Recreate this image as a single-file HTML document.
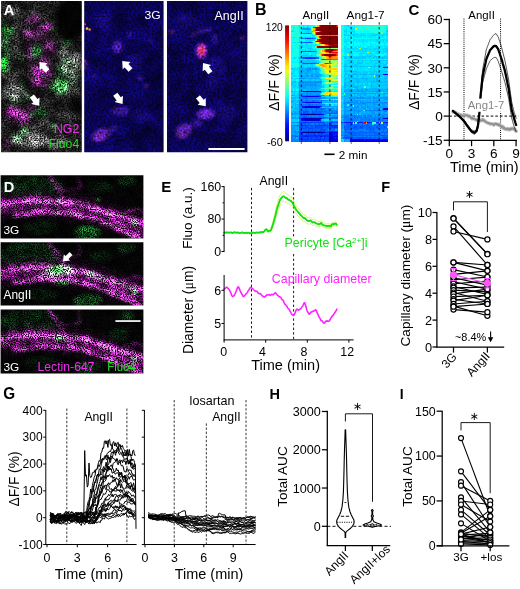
<!DOCTYPE html>
<html><head><meta charset="utf-8"><title>Figure</title>
<style>
html,body{margin:0;padding:0;background:#fff;}
svg{display:block;font-family:'Liberation Sans',Arial,sans-serif;}
svg text{font-family:'Liberation Sans',Arial,sans-serif;}
</style></head><body>
<svg width="520" height="589" viewBox="0 0 520 589">
<rect x="0" y="0" width="520" height="589" fill="#fff"/>
<defs><clipPath id="mc1"><rect x="1.1" y="1.0" width="80.7" height="151.2"/></clipPath>
<filter id="mf1" filterUnits="userSpaceOnUse" x="-4.9" y="-5.0" width="92.7" height="163.2" color-interpolation-filters="sRGB"><feGaussianBlur in="SourceGraphic" stdDeviation="2.0" result="b"/><feTurbulence type="fractalNoise" baseFrequency="0.1" numOctaves="2" seed="11" result="m"/><feColorMatrix in="m" type="matrix" values="2.2 0 0 0 -0.6000000000000001 2.2 0 0 0 -0.6000000000000001 2.2 0 0 0 -0.6000000000000001 0 0 0 0 1" result="m2"/><feComposite in="b" in2="m2" operator="arithmetic" k1="1.0" k2="0.5" k3="0" k4="0" result="c1"/><feTurbulence type="fractalNoise" baseFrequency="0.65" numOctaves="2" seed="4" result="n"/><feColorMatrix in="n" type="matrix" values="2.1 0 0 0 -0.630 2.1 0 0 0 -0.630 2.1 0 0 0 -0.630 0 0 0 0 1" result="n2"/><feComposite in="c1" in2="n2" operator="arithmetic" k1="1.8" k2="0.15" k3="0" k4="0"/></filter></defs>
<g clip-path="url(#mc1)"><g filter="url(#mf1)">
<rect x="-6.9" y="-7.0" width="96.7" height="167.2" fill="#1c1c1c"/>
<ellipse cx="13.1" cy="9.0" rx="8" ry="6" fill="#999" opacity="0.3"/>
<ellipse cx="11.1" cy="41.0" rx="10" ry="16" fill="#777" opacity="0.22"/>
<ellipse cx="15.1" cy="93.0" rx="11" ry="7" fill="#d8d8d8" opacity="0.48"/>
<ellipse cx="9.1" cy="76.0" rx="7" ry="9" fill="#888" opacity="0.3"/>
<ellipse cx="71.1" cy="65.0" rx="10" ry="14" fill="#d8d8d8" opacity="0.42"/>
<ellipse cx="63.1" cy="53.0" rx="6" ry="6" fill="#aaa" opacity="0.3"/>
<ellipse cx="73.1" cy="89.0" rx="7" ry="7" fill="#999" opacity="0.3"/>
<ellipse cx="29.1" cy="139.0" rx="19" ry="8" fill="#d8d8d8" opacity="0.5"/>
<ellipse cx="56.1" cy="141.0" rx="13" ry="7" fill="#999" opacity="0.42"/>
<ellipse cx="41.1" cy="126.0" rx="14" ry="6" fill="#888" opacity="0.22"/>
<ellipse cx="67.1" cy="121.0" rx="10" ry="10" fill="#777" opacity="0.22"/>
<ellipse cx="31.1" cy="21.0" rx="18" ry="12" fill="#555" opacity="0.2"/>
<ellipse cx="26.1" cy="61.0" rx="10" ry="10" fill="#555" opacity="0.15"/>
<ellipse cx="51.1" cy="101.0" rx="10" ry="8" fill="#555" opacity="0.15"/>
<ellipse cx="5.1" cy="46.0" rx="5" ry="22" fill="#208a30" opacity="0.35"/>
<ellipse cx="67.1" cy="73.0" rx="12" ry="16" fill="#50a060" opacity="0.25"/>
<ellipse cx="17.1" cy="101.0" rx="14" ry="10" fill="#50a060" opacity="0.15"/>
<ellipse cx="71.1" cy="19.0" rx="16" ry="22" fill="#000" opacity="0.85"/>
<ellipse cx="77.1" cy="107.0" rx="7" ry="8" fill="#000" opacity="0.8"/>
<ellipse cx="37.1" cy="93.0" rx="8" ry="5" fill="#000" opacity="0.5"/>
<ellipse cx="33.1" cy="20.0" rx="7" ry="3.5" fill="#d030d0" opacity="0.55" transform="rotate(-20 33.1 20.0)"/>
<ellipse cx="47.1" cy="27.0" rx="4.5" ry="3.5" fill="#d030d0" opacity="0.7"/>
<ellipse cx="49.1" cy="26.0" rx="2" ry="1.6" fill="#f060f0" opacity="0.8"/>
<ellipse cx="28.1" cy="34.0" rx="6" ry="3" fill="#d030d0" opacity="0.6" transform="rotate(20 28.1 34.0)"/>
<ellipse cx="27.1" cy="33.0" rx="2.5" ry="1.5" fill="#f060f0" opacity="0.7"/>
<ellipse cx="39.1" cy="31.0" rx="6" ry="4" fill="#d030d0" opacity="0.35"/>
<ellipse cx="30.1" cy="51.0" rx="2.5" ry="9" fill="#d030d0" opacity="0.45"/>
<ellipse cx="51.1" cy="47.0" rx="6" ry="3.5" fill="#d030d0" opacity="0.5" transform="rotate(25 51.1 47.0)"/>
<ellipse cx="45.1" cy="61.0" rx="5" ry="5" fill="#d030d0" opacity="0.4"/>
<ellipse cx="43.1" cy="73.0" rx="10" ry="5.5" fill="#d030d0" opacity="0.55"/>
<ellipse cx="41.1" cy="71.0" rx="4" ry="2.5" fill="#f060f0" opacity="0.5"/>
<ellipse cx="35.1" cy="69.0" rx="5" ry="4" fill="#d030d0" opacity="0.4"/>
<ellipse cx="39.1" cy="82.0" rx="9" ry="3.5" fill="#d030d0" opacity="0.65"/>
<ellipse cx="37.1" cy="81.0" rx="4" ry="2" fill="#f060f0" opacity="0.6"/>
<ellipse cx="15.1" cy="114.0" rx="10" ry="5" fill="#d030d0" opacity="0.65"/>
<ellipse cx="15.6" cy="114.0" rx="4.5" ry="2.5" fill="#f868f8" opacity="0.8"/>
<ellipse cx="23.1" cy="119.0" rx="8" ry="4" fill="#d030d0" opacity="0.5"/>
<ellipse cx="9.1" cy="109.0" rx="5" ry="4" fill="#d030d0" opacity="0.4"/>
<ellipse cx="31.1" cy="107.0" rx="6" ry="4" fill="#d030d0" opacity="0.3"/>
<ellipse cx="7.1" cy="144.0" rx="2.5" ry="2.5" fill="#d030d0" opacity="0.5"/>
<ellipse cx="39.1" cy="46.0" rx="16" ry="20" fill="#802080" opacity="0.18"/>
<ellipse cx="19.1" cy="115.0" rx="16" ry="9" fill="#802080" opacity="0.2"/>
<ellipse cx="7.6" cy="31.0" rx="4" ry="3" fill="#30e040" opacity="1"/>
<ellipse cx="3.1" cy="27.0" rx="2" ry="3" fill="#30e040" opacity="0.9"/>
<ellipse cx="4.1" cy="65.0" rx="3.5" ry="8" fill="#30e040" opacity="0.95"/>
<ellipse cx="36.6" cy="51.0" rx="4.2" ry="6.5" fill="#2cb844" opacity="0.8"/>
<ellipse cx="52.8" cy="31.0" rx="1.8" ry="1.8" fill="#30e040" opacity="0.9"/>
<ellipse cx="65.7" cy="42.0" rx="2.2" ry="2" fill="#30e040" opacity="0.9"/>
<ellipse cx="67.1" cy="60.0" rx="1.5" ry="1.5" fill="#30e040" opacity="0.8"/>
<ellipse cx="59.1" cy="87.0" rx="8" ry="5.5" fill="#70f080" opacity="0.95"/>
<ellipse cx="63.1" cy="81.0" rx="4" ry="3" fill="#30e040" opacity="0.8"/>
<ellipse cx="39.9" cy="113.0" rx="6" ry="3.5" fill="#28a038" opacity="0.8"/>
<ellipse cx="25.1" cy="130.0" rx="2.2" ry="2.2" fill="#30e040" opacity="0.9"/>
<ellipse cx="31.8" cy="115.6" rx="1.5" ry="1.5" fill="#30e040" opacity="0.9"/>
<ellipse cx="18.9" cy="137.0" rx="5" ry="3.5" fill="#80f090" opacity="0.8"/>
<ellipse cx="23.1" cy="86.0" rx="2" ry="2" fill="#30e040" opacity="0.7"/>
<ellipse cx="26.1" cy="98.0" rx="1.8" ry="1.8" fill="#30e040" opacity="0.8"/>
<ellipse cx="21.1" cy="57.0" rx="1.5" ry="1.5" fill="#30e040" opacity="0.7"/>
<ellipse cx="55.1" cy="126.0" rx="2" ry="2" fill="#30e040" opacity="0.7"/>
<ellipse cx="61.1" cy="71.0" rx="2" ry="2" fill="#30e040" opacity="0.6"/>
</g>
</g>
<polygon points="0.0,0.0 -6.4,-5.3 -6.4,-2.6 -12.2,-2.6 -12.2,2.6 -6.4,2.6 -6.4,5.3" fill="#fff" transform="translate(39.4 62.0) rotate(-132)"/>
<polygon points="0.0,0.0 -6.4,-5.3 -6.4,-2.6 -12.2,-2.6 -12.2,2.6 -6.4,2.6 -6.4,5.3" fill="#fff" transform="translate(39.2 105.8) rotate(53)"/>
<text x="3.70" y="15.00" font-size="14.6" text-anchor="start" fill="#fff" font-weight="bold" >A</text>
<text x="54.00" y="133.30" font-size="12.2" text-anchor="start" fill="#f030f0" font-weight="normal" textLength="25.2" lengthAdjust="spacingAndGlyphs" >NG2</text>
<text x="48.60" y="147.50" font-size="12.2" text-anchor="start" fill="#20e020" font-weight="normal" textLength="30.6" lengthAdjust="spacingAndGlyphs" >Fluo4</text>
<defs><clipPath id="mc2"><rect x="84.2" y="1.0" width="79.4" height="151.2"/></clipPath>
<filter id="mf2" filterUnits="userSpaceOnUse" x="78.2" y="-5.0" width="91.4" height="163.2" color-interpolation-filters="sRGB"><feGaussianBlur in="SourceGraphic" stdDeviation="1.6" result="b"/><feTurbulence type="fractalNoise" baseFrequency="0.07" numOctaves="2" seed="16" result="m"/><feColorMatrix in="m" type="matrix" values="1.3 0 0 0 -0.15000000000000002 1.3 0 0 0 -0.15000000000000002 1.3 0 0 0 -0.15000000000000002 0 0 0 0 1" result="m2"/><feComposite in="b" in2="m2" operator="arithmetic" k1="0.8" k2="0.6" k3="0" k4="0" result="c1"/><feTurbulence type="fractalNoise" baseFrequency="0.5" numOctaves="2" seed="9" result="n"/><feColorMatrix in="n" type="matrix" values="1.9 0 0 0 -0.450 1.9 0 0 0 -0.450 1.9 0 0 0 -0.450 0 0 0 0 1" result="n2"/><feComposite in="c1" in2="n2" operator="arithmetic" k1="1.0" k2="0.4" k3="0" k4="0"/></filter></defs>
<g clip-path="url(#mc2)"><g filter="url(#mf2)">
<rect x="76.2" y="-7.0" width="95.4" height="167.2" fill="#0b055e"/>
<ellipse cx="154.2" cy="81.0" rx="10" ry="32" fill="#07033e" opacity="0.75"/>
<ellipse cx="144.2" cy="136.0" rx="18" ry="14" fill="#07033e" opacity="0.6"/>
<ellipse cx="104.2" cy="101.0" rx="14" ry="10" fill="#07033e" opacity="0.5"/>
<ellipse cx="124.2" cy="21.0" rx="20" ry="10" fill="#07033e" opacity="0.35"/>
<ellipse cx="114.2" cy="61.0" rx="10" ry="14" fill="#07033e" opacity="0.4"/>
<ellipse cx="117.5" cy="47.0" rx="5" ry="6.5" fill="#5622c8" opacity="0.85"/>
<ellipse cx="120.2" cy="111.0" rx="9" ry="4.5" fill="#5622c8" opacity="0.6"/>
<ellipse cx="101.2" cy="135.0" rx="10" ry="6" fill="#7228d4" opacity="0.9" transform="rotate(-25 101.2 135.0)"/>
<ellipse cx="99.2" cy="137.0" rx="4" ry="3" fill="#a838e0" opacity="0.7"/>
<ellipse cx="112.2" cy="129.0" rx="6" ry="3" fill="#5622c8" opacity="0.5" transform="rotate(-30 112.2 129.0)"/>
<ellipse cx="85.2" cy="65.0" rx="2" ry="5" fill="#7228d4" opacity="0.8"/>
<ellipse cx="140.2" cy="78.0" rx="2" ry="2" fill="#7228d4" opacity="0.8"/>
<ellipse cx="146.2" cy="86.0" rx="2.5" ry="2" fill="#7228d4" opacity="0.7"/>
<ellipse cx="129.2" cy="34.0" rx="2" ry="2" fill="#5622c8" opacity="0.6"/>
<ellipse cx="150.2" cy="41.0" rx="1.5" ry="1.5" fill="#5622c8" opacity="0.6"/>
<ellipse cx="94.2" cy="76.0" rx="1.5" ry="1.5" fill="#5622c8" opacity="0.7"/>
<ellipse cx="134.2" cy="61.0" rx="8" ry="8" fill="#2a14a8" opacity="0.3"/>
<ellipse cx="104.2" cy="21.0" rx="10" ry="8" fill="#2a14a8" opacity="0.3"/>
<ellipse cx="139.2" cy="116.0" rx="10" ry="6" fill="#2a14a8" opacity="0.3"/>
</g>
<circle cx="87.0" cy="28.6" r="1.3" fill="#ffc020" opacity="1"/>
<circle cx="89.6" cy="29.6" r="1.3" fill="#ff7020" opacity="1"/>
<circle cx="85.1" cy="24.2" r="1.0" fill="#ff40a0" opacity="0.9"/>
<circle cx="84.8" cy="61.0" r="1.0" fill="#c030c0" opacity="0.8"/>
</g>
<polygon points="0.0,0.0 -6.4,-5.3 -6.4,-2.6 -12.2,-2.6 -12.2,2.6 -6.4,2.6 -6.4,5.3" fill="#fff" transform="translate(122.2 61.0) rotate(-133)"/>
<polygon points="0.0,0.0 -6.4,-5.3 -6.4,-2.6 -12.2,-2.6 -12.2,2.6 -6.4,2.6 -6.4,5.3" fill="#fff" transform="translate(122.6 104.0) rotate(53)"/>
<text x="144.40" y="18.70" font-size="11.8" text-anchor="start" fill="#fff" font-weight="normal" textLength="16.2" lengthAdjust="spacingAndGlyphs" >3G</text>
<defs><clipPath id="mc3"><rect x="167.0" y="1.0" width="80.4" height="151.2"/></clipPath>
<filter id="mf3" filterUnits="userSpaceOnUse" x="161.0" y="-5.0" width="92.4" height="163.2" color-interpolation-filters="sRGB"><feGaussianBlur in="SourceGraphic" stdDeviation="1.6" result="b"/><feTurbulence type="fractalNoise" baseFrequency="0.07" numOctaves="2" seed="20" result="m"/><feColorMatrix in="m" type="matrix" values="1.3 0 0 0 -0.15000000000000002 1.3 0 0 0 -0.15000000000000002 1.3 0 0 0 -0.15000000000000002 0 0 0 0 1" result="m2"/><feComposite in="b" in2="m2" operator="arithmetic" k1="0.8" k2="0.6" k3="0" k4="0" result="c1"/><feTurbulence type="fractalNoise" baseFrequency="0.5" numOctaves="2" seed="13" result="n"/><feColorMatrix in="n" type="matrix" values="1.9 0 0 0 -0.450 1.9 0 0 0 -0.450 1.9 0 0 0 -0.450 0 0 0 0 1" result="n2"/><feComposite in="c1" in2="n2" operator="arithmetic" k1="1.0" k2="0.4" k3="0" k4="0"/></filter></defs>
<g clip-path="url(#mc3)"><g filter="url(#mf3)">
<rect x="159.0" y="-7.0" width="96.4" height="167.2" fill="#0b055e"/>
<ellipse cx="192.0" cy="101.0" rx="12" ry="10" fill="#07033e" opacity="0.75"/>
<ellipse cx="175.0" cy="71.0" rx="8" ry="20" fill="#07033e" opacity="0.55"/>
<ellipse cx="235.0" cy="91.0" rx="10" ry="30" fill="#07033e" opacity="0.5"/>
<ellipse cx="229.0" cy="141.0" rx="16" ry="10" fill="#07033e" opacity="0.6"/>
<ellipse cx="217.0" cy="16.0" rx="20" ry="8" fill="#07033e" opacity="0.3"/>
<ellipse cx="201.6" cy="51.0" rx="5.5" ry="8" fill="#9030e0" opacity="0.95"/>
<ellipse cx="201.6" cy="50.5" rx="3.2" ry="5.2" fill="#f02860" opacity="1"/>
<ellipse cx="201.6" cy="50.0" rx="1.6" ry="3" fill="#ff4030" opacity="1"/>
<ellipse cx="205.7" cy="114.0" rx="9.5" ry="5" fill="#7228d4" opacity="0.9"/>
<ellipse cx="184.0" cy="131.0" rx="9" ry="7" fill="#7228d4" opacity="0.85" transform="rotate(-30 184.0 131.0)"/>
<ellipse cx="181.0" cy="135.0" rx="4" ry="3" fill="#a038e0" opacity="0.6"/>
<ellipse cx="197.0" cy="123.0" rx="6" ry="4" fill="#5622c8" opacity="0.5"/>
<ellipse cx="203.0" cy="31.0" rx="10" ry="2.5" fill="#5622c8" opacity="0.55" transform="rotate(-10 203.0 31.0)"/>
<ellipse cx="193.0" cy="35.0" rx="3" ry="2" fill="#7228d4" opacity="0.6"/>
<ellipse cx="215.0" cy="39.0" rx="3" ry="5" fill="#5622c8" opacity="0.5"/>
<ellipse cx="170.4" cy="32.0" rx="1.3" ry="1.3" fill="#f040c0" opacity="1"/>
<ellipse cx="173.0" cy="31.5" rx="1" ry="1" fill="#f040c0" opacity="0.9"/>
<ellipse cx="242.4" cy="37.7" rx="1.3" ry="1.3" fill="#e040e0" opacity="1"/>
<ellipse cx="217.0" cy="66.0" rx="10" ry="10" fill="#2a14a8" opacity="0.3"/>
<ellipse cx="187.0" cy="21.0" rx="10" ry="8" fill="#2a14a8" opacity="0.28"/>
<ellipse cx="227.0" cy="113.0" rx="10" ry="8" fill="#2a14a8" opacity="0.32"/>
<ellipse cx="212.0" cy="81.0" rx="6" ry="10" fill="#2a14a8" opacity="0.28"/>
</g>
</g>
<polygon points="0.0,0.0 -6.4,-5.3 -6.4,-2.6 -12.2,-2.6 -12.2,2.6 -6.4,2.6 -6.4,5.3" fill="#fff" transform="translate(203.0 63.0) rotate(-127)"/>
<polygon points="0.0,0.0 -6.4,-5.3 -6.4,-2.6 -12.2,-2.6 -12.2,2.6 -6.4,2.6 -6.4,5.3" fill="#fff" transform="translate(205.8 106.2) rotate(50)"/>
<text x="214.60" y="19.60" font-size="12.2" text-anchor="start" fill="#fff" font-weight="normal" textLength="29.0" lengthAdjust="spacingAndGlyphs" >AngII</text>
<rect x="208.4" y="148.0" width="36.2" height="2.0" fill="#fff"/>
<defs><clipPath id="mc4"><rect x="0.6" y="175.2" width="142.8" height="63.2"/></clipPath>
<filter id="mf4" filterUnits="userSpaceOnUse" x="-5.4" y="169.2" width="154.8" height="75.2" color-interpolation-filters="sRGB"><feGaussianBlur in="SourceGraphic" stdDeviation="1.5" result="b"/><feTurbulence type="fractalNoise" baseFrequency="0.12" numOctaves="2" seed="28" result="m"/><feColorMatrix in="m" type="matrix" values="1.8 0 0 0 -0.4 1.8 0 0 0 -0.4 1.8 0 0 0 -0.4 0 0 0 0 1" result="m2"/><feComposite in="b" in2="m2" operator="arithmetic" k1="1.0" k2="0.5" k3="0" k4="0" result="c1"/><feTurbulence type="fractalNoise" baseFrequency="0.85" numOctaves="2" seed="21" result="n"/><feColorMatrix in="n" type="matrix" values="2.6 0 0 0 -0.920 2.6 0 0 0 -0.920 2.6 0 0 0 -0.920 0 0 0 0 1" result="n2"/><feComposite in="c1" in2="n2" operator="arithmetic" k1="2.0" k2="0.12" k3="0" k4="0"/></filter></defs>
<g clip-path="url(#mc4)"><g filter="url(#mf4)">
<rect x="-7.4" y="167.2" width="158.8" height="79.2" fill="#050505"/>
<ellipse cx="30.6" cy="187.2" rx="32" ry="12" fill="#1c7a2c" opacity="0.24"/>
<ellipse cx="87.6" cy="232.2" rx="13" ry="7" fill="#229033" opacity="0.5"/>
<ellipse cx="126.6" cy="181.2" rx="9" ry="5" fill="#1c7a2c" opacity="0.25"/>
<ellipse cx="40.6" cy="227.2" rx="18" ry="7" fill="#1c7a2c" opacity="0.14"/>
<ellipse cx="100.6" cy="187.2" rx="14" ry="6" fill="#1c7a2c" opacity="0.12"/>
<polyline points="0.6,207.2 28.6,203.2 56.6,204.7 84.6,209.2 112.6,218.2 143.6,228.2" fill="none" stroke="#a020a0" stroke-width="30" opacity="0.08" stroke-linecap="round" stroke-linejoin="round"/>
<polyline points="0.6,206.2 28.6,202.2 56.6,203.7 84.6,208.2 112.6,217.2 143.6,227.2" fill="none" stroke="#a020a0" stroke-width="15" opacity="0.5" stroke-linecap="round" stroke-linejoin="round"/>
<polyline points="0.6,205.2 28.6,200.2 56.6,201.8 84.6,204.7 112.6,214.2 143.6,223.2" fill="none" stroke="#f048f0" stroke-width="4.2" opacity="0.95" stroke-linecap="round" stroke-linejoin="round"/>
<polyline points="14.6,215.2 42.6,211.7 70.6,213.2 98.6,220.2 126.6,232.8 140.6,239.2" fill="none" stroke="#f048f0" stroke-width="4.0" opacity="0.9" stroke-linecap="round" stroke-linejoin="round"/>
<polyline points="20.6,201.7 56.6,201.8 84.6,204.7 112.6,214.2 135.6,221.2" fill="none" stroke="#ffb0ff" stroke-width="1.4" opacity="0.55" stroke-linecap="round" stroke-linejoin="round"/>
<polyline points="42.6,211.7 70.6,213.2 98.6,220.2 126.6,232.8" fill="none" stroke="#ffb0ff" stroke-width="1.2" opacity="0.45" stroke-linecap="round" stroke-linejoin="round"/>
<polyline points="65.2,200.2 56.6,187.2 48.3,175.2" fill="none" stroke="#c030c0" stroke-width="1.6" opacity="0.8" stroke-linecap="round" stroke-linejoin="round"/>
<polyline points="50.6,178.2 64.6,191.2 80.6,188.2 78.6,177.2" fill="none" stroke="#a028a0" stroke-width="1.3" opacity="0.6" stroke-linecap="round" stroke-linejoin="round"/>
<polyline points="120.6,215.2 132.6,209.2 143.6,211.2" fill="none" stroke="#c030c0" stroke-width="2.0" opacity="0.6" stroke-linecap="round" stroke-linejoin="round"/>
<polyline points="100.6,211.2 120.6,223.2 138.6,235.2" fill="none" stroke="#f048f0" stroke-width="3.0" opacity="0.6" stroke-linecap="round" stroke-linejoin="round"/>
<ellipse cx="98.6" cy="199.2" rx="1.5" ry="1.5" fill="#30e040" opacity="0.9"/>
<ellipse cx="134.6" cy="222.9" rx="2.2" ry="3" fill="#60f070" opacity="0.95"/>
<ellipse cx="59.6" cy="200.2" rx="3" ry="2" fill="#90f0a0" opacity="0.5"/>
</g>
</g>
<text x="3.80" y="192.30" font-size="14.6" text-anchor="start" fill="#fff" font-weight="bold" >D</text>
<text x="3.40" y="234.40" font-size="11.8" text-anchor="start" fill="#fff" font-weight="normal" textLength="15.8" lengthAdjust="spacingAndGlyphs" >3G</text>
<defs><clipPath id="mc5"><rect x="0.6" y="242.2" width="142.8" height="63.4"/></clipPath>
<filter id="mf5" filterUnits="userSpaceOnUse" x="-5.4" y="236.2" width="154.8" height="75.4" color-interpolation-filters="sRGB"><feGaussianBlur in="SourceGraphic" stdDeviation="1.5" result="b"/><feTurbulence type="fractalNoise" baseFrequency="0.12" numOctaves="2" seed="29" result="m"/><feColorMatrix in="m" type="matrix" values="1.8 0 0 0 -0.4 1.8 0 0 0 -0.4 1.8 0 0 0 -0.4 0 0 0 0 1" result="m2"/><feComposite in="b" in2="m2" operator="arithmetic" k1="1.0" k2="0.5" k3="0" k4="0" result="c1"/><feTurbulence type="fractalNoise" baseFrequency="0.85" numOctaves="2" seed="22" result="n"/><feColorMatrix in="n" type="matrix" values="2.6 0 0 0 -0.920 2.6 0 0 0 -0.920 2.6 0 0 0 -0.920 0 0 0 0 1" result="n2"/><feComposite in="c1" in2="n2" operator="arithmetic" k1="2.0" k2="0.12" k3="0" k4="0"/></filter></defs>
<g clip-path="url(#mc5)"><g filter="url(#mf5)">
<rect x="-7.4" y="234.2" width="158.8" height="79.4" fill="#050505"/>
<ellipse cx="30.6" cy="254.2" rx="32" ry="12" fill="#1c7a2c" opacity="0.22"/>
<ellipse cx="87.6" cy="300.2" rx="15" ry="6" fill="#229033" opacity="0.4"/>
<ellipse cx="126.6" cy="248.2" rx="9" ry="5" fill="#1c7a2c" opacity="0.25"/>
<ellipse cx="40.6" cy="294.2" rx="18" ry="6" fill="#1c7a2c" opacity="0.14"/>
<ellipse cx="100.6" cy="256.2" rx="12" ry="5" fill="#1c7a2c" opacity="0.14"/>
<polyline points="0.6,274.2 28.6,270.2 56.6,271.7 84.6,276.2 112.6,285.2 143.6,295.2" fill="none" stroke="#a020a0" stroke-width="30" opacity="0.08" stroke-linecap="round" stroke-linejoin="round"/>
<polyline points="0.6,273.2 28.6,269.2 56.6,270.7 84.6,275.2 112.6,284.2 143.6,294.2" fill="none" stroke="#a020a0" stroke-width="15" opacity="0.5" stroke-linecap="round" stroke-linejoin="round"/>
<polyline points="0.6,272.2 28.6,267.2 56.6,268.8 84.6,271.7 112.6,281.2 143.6,290.2" fill="none" stroke="#f048f0" stroke-width="4.2" opacity="0.95" stroke-linecap="round" stroke-linejoin="round"/>
<polyline points="14.6,282.2 42.6,278.7 70.6,280.2 98.6,287.2 126.6,299.8 140.6,306.2" fill="none" stroke="#f048f0" stroke-width="4.0" opacity="0.9" stroke-linecap="round" stroke-linejoin="round"/>
<polyline points="20.6,268.7 56.6,268.8 84.6,271.7 112.6,281.2 135.6,288.2" fill="none" stroke="#ffb0ff" stroke-width="1.4" opacity="0.55" stroke-linecap="round" stroke-linejoin="round"/>
<polyline points="42.6,278.7 70.6,280.2 98.6,287.2 126.6,299.8" fill="none" stroke="#ffb0ff" stroke-width="1.2" opacity="0.45" stroke-linecap="round" stroke-linejoin="round"/>
<polyline points="65.2,267.2 56.6,254.2 48.3,242.2" fill="none" stroke="#c030c0" stroke-width="1.6" opacity="0.8" stroke-linecap="round" stroke-linejoin="round"/>
<polyline points="50.6,245.2 64.6,258.2 80.6,255.2 78.6,244.2" fill="none" stroke="#a028a0" stroke-width="1.3" opacity="0.6" stroke-linecap="round" stroke-linejoin="round"/>
<polyline points="120.6,282.2 132.6,276.2 143.6,278.2" fill="none" stroke="#c030c0" stroke-width="2.0" opacity="0.6" stroke-linecap="round" stroke-linejoin="round"/>
<polyline points="100.6,278.2 120.6,290.2 138.6,302.2" fill="none" stroke="#f048f0" stroke-width="3.0" opacity="0.6" stroke-linecap="round" stroke-linejoin="round"/>
<ellipse cx="134.6" cy="291.2" rx="2.2" ry="3" fill="#60f070" opacity="0.9"/>
<ellipse cx="58.6" cy="270.2" rx="14" ry="5" fill="#e0ffe6" opacity="0.95"/>
<ellipse cx="56.6" cy="269.7" rx="6" ry="3.5" fill="#40ff50" opacity="0.95"/>
<ellipse cx="47.6" cy="274.2" rx="8" ry="3" fill="#f0d0f8" opacity="0.55"/>
<ellipse cx="70.6" cy="273.2" rx="6" ry="3" fill="#f0d8f8" opacity="0.5"/>
<ellipse cx="90.6" cy="273.7" rx="6" ry="2.2" fill="#a0f0b0" opacity="0.8"/>
<ellipse cx="100.6" cy="278.2" rx="4" ry="2" fill="#80e890" opacity="0.55"/>
<ellipse cx="128.6" cy="288.2" rx="3" ry="2.5" fill="#d0f0d8" opacity="0.6"/>
<ellipse cx="62.6" cy="282.2" rx="8" ry="3" fill="#40d050" opacity="0.5"/>
</g>
</g>
<polygon points="0.0,0.0 -5.8,-4.4 -5.8,-2.0 -11.5,-2.0 -11.5,2.0 -5.8,2.0 -5.8,4.4" fill="#fff" transform="translate(62.9 261.6) rotate(135)"/>
<text x="3.50" y="299.00" font-size="12.0" text-anchor="start" fill="#fff" font-weight="normal" textLength="27.8" lengthAdjust="spacingAndGlyphs" >AngII</text>
<defs><clipPath id="mc6"><rect x="0.6" y="309.5" width="142.8" height="64.0"/></clipPath>
<filter id="mf6" filterUnits="userSpaceOnUse" x="-5.4" y="303.5" width="154.8" height="76.0" color-interpolation-filters="sRGB"><feGaussianBlur in="SourceGraphic" stdDeviation="1.5" result="b"/><feTurbulence type="fractalNoise" baseFrequency="0.12" numOctaves="2" seed="30" result="m"/><feColorMatrix in="m" type="matrix" values="1.8 0 0 0 -0.4 1.8 0 0 0 -0.4 1.8 0 0 0 -0.4 0 0 0 0 1" result="m2"/><feComposite in="b" in2="m2" operator="arithmetic" k1="1.0" k2="0.5" k3="0" k4="0" result="c1"/><feTurbulence type="fractalNoise" baseFrequency="0.85" numOctaves="2" seed="23" result="n"/><feColorMatrix in="n" type="matrix" values="2.6 0 0 0 -0.920 2.6 0 0 0 -0.920 2.6 0 0 0 -0.920 0 0 0 0 1" result="n2"/><feComposite in="c1" in2="n2" operator="arithmetic" k1="2.0" k2="0.12" k3="0" k4="0"/></filter></defs>
<g clip-path="url(#mc6)"><g filter="url(#mf6)">
<rect x="-7.4" y="301.5" width="158.8" height="80.0" fill="#050505"/>
<ellipse cx="30.6" cy="321.5" rx="32" ry="12" fill="#1c7a2c" opacity="0.2"/>
<ellipse cx="87.6" cy="367.5" rx="13" ry="6" fill="#229033" opacity="0.32"/>
<ellipse cx="126.6" cy="315.5" rx="9" ry="5" fill="#1c7a2c" opacity="0.3"/>
<ellipse cx="118.6" cy="334.5" rx="9" ry="7" fill="#1c7a2c" opacity="0.25"/>
<ellipse cx="40.6" cy="361.5" rx="16" ry="6" fill="#1c7a2c" opacity="0.12"/>
<polyline points="0.6,341.5 28.6,337.5 56.6,339.0 84.6,343.5 112.6,352.5 143.6,362.5" fill="none" stroke="#a020a0" stroke-width="30" opacity="0.08" stroke-linecap="round" stroke-linejoin="round"/>
<polyline points="0.6,340.5 28.6,336.5 56.6,338.0 84.6,342.5 112.6,351.5 143.6,361.5" fill="none" stroke="#a020a0" stroke-width="15" opacity="0.5" stroke-linecap="round" stroke-linejoin="round"/>
<polyline points="0.6,339.5 28.6,334.5 56.6,336.1 84.6,339.0 112.6,348.5 143.6,357.5" fill="none" stroke="#f048f0" stroke-width="4.2" opacity="0.95" stroke-linecap="round" stroke-linejoin="round"/>
<polyline points="14.6,349.5 42.6,346.0 70.6,347.5 98.6,354.5 126.6,367.1 140.6,373.5" fill="none" stroke="#f048f0" stroke-width="4.0" opacity="0.9" stroke-linecap="round" stroke-linejoin="round"/>
<polyline points="20.6,336.0 56.6,336.1 84.6,339.0 112.6,348.5 135.6,355.5" fill="none" stroke="#ffb0ff" stroke-width="1.4" opacity="0.55" stroke-linecap="round" stroke-linejoin="round"/>
<polyline points="42.6,346.0 70.6,347.5 98.6,354.5 126.6,367.1" fill="none" stroke="#ffb0ff" stroke-width="1.2" opacity="0.45" stroke-linecap="round" stroke-linejoin="round"/>
<polyline points="65.2,334.5 56.6,321.5 48.3,309.5" fill="none" stroke="#c030c0" stroke-width="1.6" opacity="0.8" stroke-linecap="round" stroke-linejoin="round"/>
<polyline points="50.6,312.5 64.6,325.5 80.6,322.5 78.6,311.5" fill="none" stroke="#a028a0" stroke-width="1.3" opacity="0.6" stroke-linecap="round" stroke-linejoin="round"/>
<polyline points="120.6,349.5 132.6,343.5 143.6,345.5" fill="none" stroke="#c030c0" stroke-width="2.0" opacity="0.6" stroke-linecap="round" stroke-linejoin="round"/>
<polyline points="100.6,345.5 120.6,357.5 138.6,369.5" fill="none" stroke="#f048f0" stroke-width="3.0" opacity="0.6" stroke-linecap="round" stroke-linejoin="round"/>
<ellipse cx="134.6" cy="358.5" rx="2.2" ry="3" fill="#60f070" opacity="0.8"/>
<ellipse cx="58.3" cy="337.5" rx="3.5" ry="2.5" fill="#50f060" opacity="0.9"/>
<ellipse cx="62.6" cy="339.5" rx="6" ry="3" fill="#60c070" opacity="0.45"/>
</g>
</g>
<rect x="115.4" y="320.2" width="25.2" height="1.7" fill="#fff"/>
<text x="3.40" y="370.70" font-size="11.8" text-anchor="start" fill="#fff" font-weight="normal" textLength="15.8" lengthAdjust="spacingAndGlyphs" >3G</text>
<text x="37.50" y="370.70" font-size="12.2" text-anchor="start" fill="#f030f0" font-weight="normal" textLength="57.0" lengthAdjust="spacingAndGlyphs" >Lectin-647</text>
<text x="107.30" y="370.70" font-size="12.2" text-anchor="start" fill="#20e020" font-weight="normal" textLength="28.4" lengthAdjust="spacingAndGlyphs" >Fluo4</text>
<g shape-rendering="crispEdges">
<path fill="#00007f" d="M309.4 113.7h1.6v1.6h-1.6zM312.0 113.7h1.6v1.6h-1.6zM314.6 113.7h1.6v1.6h-1.6zM305.5 131.6h14.6v1.6h-14.6z"/>
<path fill="#000099" d="M305.5 113.7h4.2v1.6h-4.2zM310.7 113.7h1.6v1.6h-1.6zM313.3 113.7h1.6v1.6h-1.6zM310.7 117.8h1.6v1.6h-1.6zM313.3 117.8h2.9v1.6h-2.9zM301.6 131.6h1.6v1.6h-1.6zM304.2 131.6h1.6v1.6h-1.6zM319.8 131.6h1.6v1.6h-1.6z"/>
<path fill="#0000b2" d="M306.8 90.2h1.6v1.6h-1.6zM314.6 90.2h1.6v1.6h-1.6zM306.8 106.8h5.5v1.6h-5.5zM315.9 113.7h1.6v1.6h-1.6zM304.2 117.8h6.8v1.6h-6.8zM312.0 117.8h1.6v1.6h-1.6zM315.9 117.8h2.9v1.6h-2.9zM308.1 119.2h2.9v1.6h-2.9zM302.9 131.6h1.6v1.6h-1.6zM321.1 131.6h4.2v1.6h-4.2zM330.2 135.8h1.6v1.6h-1.6zM328.9 138.5h1.6v1.6h-1.6zM328.9 139.9h1.6v1.6h-1.6z"/>
<path fill="#0000cc" d="M308.1 90.2h6.8v1.6h-6.8zM315.9 90.2h1.6v1.6h-1.6zM306.8 105.4h1.6v1.6h-1.6zM309.4 105.4h2.9v1.6h-2.9zM313.3 105.4h1.6v1.6h-1.6zM312.0 106.8h2.9v1.6h-2.9zM315.9 106.8h1.6v1.6h-1.6zM302.9 113.7h2.9v1.6h-2.9zM317.2 113.7h4.2v1.6h-4.2zM302.9 117.8h1.6v1.6h-1.6zM318.5 117.8h2.9v1.6h-2.9zM304.2 119.2h1.6v1.6h-1.6zM306.8 119.2h1.6v1.6h-1.6zM310.7 119.2h2.9v1.6h-2.9zM314.6 119.2h1.6v1.6h-1.6zM336.7 131.6h1.6v1.6h-1.6zM328.9 135.8h1.6v1.6h-1.6zM331.5 135.8h1.6v1.6h-1.6zM335.4 135.8h2.9v1.6h-2.9zM330.2 138.5h1.6v1.6h-1.6zM330.2 139.9h1.6v1.6h-1.6zM335.4 139.9h1.6v1.6h-1.6z"/>
<path fill="#0000e5" d="M304.2 90.2h2.9v1.6h-2.9zM317.2 90.2h2.9v1.6h-2.9zM308.1 95.8h5.5v1.6h-5.5zM305.5 101.3h1.6v1.6h-1.6zM308.1 101.3h1.6v1.6h-1.6zM310.7 101.3h1.6v1.6h-1.6zM313.3 101.3h1.6v1.6h-1.6zM304.2 105.4h2.9v1.6h-2.9zM308.1 105.4h1.6v1.6h-1.6zM312.0 105.4h1.6v1.6h-1.6zM314.6 105.4h5.5v1.6h-5.5zM302.9 106.8h4.2v1.6h-4.2zM314.6 106.8h1.6v1.6h-1.6zM301.6 113.7h1.6v1.6h-1.6zM321.1 113.7h1.6v1.6h-1.6zM301.6 117.8h1.6v1.6h-1.6zM305.5 119.2h1.6v1.6h-1.6zM313.3 119.2h1.6v1.6h-1.6zM315.9 119.2h2.9v1.6h-2.9zM334.1 131.6h1.6v1.6h-1.6zM328.9 133.0h2.9v1.6h-2.9zM328.9 134.4h2.9v1.6h-2.9zM332.8 135.8h2.9v1.6h-2.9zM328.9 137.2h4.2v1.6h-4.2zM331.5 138.5h1.6v1.6h-1.6zM335.4 138.5h2.9v1.6h-2.9zM331.5 139.9h4.2v1.6h-4.2zM336.7 139.9h1.6v1.6h-1.6z"/>
<path fill="#0000ff" d="M302.9 90.2h1.6v1.6h-1.6zM319.8 90.2h1.6v1.6h-1.6zM305.5 95.8h2.9v1.6h-2.9zM313.3 95.8h5.5v1.6h-5.5zM304.2 101.3h1.6v1.6h-1.6zM306.8 101.3h1.6v1.6h-1.6zM309.4 101.3h1.6v1.6h-1.6zM312.0 101.3h1.6v1.6h-1.6zM314.6 101.3h5.5v1.6h-5.5zM301.6 105.4h1.6v1.6h-1.6zM319.8 105.4h1.6v1.6h-1.6zM301.6 106.8h1.6v1.6h-1.6zM317.2 106.8h1.6v1.6h-1.6zM321.1 117.8h1.6v1.6h-1.6zM301.6 119.2h2.9v1.6h-2.9zM318.5 119.2h1.6v1.6h-1.6zM331.5 124.7h1.6v1.6h-1.6zM328.9 131.6h5.5v1.6h-5.5zM335.4 131.6h1.6v1.6h-1.6zM331.5 133.0h1.6v1.6h-1.6zM334.1 133.0h1.6v1.6h-1.6zM331.5 134.4h1.6v1.6h-1.6zM335.4 134.4h1.6v1.6h-1.6zM321.1 135.8h1.6v1.6h-1.6zM332.8 137.2h1.6v1.6h-1.6zM335.4 137.2h1.6v1.6h-1.6zM332.8 138.5h2.9v1.6h-2.9z"/>
<path fill="#0019ff" d="M309.4 57.1h1.6v1.6h-1.6zM301.6 90.2h1.6v1.6h-1.6zM301.6 95.8h4.2v1.6h-4.2zM302.9 101.3h1.6v1.6h-1.6zM319.8 101.3h2.9v1.6h-2.9zM302.9 105.4h1.6v1.6h-1.6zM318.5 106.8h1.6v1.6h-1.6zM322.4 113.7h1.6v1.6h-1.6zM319.8 119.2h1.6v1.6h-1.6zM300.3 124.7h1.6v1.6h-1.6zM318.5 124.7h1.6v1.6h-1.6zM328.9 124.7h2.9v1.6h-2.9zM334.1 124.7h4.2v1.6h-4.2zM328.9 126.1h1.6v1.6h-1.6zM334.1 126.1h1.6v1.6h-1.6zM328.9 130.3h1.6v1.6h-1.6zM332.8 130.3h2.9v1.6h-2.9zM332.8 133.0h1.6v1.6h-1.6zM335.4 133.0h2.9v1.6h-2.9zM304.2 134.4h2.9v1.6h-2.9zM309.4 134.4h1.6v1.6h-1.6zM313.3 134.4h4.2v1.6h-4.2zM318.5 134.4h1.6v1.6h-1.6zM323.7 134.4h1.6v1.6h-1.6zM326.3 134.4h1.6v1.6h-1.6zM332.8 134.4h2.9v1.6h-2.9zM336.7 134.4h1.6v1.6h-1.6zM300.3 135.8h1.6v1.6h-1.6zM302.9 135.8h6.8v1.6h-6.8zM315.9 135.8h1.6v1.6h-1.6zM319.8 135.8h1.6v1.6h-1.6zM323.7 135.8h1.6v1.6h-1.6zM334.1 137.2h1.6v1.6h-1.6zM336.7 137.2h1.6v1.6h-1.6zM300.3 138.5h1.6v1.6h-1.6zM306.8 138.5h2.9v1.6h-2.9zM310.7 138.5h1.6v1.6h-1.6zM315.9 138.5h2.9v1.6h-2.9zM319.8 138.5h1.6v1.6h-1.6zM322.4 138.5h2.9v1.6h-2.9z"/>
<path fill="#0032ff" d="M306.8 37.8h1.6v1.6h-1.6zM304.2 57.1h5.5v1.6h-5.5zM310.7 57.1h5.5v1.6h-5.5zM310.7 62.7h1.6v1.6h-1.6zM318.5 95.8h2.9v1.6h-2.9zM301.6 101.3h1.6v1.6h-1.6zM306.8 112.3h1.6v1.6h-1.6zM313.3 112.3h1.6v1.6h-1.6zM299.0 117.8h1.6v1.6h-1.6zM302.9 122.0h4.2v1.6h-4.2zM308.1 122.0h1.6v1.6h-1.6zM310.7 122.0h1.6v1.6h-1.6zM314.6 122.0h1.6v1.6h-1.6zM317.2 122.0h1.6v1.6h-1.6zM319.8 122.0h1.6v1.6h-1.6zM328.9 122.0h2.9v1.6h-2.9zM301.6 124.7h5.5v1.6h-5.5zM310.7 124.7h1.6v1.6h-1.6zM314.6 124.7h4.2v1.6h-4.2zM319.8 124.7h6.8v1.6h-6.8zM332.8 124.7h1.6v1.6h-1.6zM300.3 126.1h1.6v1.6h-1.6zM314.6 126.1h1.6v1.6h-1.6zM330.2 126.1h4.2v1.6h-4.2zM335.4 126.1h2.9v1.6h-2.9zM300.3 127.5h1.6v1.6h-1.6zM309.4 127.5h1.6v1.6h-1.6zM321.1 127.5h1.6v1.6h-1.6zM328.9 127.5h1.6v1.6h-1.6zM304.2 130.3h1.6v1.6h-1.6zM308.1 130.3h1.6v1.6h-1.6zM310.7 130.3h2.9v1.6h-2.9zM314.6 130.3h1.6v1.6h-1.6zM317.2 130.3h4.2v1.6h-4.2zM330.2 130.3h2.9v1.6h-2.9zM335.4 130.3h2.9v1.6h-2.9zM299.0 131.6h2.9v1.6h-2.9zM325.0 131.6h2.9v1.6h-2.9zM301.6 133.0h1.6v1.6h-1.6zM308.1 133.0h1.6v1.6h-1.6zM313.3 133.0h1.6v1.6h-1.6zM317.2 133.0h1.6v1.6h-1.6zM321.1 133.0h1.6v1.6h-1.6zM299.0 134.4h5.5v1.6h-5.5zM306.8 134.4h2.9v1.6h-2.9zM310.7 134.4h2.9v1.6h-2.9zM317.2 134.4h1.6v1.6h-1.6zM319.8 134.4h4.2v1.6h-4.2zM325.0 134.4h1.6v1.6h-1.6zM327.6 134.4h1.6v1.6h-1.6zM299.0 135.8h1.6v1.6h-1.6zM301.6 135.8h1.6v1.6h-1.6zM309.4 135.8h6.8v1.6h-6.8zM317.2 135.8h2.9v1.6h-2.9zM322.4 135.8h1.6v1.6h-1.6zM325.0 135.8h4.2v1.6h-4.2zM299.0 137.2h1.6v1.6h-1.6zM301.6 137.2h1.6v1.6h-1.6zM306.8 137.2h1.6v1.6h-1.6zM310.7 137.2h1.6v1.6h-1.6zM315.9 137.2h1.6v1.6h-1.6zM319.8 137.2h1.6v1.6h-1.6zM323.7 137.2h1.6v1.6h-1.6zM299.0 138.5h1.6v1.6h-1.6zM301.6 138.5h5.5v1.6h-5.5zM312.0 138.5h4.2v1.6h-4.2zM318.5 138.5h1.6v1.6h-1.6zM321.1 138.5h1.6v1.6h-1.6zM326.3 138.5h2.9v1.6h-2.9zM300.3 139.9h2.9v1.6h-2.9zM304.2 139.9h1.6v1.6h-1.6zM306.8 139.9h1.6v1.6h-1.6zM309.4 139.9h1.6v1.6h-1.6zM313.3 139.9h2.9v1.6h-2.9zM317.2 139.9h4.2v1.6h-4.2zM322.4 139.9h1.6v1.6h-1.6zM325.0 139.9h1.6v1.6h-1.6z"/>
<path fill="#004cff" d="M305.5 37.8h1.6v1.6h-1.6zM308.1 37.8h2.9v1.6h-2.9zM312.0 37.8h1.6v1.6h-1.6zM304.2 42.0h1.6v1.6h-1.6zM308.1 42.0h2.9v1.6h-2.9zM304.2 50.2h1.6v1.6h-1.6zM306.8 50.2h4.2v1.6h-4.2zM302.9 57.1h1.6v1.6h-1.6zM302.9 62.7h2.9v1.6h-2.9zM306.8 62.7h4.2v1.6h-4.2zM312.0 62.7h2.9v1.6h-2.9zM321.1 105.4h1.6v1.6h-1.6zM315.9 108.2h1.6v1.6h-1.6zM299.0 110.9h1.6v1.6h-1.6zM302.9 110.9h6.8v1.6h-6.8zM312.0 110.9h1.6v1.6h-1.6zM315.9 110.9h1.6v1.6h-1.6zM318.5 110.9h1.6v1.6h-1.6zM299.0 112.3h2.9v1.6h-2.9zM302.9 112.3h2.9v1.6h-2.9zM310.7 112.3h2.9v1.6h-2.9zM317.2 112.3h1.6v1.6h-1.6zM319.8 112.3h1.6v1.6h-1.6zM330.2 112.3h1.6v1.6h-1.6zM300.3 113.7h1.6v1.6h-1.6zM299.0 116.5h1.6v1.6h-1.6zM301.6 116.5h5.5v1.6h-5.5zM309.4 116.5h2.9v1.6h-2.9zM313.3 116.5h1.6v1.6h-1.6zM319.8 116.5h1.6v1.6h-1.6zM322.4 116.5h2.9v1.6h-2.9zM331.5 116.5h1.6v1.6h-1.6zM335.4 117.8h1.6v1.6h-1.6zM331.5 120.6h1.6v1.6h-1.6zM299.0 122.0h4.2v1.6h-4.2zM306.8 122.0h1.6v1.6h-1.6zM309.4 122.0h1.6v1.6h-1.6zM312.0 122.0h2.9v1.6h-2.9zM315.9 122.0h1.6v1.6h-1.6zM318.5 122.0h1.6v1.6h-1.6zM322.4 122.0h2.9v1.6h-2.9zM335.4 122.0h2.9v1.6h-2.9zM304.2 123.4h1.6v1.6h-1.6zM323.7 123.4h1.6v1.6h-1.6zM328.9 123.4h2.9v1.6h-2.9zM299.0 124.7h1.6v1.6h-1.6zM306.8 124.7h4.2v1.6h-4.2zM312.0 124.7h2.9v1.6h-2.9zM326.3 124.7h1.6v1.6h-1.6zM299.0 126.1h1.6v1.6h-1.6zM301.6 126.1h1.6v1.6h-1.6zM304.2 126.1h5.5v1.6h-5.5zM310.7 126.1h2.9v1.6h-2.9zM315.9 126.1h8.1v1.6h-8.1zM326.3 126.1h1.6v1.6h-1.6zM301.6 127.5h4.2v1.6h-4.2zM308.1 127.5h1.6v1.6h-1.6zM310.7 127.5h4.2v1.6h-4.2zM315.9 127.5h2.9v1.6h-2.9zM330.2 127.5h1.6v1.6h-1.6zM332.8 127.5h2.9v1.6h-2.9zM299.0 128.9h2.9v1.6h-2.9zM308.1 128.9h1.6v1.6h-1.6zM312.0 128.9h1.6v1.6h-1.6zM314.6 128.9h1.6v1.6h-1.6zM319.8 128.9h5.5v1.6h-5.5zM328.9 128.9h1.6v1.6h-1.6zM299.0 130.3h5.5v1.6h-5.5zM305.5 130.3h2.9v1.6h-2.9zM309.4 130.3h1.6v1.6h-1.6zM313.3 130.3h1.6v1.6h-1.6zM315.9 130.3h1.6v1.6h-1.6zM321.1 130.3h5.5v1.6h-5.5zM327.6 130.3h1.6v1.6h-1.6zM327.6 131.6h1.6v1.6h-1.6zM299.0 133.0h2.9v1.6h-2.9zM305.5 133.0h2.9v1.6h-2.9zM309.4 133.0h4.2v1.6h-4.2zM314.6 133.0h1.6v1.6h-1.6zM318.5 133.0h2.9v1.6h-2.9zM322.4 133.0h1.6v1.6h-1.6zM325.0 133.0h2.9v1.6h-2.9zM300.3 137.2h1.6v1.6h-1.6zM302.9 137.2h4.2v1.6h-4.2zM308.1 137.2h2.9v1.6h-2.9zM312.0 137.2h4.2v1.6h-4.2zM317.2 137.2h2.9v1.6h-2.9zM321.1 137.2h1.6v1.6h-1.6zM325.0 137.2h4.2v1.6h-4.2zM309.4 138.5h1.6v1.6h-1.6zM325.0 138.5h1.6v1.6h-1.6zM299.0 139.9h1.6v1.6h-1.6zM302.9 139.9h1.6v1.6h-1.6zM305.5 139.9h1.6v1.6h-1.6zM308.1 139.9h1.6v1.6h-1.6zM310.7 139.9h2.9v1.6h-2.9zM315.9 139.9h1.6v1.6h-1.6zM321.1 139.9h1.6v1.6h-1.6zM323.7 139.9h1.6v1.6h-1.6zM326.3 139.9h2.9v1.6h-2.9z"/>
<path fill="#0065ff" d="M308.1 32.3h1.6v1.6h-1.6zM304.2 37.8h1.6v1.6h-1.6zM310.7 37.8h1.6v1.6h-1.6zM302.9 42.0h1.6v1.6h-1.6zM305.5 42.0h2.9v1.6h-2.9zM301.6 50.2h2.9v1.6h-2.9zM305.5 50.2h1.6v1.6h-1.6zM310.7 50.2h4.2v1.6h-4.2zM301.6 57.1h1.6v1.6h-1.6zM315.9 57.1h2.9v1.6h-2.9zM305.5 62.7h1.6v1.6h-1.6zM299.0 90.2h1.6v1.6h-1.6zM299.0 94.4h1.6v1.6h-1.6zM301.6 94.4h1.6v1.6h-1.6zM305.5 94.4h2.9v1.6h-2.9zM315.9 94.4h4.2v1.6h-4.2zM299.0 97.1h1.6v1.6h-1.6zM304.2 97.1h2.9v1.6h-2.9zM300.3 99.9h2.9v1.6h-2.9zM305.5 99.9h2.9v1.6h-2.9zM312.0 99.9h2.9v1.6h-2.9zM321.1 99.9h1.6v1.6h-1.6zM299.0 101.3h1.6v1.6h-1.6zM299.0 104.0h1.6v1.6h-1.6zM308.1 104.0h2.9v1.6h-2.9zM312.0 104.0h1.6v1.6h-1.6zM315.9 104.0h1.6v1.6h-1.6zM299.0 108.2h1.6v1.6h-1.6zM304.2 108.2h2.9v1.6h-2.9zM310.7 108.2h1.6v1.6h-1.6zM314.6 108.2h1.6v1.6h-1.6zM317.2 108.2h6.8v1.6h-6.8zM301.6 109.6h1.6v1.6h-1.6zM304.2 109.6h4.2v1.6h-4.2zM312.0 109.6h1.6v1.6h-1.6zM314.6 109.6h2.9v1.6h-2.9zM321.1 109.6h1.6v1.6h-1.6zM300.3 110.9h1.6v1.6h-1.6zM313.3 110.9h2.9v1.6h-2.9zM317.2 110.9h1.6v1.6h-1.6zM319.8 110.9h6.8v1.6h-6.8zM331.5 110.9h1.6v1.6h-1.6zM335.4 110.9h1.6v1.6h-1.6zM301.6 112.3h1.6v1.6h-1.6zM305.5 112.3h1.6v1.6h-1.6zM308.1 112.3h2.9v1.6h-2.9zM314.6 112.3h2.9v1.6h-2.9zM318.5 112.3h1.6v1.6h-1.6zM321.1 112.3h1.6v1.6h-1.6zM327.6 112.3h1.6v1.6h-1.6zM331.5 112.3h6.8v1.6h-6.8zM299.0 113.7h1.6v1.6h-1.6zM323.7 113.7h1.6v1.6h-1.6zM302.9 115.1h4.2v1.6h-4.2zM308.1 115.1h1.6v1.6h-1.6zM318.5 115.1h1.6v1.6h-1.6zM300.3 116.5h1.6v1.6h-1.6zM306.8 116.5h2.9v1.6h-2.9zM312.0 116.5h1.6v1.6h-1.6zM314.6 116.5h5.5v1.6h-5.5zM321.1 116.5h1.6v1.6h-1.6zM325.0 116.5h2.9v1.6h-2.9zM328.9 116.5h1.6v1.6h-1.6zM332.8 116.5h5.5v1.6h-5.5zM300.3 117.8h1.6v1.6h-1.6zM322.4 117.8h1.6v1.6h-1.6zM330.2 117.8h1.6v1.6h-1.6zM332.8 117.8h2.9v1.6h-2.9zM336.7 117.8h1.6v1.6h-1.6zM300.3 119.2h1.6v1.6h-1.6zM299.0 120.6h4.2v1.6h-4.2zM304.2 120.6h1.6v1.6h-1.6zM306.8 120.6h2.9v1.6h-2.9zM310.7 120.6h4.2v1.6h-4.2zM315.9 120.6h2.9v1.6h-2.9zM319.8 120.6h1.6v1.6h-1.6zM328.9 120.6h2.9v1.6h-2.9zM332.8 120.6h2.9v1.6h-2.9zM336.7 120.6h1.6v1.6h-1.6zM321.1 122.0h1.6v1.6h-1.6zM326.3 122.0h1.6v1.6h-1.6zM331.5 122.0h4.2v1.6h-4.2zM299.0 123.4h5.5v1.6h-5.5zM306.8 123.4h4.2v1.6h-4.2zM313.3 123.4h2.9v1.6h-2.9zM317.2 123.4h2.9v1.6h-2.9zM321.1 123.4h2.9v1.6h-2.9zM325.0 123.4h2.9v1.6h-2.9zM295.1 124.7h4.2v1.6h-4.2zM327.6 124.7h1.6v1.6h-1.6zM302.9 126.1h1.6v1.6h-1.6zM309.4 126.1h1.6v1.6h-1.6zM313.3 126.1h1.6v1.6h-1.6zM323.7 126.1h2.9v1.6h-2.9zM327.6 126.1h1.6v1.6h-1.6zM299.0 127.5h1.6v1.6h-1.6zM305.5 127.5h2.9v1.6h-2.9zM314.6 127.5h1.6v1.6h-1.6zM318.5 127.5h2.9v1.6h-2.9zM322.4 127.5h5.5v1.6h-5.5zM331.5 127.5h1.6v1.6h-1.6zM335.4 127.5h2.9v1.6h-2.9zM301.6 128.9h6.8v1.6h-6.8zM309.4 128.9h2.9v1.6h-2.9zM313.3 128.9h1.6v1.6h-1.6zM315.9 128.9h4.2v1.6h-4.2zM325.0 128.9h2.9v1.6h-2.9zM330.2 128.9h5.5v1.6h-5.5zM336.7 128.9h1.6v1.6h-1.6zM326.3 130.3h1.6v1.6h-1.6zM302.9 133.0h2.9v1.6h-2.9zM315.9 133.0h1.6v1.6h-1.6zM323.7 133.0h1.6v1.6h-1.6zM327.6 133.0h1.6v1.6h-1.6zM292.5 134.4h1.6v1.6h-1.6zM295.1 134.4h1.6v1.6h-1.6zM295.1 135.8h2.9v1.6h-2.9zM322.4 137.2h1.6v1.6h-1.6z"/>
<path fill="#007fff" d="M306.8 28.2h1.6v1.6h-1.6zM302.9 32.3h5.5v1.6h-5.5zM309.4 32.3h1.6v1.6h-1.6zM301.6 37.8h2.9v1.6h-2.9zM313.3 37.8h2.9v1.6h-2.9zM301.6 42.0h1.6v1.6h-1.6zM310.7 42.0h1.6v1.6h-1.6zM314.6 50.2h1.6v1.6h-1.6zM301.6 62.7h1.6v1.6h-1.6zM314.6 62.7h2.9v1.6h-2.9zM309.4 68.2h1.6v1.6h-1.6zM314.6 68.2h2.9v1.6h-2.9zM302.9 77.8h1.6v1.6h-1.6zM304.2 80.6h1.6v1.6h-1.6zM308.1 80.6h1.6v1.6h-1.6zM313.3 80.6h2.9v1.6h-2.9zM318.5 80.6h1.6v1.6h-1.6zM299.0 82.0h1.6v1.6h-1.6zM301.6 82.0h2.9v1.6h-2.9zM306.8 82.0h1.6v1.6h-1.6zM309.4 82.0h1.6v1.6h-1.6zM315.9 82.0h2.9v1.6h-2.9zM319.8 82.0h1.6v1.6h-1.6zM299.0 83.3h1.6v1.6h-1.6zM299.0 84.7h1.6v1.6h-1.6zM305.5 84.7h1.6v1.6h-1.6zM309.4 84.7h1.6v1.6h-1.6zM314.6 84.7h1.6v1.6h-1.6zM300.3 90.2h1.6v1.6h-1.6zM299.0 91.6h1.6v1.6h-1.6zM306.8 91.6h1.6v1.6h-1.6zM313.3 91.6h1.6v1.6h-1.6zM317.2 91.6h1.6v1.6h-1.6zM319.8 91.6h1.6v1.6h-1.6zM299.0 93.0h1.6v1.6h-1.6zM301.6 93.0h1.6v1.6h-1.6zM306.8 93.0h1.6v1.6h-1.6zM309.4 93.0h1.6v1.6h-1.6zM300.3 94.4h1.6v1.6h-1.6zM302.9 94.4h2.9v1.6h-2.9zM308.1 94.4h8.1v1.6h-8.1zM319.8 94.4h2.9v1.6h-2.9zM299.0 95.8h1.6v1.6h-1.6zM300.3 97.1h4.2v1.6h-4.2zM306.8 97.1h14.6v1.6h-14.6zM301.6 98.5h1.6v1.6h-1.6zM306.8 98.5h1.6v1.6h-1.6zM299.0 99.9h1.6v1.6h-1.6zM302.9 99.9h2.9v1.6h-2.9zM308.1 99.9h4.2v1.6h-4.2zM314.6 99.9h4.2v1.6h-4.2zM319.8 99.9h1.6v1.6h-1.6zM322.4 99.9h1.6v1.6h-1.6zM300.3 101.3h1.6v1.6h-1.6zM299.0 102.7h2.9v1.6h-2.9zM305.5 102.7h5.5v1.6h-5.5zM318.5 102.7h1.6v1.6h-1.6zM300.3 104.0h8.1v1.6h-8.1zM310.7 104.0h1.6v1.6h-1.6zM313.3 104.0h2.9v1.6h-2.9zM317.2 104.0h5.5v1.6h-5.5zM323.7 104.0h1.6v1.6h-1.6zM299.0 105.4h2.9v1.6h-2.9zM325.0 105.4h1.6v1.6h-1.6zM299.0 106.8h2.9v1.6h-2.9zM300.3 108.2h4.2v1.6h-4.2zM306.8 108.2h4.2v1.6h-4.2zM312.0 108.2h2.9v1.6h-2.9zM323.7 108.2h2.9v1.6h-2.9zM327.6 108.2h1.6v1.6h-1.6zM330.2 108.2h1.6v1.6h-1.6zM299.0 109.6h2.9v1.6h-2.9zM302.9 109.6h1.6v1.6h-1.6zM308.1 109.6h4.2v1.6h-4.2zM313.3 109.6h1.6v1.6h-1.6zM317.2 109.6h4.2v1.6h-4.2zM322.4 109.6h4.2v1.6h-4.2zM327.6 109.6h4.2v1.6h-4.2zM332.8 109.6h2.9v1.6h-2.9zM336.7 109.6h1.6v1.6h-1.6zM301.6 110.9h1.6v1.6h-1.6zM309.4 110.9h2.9v1.6h-2.9zM326.3 110.9h5.5v1.6h-5.5zM332.8 110.9h2.9v1.6h-2.9zM336.7 110.9h1.6v1.6h-1.6zM322.4 112.3h5.5v1.6h-5.5zM328.9 112.3h1.6v1.6h-1.6zM325.0 113.7h1.6v1.6h-1.6zM299.0 115.1h4.2v1.6h-4.2zM306.8 115.1h1.6v1.6h-1.6zM309.4 115.1h9.4v1.6h-9.4zM319.8 115.1h4.2v1.6h-4.2zM328.9 115.1h1.6v1.6h-1.6zM334.1 115.1h1.6v1.6h-1.6zM336.7 115.1h1.6v1.6h-1.6zM327.6 116.5h1.6v1.6h-1.6zM330.2 116.5h1.6v1.6h-1.6zM323.7 117.8h2.9v1.6h-2.9zM328.9 117.8h1.6v1.6h-1.6zM331.5 117.8h1.6v1.6h-1.6zM299.0 119.2h1.6v1.6h-1.6zM302.9 120.6h1.6v1.6h-1.6zM305.5 120.6h1.6v1.6h-1.6zM309.4 120.6h1.6v1.6h-1.6zM314.6 120.6h1.6v1.6h-1.6zM318.5 120.6h1.6v1.6h-1.6zM321.1 120.6h2.9v1.6h-2.9zM335.4 120.6h1.6v1.6h-1.6zM296.4 122.0h1.6v1.6h-1.6zM325.0 122.0h1.6v1.6h-1.6zM327.6 122.0h1.6v1.6h-1.6zM305.5 123.4h1.6v1.6h-1.6zM310.7 123.4h2.9v1.6h-2.9zM315.9 123.4h1.6v1.6h-1.6zM319.8 123.4h1.6v1.6h-1.6zM327.6 123.4h1.6v1.6h-1.6zM331.5 123.4h6.8v1.6h-6.8zM293.8 124.7h1.6v1.6h-1.6zM327.6 127.5h1.6v1.6h-1.6zM293.8 130.3h2.9v1.6h-2.9zM297.7 130.3h1.6v1.6h-1.6zM295.1 131.6h1.6v1.6h-1.6zM297.7 131.6h1.6v1.6h-1.6zM296.4 133.0h1.6v1.6h-1.6zM291.2 134.4h1.6v1.6h-1.6zM293.8 134.4h1.6v1.6h-1.6zM297.7 134.4h1.6v1.6h-1.6zM291.2 135.8h4.2v1.6h-4.2zM297.7 135.8h1.6v1.6h-1.6zM291.2 137.2h1.6v1.6h-1.6zM295.1 137.2h1.6v1.6h-1.6zM291.2 138.5h4.2v1.6h-4.2zM296.4 138.5h2.9v1.6h-2.9zM291.2 139.9h1.6v1.6h-1.6zM293.8 139.9h4.2v1.6h-4.2z"/>
<path fill="#0099ff" d="M302.9 28.2h4.2v1.6h-4.2zM308.1 28.2h1.6v1.6h-1.6zM312.0 42.0h1.6v1.6h-1.6zM315.9 50.2h1.6v1.6h-1.6zM317.2 62.7h1.6v1.6h-1.6zM301.6 68.2h1.6v1.6h-1.6zM305.5 68.2h4.2v1.6h-4.2zM312.0 68.2h2.9v1.6h-2.9zM306.8 69.6h4.2v1.6h-4.2zM300.3 70.9h1.6v1.6h-1.6zM302.9 70.9h1.6v1.6h-1.6zM306.8 70.9h2.9v1.6h-2.9zM314.6 70.9h1.6v1.6h-1.6zM299.0 72.3h2.9v1.6h-2.9zM304.2 72.3h1.6v1.6h-1.6zM306.8 72.3h1.6v1.6h-1.6zM312.0 72.3h1.6v1.6h-1.6zM300.3 73.7h1.6v1.6h-1.6zM305.5 73.7h1.6v1.6h-1.6zM310.7 73.7h2.9v1.6h-2.9zM314.6 73.7h2.9v1.6h-2.9zM318.5 73.7h1.6v1.6h-1.6zM300.3 75.1h2.9v1.6h-2.9zM305.5 75.1h4.2v1.6h-4.2zM310.7 75.1h2.9v1.6h-2.9zM315.9 75.1h2.9v1.6h-2.9zM299.0 77.8h4.2v1.6h-4.2zM304.2 77.8h1.6v1.6h-1.6zM308.1 77.8h4.2v1.6h-4.2zM313.3 77.8h4.2v1.6h-4.2zM299.0 80.6h5.5v1.6h-5.5zM305.5 80.6h2.9v1.6h-2.9zM309.4 80.6h4.2v1.6h-4.2zM315.9 80.6h2.9v1.6h-2.9zM319.8 80.6h1.6v1.6h-1.6zM300.3 82.0h1.6v1.6h-1.6zM304.2 82.0h2.9v1.6h-2.9zM308.1 82.0h1.6v1.6h-1.6zM310.7 82.0h5.5v1.6h-5.5zM318.5 82.0h1.6v1.6h-1.6zM321.1 82.0h1.6v1.6h-1.6zM300.3 83.3h17.2v1.6h-17.2zM300.3 84.7h5.5v1.6h-5.5zM306.8 84.7h2.9v1.6h-2.9zM310.7 84.7h4.2v1.6h-4.2zM315.9 84.7h4.2v1.6h-4.2zM299.0 86.1h6.8v1.6h-6.8zM309.4 86.1h1.6v1.6h-1.6zM312.0 86.1h1.6v1.6h-1.6zM314.6 86.1h1.6v1.6h-1.6zM299.0 87.5h1.6v1.6h-1.6zM302.9 87.5h2.9v1.6h-2.9zM306.8 87.5h1.6v1.6h-1.6zM310.7 87.5h1.6v1.6h-1.6zM313.3 87.5h2.9v1.6h-2.9zM299.0 88.9h1.6v1.6h-1.6zM310.7 88.9h2.9v1.6h-2.9zM315.9 88.9h1.6v1.6h-1.6zM304.2 91.6h2.9v1.6h-2.9zM308.1 91.6h5.5v1.6h-5.5zM314.6 91.6h2.9v1.6h-2.9zM318.5 91.6h1.6v1.6h-1.6zM300.3 93.0h1.6v1.6h-1.6zM302.9 93.0h4.2v1.6h-4.2zM308.1 93.0h1.6v1.6h-1.6zM310.7 93.0h9.4v1.6h-9.4zM322.4 94.4h1.6v1.6h-1.6zM300.3 95.8h1.6v1.6h-1.6zM321.1 97.1h5.5v1.6h-5.5zM331.5 97.1h1.6v1.6h-1.6zM334.1 97.1h1.6v1.6h-1.6zM302.9 98.5h4.2v1.6h-4.2zM308.1 98.5h5.5v1.6h-5.5zM314.6 98.5h2.9v1.6h-2.9zM318.5 98.5h1.6v1.6h-1.6zM318.5 99.9h1.6v1.6h-1.6zM323.7 99.9h4.2v1.6h-4.2zM330.2 99.9h2.9v1.6h-2.9zM334.1 99.9h1.6v1.6h-1.6zM336.7 99.9h1.6v1.6h-1.6zM328.9 101.3h1.6v1.6h-1.6zM331.5 101.3h1.6v1.6h-1.6zM334.1 101.3h1.6v1.6h-1.6zM336.7 101.3h1.6v1.6h-1.6zM301.6 102.7h4.2v1.6h-4.2zM310.7 102.7h8.1v1.6h-8.1zM319.8 102.7h2.9v1.6h-2.9zM322.4 104.0h1.6v1.6h-1.6zM322.4 105.4h2.9v1.6h-2.9zM326.3 105.4h5.5v1.6h-5.5zM332.8 105.4h5.5v1.6h-5.5zM291.2 106.8h1.6v1.6h-1.6zM319.8 106.8h2.9v1.6h-2.9zM326.3 108.2h1.6v1.6h-1.6zM328.9 108.2h1.6v1.6h-1.6zM331.5 108.2h2.9v1.6h-2.9zM335.4 108.2h2.9v1.6h-2.9zM326.3 109.6h1.6v1.6h-1.6zM331.5 109.6h1.6v1.6h-1.6zM335.4 109.6h1.6v1.6h-1.6zM292.5 110.9h1.6v1.6h-1.6zM295.1 110.9h1.6v1.6h-1.6zM291.2 112.3h1.6v1.6h-1.6zM293.8 112.3h5.5v1.6h-5.5zM291.2 113.7h4.2v1.6h-4.2zM330.2 115.1h4.2v1.6h-4.2zM335.4 115.1h1.6v1.6h-1.6zM292.5 116.5h4.2v1.6h-4.2zM291.2 117.8h2.9v1.6h-2.9zM296.4 117.8h1.6v1.6h-1.6zM326.3 117.8h2.9v1.6h-2.9zM325.0 120.6h4.2v1.6h-4.2zM291.2 122.0h5.5v1.6h-5.5zM297.7 122.0h1.6v1.6h-1.6zM291.2 124.7h2.9v1.6h-2.9zM291.2 126.1h4.2v1.6h-4.2zM296.4 126.1h1.6v1.6h-1.6zM291.2 127.5h4.2v1.6h-4.2zM296.4 127.5h1.6v1.6h-1.6zM291.2 128.9h2.9v1.6h-2.9zM295.1 128.9h1.6v1.6h-1.6zM327.6 128.9h1.6v1.6h-1.6zM335.4 128.9h1.6v1.6h-1.6zM291.2 130.3h2.9v1.6h-2.9zM296.4 130.3h1.6v1.6h-1.6zM291.2 131.6h4.2v1.6h-4.2zM296.4 131.6h1.6v1.6h-1.6zM291.2 133.0h1.6v1.6h-1.6zM293.8 133.0h2.9v1.6h-2.9zM296.4 134.4h1.6v1.6h-1.6zM292.5 137.2h2.9v1.6h-2.9zM297.7 137.2h1.6v1.6h-1.6zM295.1 138.5h1.6v1.6h-1.6zM292.5 139.9h1.6v1.6h-1.6zM297.7 139.9h1.6v1.6h-1.6z"/>
<path fill="#00b2ff" d="M301.6 28.2h1.6v1.6h-1.6zM309.4 28.2h1.6v1.6h-1.6zM301.6 32.3h1.6v1.6h-1.6zM310.7 32.3h1.6v1.6h-1.6zM300.3 36.4h1.6v1.6h-1.6zM304.2 36.4h1.6v1.6h-1.6zM309.4 36.4h1.6v1.6h-1.6zM300.3 50.2h1.6v1.6h-1.6zM310.7 54.4h1.6v1.6h-1.6zM299.0 57.1h2.9v1.6h-2.9zM300.3 59.9h1.6v1.6h-1.6zM308.1 59.9h1.6v1.6h-1.6zM299.0 61.3h1.6v1.6h-1.6zM301.6 61.3h2.9v1.6h-2.9zM305.5 61.3h1.6v1.6h-1.6zM312.0 61.3h5.5v1.6h-5.5zM299.0 66.8h1.6v1.6h-1.6zM304.2 66.8h1.6v1.6h-1.6zM306.8 66.8h6.8v1.6h-6.8zM315.9 66.8h1.6v1.6h-1.6zM299.0 68.2h2.9v1.6h-2.9zM302.9 68.2h2.9v1.6h-2.9zM310.7 68.2h1.6v1.6h-1.6zM317.2 68.2h1.6v1.6h-1.6zM299.0 69.6h1.6v1.6h-1.6zM301.6 69.6h5.5v1.6h-5.5zM310.7 69.6h2.9v1.6h-2.9zM314.6 69.6h2.9v1.6h-2.9zM299.0 70.9h1.6v1.6h-1.6zM301.6 70.9h1.6v1.6h-1.6zM304.2 70.9h2.9v1.6h-2.9zM309.4 70.9h4.2v1.6h-4.2zM315.9 70.9h2.9v1.6h-2.9zM301.6 72.3h2.9v1.6h-2.9zM305.5 72.3h1.6v1.6h-1.6zM308.1 72.3h4.2v1.6h-4.2zM313.3 72.3h5.5v1.6h-5.5zM299.0 73.7h1.6v1.6h-1.6zM301.6 73.7h1.6v1.6h-1.6zM304.2 73.7h1.6v1.6h-1.6zM306.8 73.7h1.6v1.6h-1.6zM309.4 73.7h1.6v1.6h-1.6zM313.3 73.7h1.6v1.6h-1.6zM317.2 73.7h1.6v1.6h-1.6zM319.8 73.7h2.9v1.6h-2.9zM299.0 75.1h1.6v1.6h-1.6zM302.9 75.1h2.9v1.6h-2.9zM309.4 75.1h1.6v1.6h-1.6zM313.3 75.1h2.9v1.6h-2.9zM318.5 75.1h2.9v1.6h-2.9zM300.3 76.5h8.1v1.6h-8.1zM310.7 76.5h8.1v1.6h-8.1zM296.4 77.8h1.6v1.6h-1.6zM305.5 77.8h2.9v1.6h-2.9zM312.0 77.8h1.6v1.6h-1.6zM317.2 77.8h2.9v1.6h-2.9zM299.0 79.2h1.6v1.6h-1.6zM301.6 79.2h1.6v1.6h-1.6zM309.4 79.2h1.6v1.6h-1.6zM319.8 79.2h1.6v1.6h-1.6zM293.8 80.6h1.6v1.6h-1.6zM321.1 80.6h1.6v1.6h-1.6zM293.8 82.0h2.9v1.6h-2.9zM297.7 82.0h1.6v1.6h-1.6zM317.2 83.3h4.2v1.6h-4.2zM295.1 84.7h1.6v1.6h-1.6zM319.8 84.7h2.9v1.6h-2.9zM305.5 86.1h4.2v1.6h-4.2zM310.7 86.1h1.6v1.6h-1.6zM313.3 86.1h1.6v1.6h-1.6zM315.9 86.1h6.8v1.6h-6.8zM300.3 87.5h2.9v1.6h-2.9zM305.5 87.5h1.6v1.6h-1.6zM308.1 87.5h2.9v1.6h-2.9zM312.0 87.5h1.6v1.6h-1.6zM315.9 87.5h4.2v1.6h-4.2zM300.3 88.9h4.2v1.6h-4.2zM305.5 88.9h5.5v1.6h-5.5zM313.3 88.9h2.9v1.6h-2.9zM317.2 88.9h1.6v1.6h-1.6zM291.2 90.2h1.6v1.6h-1.6zM293.8 90.2h1.6v1.6h-1.6zM321.1 90.2h2.9v1.6h-2.9zM300.3 91.6h4.2v1.6h-4.2zM321.1 91.6h1.6v1.6h-1.6zM297.7 93.0h1.6v1.6h-1.6zM291.2 94.4h4.2v1.6h-4.2zM296.4 94.4h1.6v1.6h-1.6zM323.7 94.4h1.6v1.6h-1.6zM321.1 95.8h1.6v1.6h-1.6zM291.2 97.1h2.9v1.6h-2.9zM295.1 97.1h1.6v1.6h-1.6zM297.7 97.1h1.6v1.6h-1.6zM326.3 97.1h5.5v1.6h-5.5zM332.8 97.1h1.6v1.6h-1.6zM335.4 97.1h2.9v1.6h-2.9zM299.0 98.5h2.9v1.6h-2.9zM313.3 98.5h1.6v1.6h-1.6zM317.2 98.5h1.6v1.6h-1.6zM291.2 99.9h4.2v1.6h-4.2zM296.4 99.9h2.9v1.6h-2.9zM335.4 99.9h1.6v1.6h-1.6zM291.2 101.3h2.9v1.6h-2.9zM296.4 101.3h1.6v1.6h-1.6zM322.4 101.3h6.8v1.6h-6.8zM330.2 101.3h1.6v1.6h-1.6zM332.8 101.3h1.6v1.6h-1.6zM335.4 101.3h1.6v1.6h-1.6zM295.1 102.7h1.6v1.6h-1.6zM292.5 104.0h1.6v1.6h-1.6zM295.1 104.0h4.2v1.6h-4.2zM291.2 105.4h1.6v1.6h-1.6zM295.1 105.4h1.6v1.6h-1.6zM297.7 105.4h1.6v1.6h-1.6zM331.5 105.4h1.6v1.6h-1.6zM295.1 106.8h4.2v1.6h-4.2zM325.0 106.8h4.2v1.6h-4.2zM331.5 106.8h2.9v1.6h-2.9zM335.4 106.8h2.9v1.6h-2.9zM293.8 108.2h4.2v1.6h-4.2zM334.1 108.2h1.6v1.6h-1.6zM292.5 109.6h1.6v1.6h-1.6zM296.4 109.6h2.9v1.6h-2.9zM291.2 110.9h1.6v1.6h-1.6zM293.8 110.9h1.6v1.6h-1.6zM296.4 110.9h2.9v1.6h-2.9zM292.5 112.3h1.6v1.6h-1.6zM295.1 113.7h4.2v1.6h-4.2zM326.3 113.7h1.6v1.6h-1.6zM328.9 113.7h1.6v1.6h-1.6zM332.8 113.7h5.5v1.6h-5.5zM291.2 115.1h1.6v1.6h-1.6zM295.1 115.1h1.6v1.6h-1.6zM297.7 115.1h1.6v1.6h-1.6zM323.7 115.1h5.5v1.6h-5.5zM291.2 116.5h1.6v1.6h-1.6zM296.4 116.5h2.9v1.6h-2.9zM293.8 117.8h2.9v1.6h-2.9zM297.7 117.8h1.6v1.6h-1.6zM321.1 119.2h1.6v1.6h-1.6zM328.9 119.2h4.2v1.6h-4.2zM323.7 120.6h1.6v1.6h-1.6zM291.2 123.4h1.6v1.6h-1.6zM293.8 123.4h1.6v1.6h-1.6zM296.4 123.4h2.9v1.6h-2.9zM295.1 126.1h1.6v1.6h-1.6zM297.7 126.1h1.6v1.6h-1.6zM295.1 127.5h1.6v1.6h-1.6zM297.7 127.5h1.6v1.6h-1.6zM293.8 128.9h1.6v1.6h-1.6zM296.4 128.9h2.9v1.6h-2.9zM292.5 133.0h1.6v1.6h-1.6zM297.7 133.0h1.6v1.6h-1.6zM296.4 137.2h1.6v1.6h-1.6z"/>
<path fill="#00ccff" d="M302.9 26.8h1.6v1.6h-1.6zM308.1 26.8h1.6v1.6h-1.6zM304.2 29.5h1.6v1.6h-1.6zM308.1 29.5h1.6v1.6h-1.6zM300.3 30.9h1.6v1.6h-1.6zM305.5 30.9h1.6v1.6h-1.6zM308.1 30.9h1.6v1.6h-1.6zM312.0 30.9h1.6v1.6h-1.6zM299.0 36.4h1.6v1.6h-1.6zM301.6 36.4h1.6v1.6h-1.6zM306.8 36.4h2.9v1.6h-2.9zM312.0 36.4h1.6v1.6h-1.6zM309.4 39.2h1.6v1.6h-1.6zM300.3 40.6h2.9v1.6h-2.9zM299.0 42.0h2.9v1.6h-2.9zM299.0 44.7h4.2v1.6h-4.2zM306.8 44.7h1.6v1.6h-1.6zM301.6 46.1h1.6v1.6h-1.6zM299.0 47.5h1.6v1.6h-1.6zM306.8 47.5h5.5v1.6h-5.5zM301.6 48.9h1.6v1.6h-1.6zM304.2 48.9h1.6v1.6h-1.6zM309.4 48.9h1.6v1.6h-1.6zM314.6 48.9h1.6v1.6h-1.6zM300.3 51.6h1.6v1.6h-1.6zM310.7 51.6h1.6v1.6h-1.6zM300.3 53.0h1.6v1.6h-1.6zM301.6 54.4h6.8v1.6h-6.8zM309.4 54.4h1.6v1.6h-1.6zM312.0 54.4h1.6v1.6h-1.6zM301.6 55.8h4.2v1.6h-4.2zM306.8 55.8h6.8v1.6h-6.8zM315.9 55.8h1.6v1.6h-1.6zM306.8 58.5h1.6v1.6h-1.6zM299.0 59.9h1.6v1.6h-1.6zM301.6 59.9h6.8v1.6h-6.8zM309.4 59.9h6.8v1.6h-6.8zM300.3 61.3h1.6v1.6h-1.6zM304.2 61.3h1.6v1.6h-1.6zM306.8 61.3h5.5v1.6h-5.5zM317.2 61.3h1.6v1.6h-1.6zM299.0 62.7h1.6v1.6h-1.6zM300.3 64.0h8.1v1.6h-8.1zM309.4 64.0h4.2v1.6h-4.2zM300.3 65.4h1.6v1.6h-1.6zM302.9 65.4h1.6v1.6h-1.6zM306.8 65.4h1.6v1.6h-1.6zM309.4 65.4h1.6v1.6h-1.6zM312.0 65.4h1.6v1.6h-1.6zM300.3 66.8h4.2v1.6h-4.2zM305.5 66.8h1.6v1.6h-1.6zM313.3 66.8h2.9v1.6h-2.9zM291.2 68.2h1.6v1.6h-1.6zM293.8 68.2h1.6v1.6h-1.6zM296.4 68.2h1.6v1.6h-1.6zM318.5 68.2h1.6v1.6h-1.6zM300.3 69.6h1.6v1.6h-1.6zM313.3 69.6h1.6v1.6h-1.6zM317.2 69.6h2.9v1.6h-2.9zM293.8 70.9h1.6v1.6h-1.6zM313.3 70.9h1.6v1.6h-1.6zM291.2 72.3h1.6v1.6h-1.6zM318.5 72.3h1.6v1.6h-1.6zM302.9 73.7h1.6v1.6h-1.6zM308.1 73.7h1.6v1.6h-1.6zM293.8 75.1h1.6v1.6h-1.6zM321.1 75.1h1.6v1.6h-1.6zM299.0 76.5h1.6v1.6h-1.6zM308.1 76.5h2.9v1.6h-2.9zM318.5 76.5h1.6v1.6h-1.6zM291.2 77.8h1.6v1.6h-1.6zM295.1 77.8h1.6v1.6h-1.6zM297.7 77.8h1.6v1.6h-1.6zM300.3 79.2h1.6v1.6h-1.6zM302.9 79.2h6.8v1.6h-6.8zM310.7 79.2h9.4v1.6h-9.4zM321.1 79.2h1.6v1.6h-1.6zM291.2 80.6h2.9v1.6h-2.9zM295.1 80.6h1.6v1.6h-1.6zM322.4 80.6h1.6v1.6h-1.6zM291.2 82.0h2.9v1.6h-2.9zM291.2 83.3h2.9v1.6h-2.9zM297.7 83.3h1.6v1.6h-1.6zM321.1 83.3h1.6v1.6h-1.6zM291.2 84.7h1.6v1.6h-1.6zM293.8 84.7h1.6v1.6h-1.6zM297.7 84.7h1.6v1.6h-1.6zM292.5 86.1h2.9v1.6h-2.9zM296.4 86.1h2.9v1.6h-2.9zM322.4 86.1h1.6v1.6h-1.6zM319.8 87.5h1.6v1.6h-1.6zM304.2 88.9h1.6v1.6h-1.6zM318.5 88.9h4.2v1.6h-4.2zM295.1 90.2h4.2v1.6h-4.2zM323.7 90.2h1.6v1.6h-1.6zM334.1 90.2h1.6v1.6h-1.6zM291.2 91.6h1.6v1.6h-1.6zM293.8 91.6h1.6v1.6h-1.6zM292.5 93.0h2.9v1.6h-2.9zM296.4 93.0h1.6v1.6h-1.6zM319.8 93.0h1.6v1.6h-1.6zM295.1 94.4h1.6v1.6h-1.6zM297.7 94.4h1.6v1.6h-1.6zM295.1 95.8h4.2v1.6h-4.2zM322.4 95.8h4.2v1.6h-4.2zM293.8 97.1h1.6v1.6h-1.6zM296.4 97.1h1.6v1.6h-1.6zM292.5 98.5h4.2v1.6h-4.2zM319.8 98.5h1.6v1.6h-1.6zM295.1 99.9h1.6v1.6h-1.6zM327.6 99.9h2.9v1.6h-2.9zM332.8 99.9h1.6v1.6h-1.6zM293.8 101.3h2.9v1.6h-2.9zM297.7 101.3h1.6v1.6h-1.6zM291.2 102.7h4.2v1.6h-4.2zM297.7 102.7h1.6v1.6h-1.6zM291.2 104.0h1.6v1.6h-1.6zM293.8 104.0h1.6v1.6h-1.6zM325.0 104.0h2.9v1.6h-2.9zM334.1 104.0h1.6v1.6h-1.6zM336.7 104.0h1.6v1.6h-1.6zM292.5 105.4h2.9v1.6h-2.9zM296.4 105.4h1.6v1.6h-1.6zM292.5 106.8h2.9v1.6h-2.9zM322.4 106.8h2.9v1.6h-2.9zM328.9 106.8h2.9v1.6h-2.9zM334.1 106.8h1.6v1.6h-1.6zM291.2 108.2h2.9v1.6h-2.9zM297.7 108.2h1.6v1.6h-1.6zM291.2 109.6h1.6v1.6h-1.6zM293.8 109.6h2.9v1.6h-2.9zM330.2 113.7h2.9v1.6h-2.9zM292.5 115.1h2.9v1.6h-2.9zM296.4 115.1h1.6v1.6h-1.6zM291.2 119.2h6.8v1.6h-6.8zM322.4 119.2h1.6v1.6h-1.6zM334.1 119.2h4.2v1.6h-4.2zM291.2 120.6h8.1v1.6h-8.1zM292.5 123.4h1.6v1.6h-1.6zM295.1 123.4h1.6v1.6h-1.6z"/>
<path fill="#00e5ff" d="M299.0 25.4h1.6v1.6h-1.6zM302.9 25.4h1.6v1.6h-1.6zM306.8 25.4h2.9v1.6h-2.9zM292.5 26.8h1.6v1.6h-1.6zM299.0 26.8h4.2v1.6h-4.2zM304.2 26.8h4.2v1.6h-4.2zM300.3 29.5h2.9v1.6h-2.9zM306.8 29.5h1.6v1.6h-1.6zM309.4 29.5h1.6v1.6h-1.6zM291.2 30.9h2.9v1.6h-2.9zM299.0 30.9h1.6v1.6h-1.6zM301.6 30.9h4.2v1.6h-4.2zM306.8 30.9h1.6v1.6h-1.6zM309.4 30.9h2.9v1.6h-2.9zM310.7 33.7h2.9v1.6h-2.9zM312.0 35.1h2.9v1.6h-2.9zM292.5 36.4h2.9v1.6h-2.9zM302.9 36.4h1.6v1.6h-1.6zM305.5 36.4h1.6v1.6h-1.6zM310.7 36.4h1.6v1.6h-1.6zM313.3 36.4h2.9v1.6h-2.9zM299.0 37.8h2.9v1.6h-2.9zM299.0 39.2h1.6v1.6h-1.6zM304.2 39.2h5.5v1.6h-5.5zM310.7 39.2h4.2v1.6h-4.2zM299.0 40.6h1.6v1.6h-1.6zM304.2 40.6h2.9v1.6h-2.9zM308.1 40.6h4.2v1.6h-4.2zM292.5 42.0h4.2v1.6h-4.2zM297.7 42.0h1.6v1.6h-1.6zM301.6 43.3h1.6v1.6h-1.6zM304.2 43.3h4.2v1.6h-4.2zM310.7 43.3h1.6v1.6h-1.6zM314.6 43.3h1.6v1.6h-1.6zM302.9 44.7h4.2v1.6h-4.2zM308.1 44.7h9.4v1.6h-9.4zM299.0 46.1h2.9v1.6h-2.9zM302.9 46.1h9.4v1.6h-9.4zM313.3 46.1h1.6v1.6h-1.6zM300.3 47.5h1.6v1.6h-1.6zM304.2 47.5h1.6v1.6h-1.6zM312.0 47.5h1.6v1.6h-1.6zM299.0 48.9h2.9v1.6h-2.9zM302.9 48.9h1.6v1.6h-1.6zM305.5 48.9h1.6v1.6h-1.6zM308.1 48.9h1.6v1.6h-1.6zM310.7 48.9h4.2v1.6h-4.2zM299.0 50.2h1.6v1.6h-1.6zM299.0 51.6h1.6v1.6h-1.6zM301.6 51.6h4.2v1.6h-4.2zM308.1 51.6h1.6v1.6h-1.6zM312.0 51.6h5.5v1.6h-5.5zM299.0 53.0h1.6v1.6h-1.6zM302.9 53.0h6.8v1.6h-6.8zM310.7 53.0h6.8v1.6h-6.8zM299.0 54.4h2.9v1.6h-2.9zM308.1 54.4h1.6v1.6h-1.6zM313.3 54.4h2.9v1.6h-2.9zM299.0 55.8h2.9v1.6h-2.9zM305.5 55.8h1.6v1.6h-1.6zM313.3 55.8h2.9v1.6h-2.9zM292.5 57.1h4.2v1.6h-4.2zM297.7 57.1h1.6v1.6h-1.6zM299.0 58.5h5.5v1.6h-5.5zM305.5 58.5h1.6v1.6h-1.6zM308.1 58.5h6.8v1.6h-6.8zM296.4 59.9h1.6v1.6h-1.6zM315.9 59.9h2.9v1.6h-2.9zM292.5 61.3h1.6v1.6h-1.6zM295.1 61.3h1.6v1.6h-1.6zM297.7 61.3h1.6v1.6h-1.6zM318.5 61.3h1.6v1.6h-1.6zM300.3 62.7h1.6v1.6h-1.6zM299.0 64.0h1.6v1.6h-1.6zM308.1 64.0h1.6v1.6h-1.6zM313.3 64.0h1.6v1.6h-1.6zM299.0 65.4h1.6v1.6h-1.6zM301.6 65.4h1.6v1.6h-1.6zM304.2 65.4h2.9v1.6h-2.9zM308.1 65.4h1.6v1.6h-1.6zM310.7 65.4h1.6v1.6h-1.6zM313.3 65.4h2.9v1.6h-2.9zM295.1 66.8h1.6v1.6h-1.6zM297.7 66.8h1.6v1.6h-1.6zM317.2 66.8h1.6v1.6h-1.6zM292.5 68.2h1.6v1.6h-1.6zM295.1 68.2h1.6v1.6h-1.6zM297.7 68.2h1.6v1.6h-1.6zM292.5 69.6h6.8v1.6h-6.8zM319.8 69.6h1.6v1.6h-1.6zM291.2 70.9h2.9v1.6h-2.9zM296.4 70.9h2.9v1.6h-2.9zM318.5 70.9h1.6v1.6h-1.6zM292.5 72.3h6.8v1.6h-6.8zM291.2 73.7h2.9v1.6h-2.9zM295.1 73.7h1.6v1.6h-1.6zM322.4 73.7h1.6v1.6h-1.6zM291.2 75.1h2.9v1.6h-2.9zM295.1 75.1h4.2v1.6h-4.2zM322.4 75.1h2.9v1.6h-2.9zM291.2 76.5h1.6v1.6h-1.6zM319.8 76.5h1.6v1.6h-1.6zM292.5 77.8h2.9v1.6h-2.9zM319.8 77.8h1.6v1.6h-1.6zM291.2 79.2h1.6v1.6h-1.6zM293.8 79.2h2.9v1.6h-2.9zM296.4 80.6h2.9v1.6h-2.9zM296.4 82.0h1.6v1.6h-1.6zM293.8 83.3h4.2v1.6h-4.2zM322.4 83.3h2.9v1.6h-2.9zM335.4 83.3h1.6v1.6h-1.6zM292.5 84.7h1.6v1.6h-1.6zM296.4 84.7h1.6v1.6h-1.6zM322.4 84.7h2.9v1.6h-2.9zM291.2 86.1h1.6v1.6h-1.6zM295.1 86.1h1.6v1.6h-1.6zM323.7 86.1h1.6v1.6h-1.6zM291.2 87.5h8.1v1.6h-8.1zM291.2 88.9h1.6v1.6h-1.6zM293.8 88.9h2.9v1.6h-2.9zM297.7 88.9h1.6v1.6h-1.6zM322.4 88.9h2.9v1.6h-2.9zM292.5 90.2h1.6v1.6h-1.6zM325.0 90.2h1.6v1.6h-1.6zM327.6 90.2h4.2v1.6h-4.2zM335.4 90.2h2.9v1.6h-2.9zM292.5 91.6h1.6v1.6h-1.6zM295.1 91.6h4.2v1.6h-4.2zM291.2 93.0h1.6v1.6h-1.6zM295.1 93.0h1.6v1.6h-1.6zM325.0 94.4h2.9v1.6h-2.9zM291.2 95.8h4.2v1.6h-4.2zM326.3 95.8h2.9v1.6h-2.9zM291.2 98.5h1.6v1.6h-1.6zM296.4 98.5h2.9v1.6h-2.9zM321.1 98.5h1.6v1.6h-1.6zM296.4 102.7h1.6v1.6h-1.6zM322.4 102.7h1.6v1.6h-1.6zM327.6 104.0h4.2v1.6h-4.2zM332.8 104.0h1.6v1.6h-1.6zM335.4 104.0h1.6v1.6h-1.6zM327.6 113.7h1.6v1.6h-1.6zM297.7 119.2h1.6v1.6h-1.6zM323.7 119.2h5.5v1.6h-5.5zM332.8 119.2h1.6v1.6h-1.6z"/>
<path fill="#00ffff" d="M300.3 25.4h2.9v1.6h-2.9zM304.2 25.4h2.9v1.6h-2.9zM309.4 25.4h5.5v1.6h-5.5zM293.8 26.8h1.6v1.6h-1.6zM297.7 26.8h1.6v1.6h-1.6zM309.4 26.8h1.6v1.6h-1.6zM299.0 28.2h2.9v1.6h-2.9zM291.2 29.5h2.9v1.6h-2.9zM299.0 29.5h1.6v1.6h-1.6zM302.9 29.5h1.6v1.6h-1.6zM305.5 29.5h1.6v1.6h-1.6zM293.8 30.9h2.9v1.6h-2.9zM313.3 30.9h1.6v1.6h-1.6zM299.0 32.3h2.9v1.6h-2.9zM299.0 33.7h2.9v1.6h-2.9zM302.9 33.7h4.2v1.6h-4.2zM299.0 35.1h1.6v1.6h-1.6zM301.6 35.1h6.8v1.6h-6.8zM309.4 35.1h1.6v1.6h-1.6zM291.2 36.4h1.6v1.6h-1.6zM295.1 36.4h4.2v1.6h-4.2zM292.5 37.8h2.9v1.6h-2.9zM315.9 37.8h1.6v1.6h-1.6zM291.2 39.2h1.6v1.6h-1.6zM296.4 39.2h1.6v1.6h-1.6zM300.3 39.2h4.2v1.6h-4.2zM296.4 40.6h1.6v1.6h-1.6zM302.9 40.6h1.6v1.6h-1.6zM306.8 40.6h1.6v1.6h-1.6zM291.2 42.0h1.6v1.6h-1.6zM296.4 42.0h1.6v1.6h-1.6zM296.4 43.3h1.6v1.6h-1.6zM299.0 43.3h2.9v1.6h-2.9zM302.9 43.3h1.6v1.6h-1.6zM308.1 43.3h2.9v1.6h-2.9zM312.0 43.3h2.9v1.6h-2.9zM315.9 43.3h1.6v1.6h-1.6zM291.2 44.7h1.6v1.6h-1.6zM293.8 44.7h4.2v1.6h-4.2zM291.2 46.1h1.6v1.6h-1.6zM296.4 46.1h1.6v1.6h-1.6zM312.0 46.1h1.6v1.6h-1.6zM291.2 47.5h1.6v1.6h-1.6zM293.8 47.5h2.9v1.6h-2.9zM297.7 47.5h1.6v1.6h-1.6zM301.6 47.5h2.9v1.6h-2.9zM305.5 47.5h1.6v1.6h-1.6zM313.3 47.5h2.9v1.6h-2.9zM291.2 48.9h1.6v1.6h-1.6zM306.8 48.9h1.6v1.6h-1.6zM315.9 48.9h1.6v1.6h-1.6zM291.2 50.2h2.9v1.6h-2.9zM295.1 50.2h1.6v1.6h-1.6zM297.7 50.2h1.6v1.6h-1.6zM291.2 51.6h2.9v1.6h-2.9zM297.7 51.6h1.6v1.6h-1.6zM305.5 51.6h2.9v1.6h-2.9zM309.4 51.6h1.6v1.6h-1.6zM301.6 53.0h1.6v1.6h-1.6zM309.4 53.0h1.6v1.6h-1.6zM318.5 53.0h1.6v1.6h-1.6zM291.2 54.4h4.2v1.6h-4.2zM293.8 55.8h4.2v1.6h-4.2zM317.2 55.8h2.9v1.6h-2.9zM291.2 57.1h1.6v1.6h-1.6zM296.4 57.1h1.6v1.6h-1.6zM318.5 57.1h1.6v1.6h-1.6zM292.5 58.5h1.6v1.6h-1.6zM296.4 58.5h1.6v1.6h-1.6zM304.2 58.5h1.6v1.6h-1.6zM291.2 59.9h4.2v1.6h-4.2zM297.7 59.9h1.6v1.6h-1.6zM291.2 61.3h1.6v1.6h-1.6zM296.4 61.3h1.6v1.6h-1.6zM291.2 64.0h1.6v1.6h-1.6zM291.2 65.4h2.9v1.6h-2.9zM295.1 65.4h1.6v1.6h-1.6zM315.9 65.4h1.6v1.6h-1.6zM291.2 66.8h4.2v1.6h-4.2zM296.4 66.8h1.6v1.6h-1.6zM318.5 66.8h1.6v1.6h-1.6zM319.8 68.2h1.6v1.6h-1.6zM291.2 69.6h1.6v1.6h-1.6zM295.1 70.9h1.6v1.6h-1.6zM319.8 70.9h1.6v1.6h-1.6zM319.8 72.3h1.6v1.6h-1.6zM293.8 73.7h1.6v1.6h-1.6zM296.4 73.7h2.9v1.6h-2.9zM292.5 76.5h1.6v1.6h-1.6zM295.1 76.5h2.9v1.6h-2.9zM321.1 77.8h1.6v1.6h-1.6zM292.5 79.2h1.6v1.6h-1.6zM297.7 79.2h1.6v1.6h-1.6zM322.4 79.2h1.6v1.6h-1.6zM323.7 80.6h2.9v1.6h-2.9zM322.4 82.0h1.6v1.6h-1.6zM325.0 83.3h1.6v1.6h-1.6zM327.6 83.3h8.1v1.6h-8.1zM336.7 83.3h1.6v1.6h-1.6zM326.3 86.1h1.6v1.6h-1.6zM335.4 86.1h2.9v1.6h-2.9zM321.1 87.5h1.6v1.6h-1.6zM292.5 88.9h1.6v1.6h-1.6zM296.4 88.9h1.6v1.6h-1.6zM325.0 88.9h2.9v1.6h-2.9zM334.1 88.9h4.2v1.6h-4.2zM326.3 90.2h1.6v1.6h-1.6zM331.5 90.2h2.9v1.6h-2.9zM327.6 94.4h1.6v1.6h-1.6zM328.9 95.8h1.6v1.6h-1.6zM331.5 95.8h1.6v1.6h-1.6zM323.7 102.7h2.9v1.6h-2.9zM328.9 102.7h1.6v1.6h-1.6zM335.4 102.7h2.9v1.6h-2.9zM331.5 104.0h1.6v1.6h-1.6z"/>
<path fill="#19ffe5" d="M291.2 25.4h4.2v1.6h-4.2zM296.4 25.4h2.9v1.6h-2.9zM291.2 26.8h1.6v1.6h-1.6zM295.1 26.8h2.9v1.6h-2.9zM292.5 28.2h2.9v1.6h-2.9zM296.4 28.2h2.9v1.6h-2.9zM293.8 29.5h1.6v1.6h-1.6zM296.4 29.5h2.9v1.6h-2.9zM296.4 30.9h2.9v1.6h-2.9zM293.8 32.3h5.5v1.6h-5.5zM291.2 33.7h8.1v1.6h-8.1zM301.6 33.7h1.6v1.6h-1.6zM306.8 33.7h4.2v1.6h-4.2zM291.2 35.1h1.6v1.6h-1.6zM293.8 35.1h2.9v1.6h-2.9zM300.3 35.1h1.6v1.6h-1.6zM308.1 35.1h1.6v1.6h-1.6zM310.7 35.1h1.6v1.6h-1.6zM314.6 35.1h1.6v1.6h-1.6zM295.1 37.8h2.9v1.6h-2.9zM292.5 39.2h2.9v1.6h-2.9zM297.7 39.2h1.6v1.6h-1.6zM292.5 40.6h2.9v1.6h-2.9zM297.7 40.6h1.6v1.6h-1.6zM291.2 43.3h1.6v1.6h-1.6zM293.8 43.3h2.9v1.6h-2.9zM317.2 43.3h1.6v1.6h-1.6zM292.5 44.7h1.6v1.6h-1.6zM297.7 44.7h1.6v1.6h-1.6zM317.2 44.7h2.9v1.6h-2.9zM293.8 46.1h2.9v1.6h-2.9zM297.7 46.1h1.6v1.6h-1.6zM292.5 47.5h1.6v1.6h-1.6zM296.4 47.5h1.6v1.6h-1.6zM315.9 47.5h2.9v1.6h-2.9zM292.5 48.9h4.2v1.6h-4.2zM297.7 48.9h1.6v1.6h-1.6zM293.8 50.2h1.6v1.6h-1.6zM296.4 50.2h1.6v1.6h-1.6zM317.2 50.2h1.6v1.6h-1.6zM293.8 51.6h4.2v1.6h-4.2zM291.2 53.0h8.1v1.6h-8.1zM317.2 53.0h1.6v1.6h-1.6zM295.1 54.4h4.2v1.6h-4.2zM315.9 54.4h1.6v1.6h-1.6zM291.2 55.8h2.9v1.6h-2.9zM297.7 55.8h1.6v1.6h-1.6zM319.8 57.1h1.6v1.6h-1.6zM291.2 58.5h1.6v1.6h-1.6zM293.8 58.5h2.9v1.6h-2.9zM297.7 58.5h1.6v1.6h-1.6zM295.1 59.9h1.6v1.6h-1.6zM318.5 59.9h1.6v1.6h-1.6zM293.8 61.3h1.6v1.6h-1.6zM319.8 61.3h1.6v1.6h-1.6zM291.2 62.7h4.2v1.6h-4.2zM296.4 62.7h1.6v1.6h-1.6zM293.8 64.0h5.5v1.6h-5.5zM314.6 64.0h1.6v1.6h-1.6zM293.8 65.4h1.6v1.6h-1.6zM296.4 65.4h2.9v1.6h-2.9zM321.1 70.9h1.6v1.6h-1.6zM323.7 73.7h2.9v1.6h-2.9zM325.0 75.1h2.9v1.6h-2.9zM293.8 76.5h1.6v1.6h-1.6zM297.7 76.5h1.6v1.6h-1.6zM336.7 77.8h1.6v1.6h-1.6zM296.4 79.2h1.6v1.6h-1.6zM323.7 79.2h2.9v1.6h-2.9zM330.2 80.6h2.9v1.6h-2.9zM334.1 80.6h1.6v1.6h-1.6zM336.7 80.6h1.6v1.6h-1.6zM326.3 83.3h1.6v1.6h-1.6zM325.0 84.7h2.9v1.6h-2.9zM325.0 86.1h1.6v1.6h-1.6zM334.1 86.1h1.6v1.6h-1.6zM322.4 87.5h1.6v1.6h-1.6zM327.6 88.9h1.6v1.6h-1.6zM330.2 88.9h4.2v1.6h-4.2zM322.4 91.6h1.6v1.6h-1.6zM330.2 95.8h1.6v1.6h-1.6zM332.8 95.8h1.6v1.6h-1.6zM335.4 95.8h1.6v1.6h-1.6zM326.3 98.5h2.9v1.6h-2.9zM331.5 98.5h1.6v1.6h-1.6zM334.1 98.5h1.6v1.6h-1.6zM327.6 102.7h1.6v1.6h-1.6zM330.2 102.7h5.5v1.6h-5.5z"/>
<path fill="#32ffcc" d="M295.1 25.4h1.6v1.6h-1.6zM291.2 28.2h1.6v1.6h-1.6zM295.1 28.2h1.6v1.6h-1.6zM295.1 29.5h1.6v1.6h-1.6zM291.2 32.3h2.9v1.6h-2.9zM296.4 35.1h2.9v1.6h-2.9zM291.2 37.8h1.6v1.6h-1.6zM297.7 37.8h1.6v1.6h-1.6zM295.1 39.2h1.6v1.6h-1.6zM291.2 40.6h1.6v1.6h-1.6zM295.1 40.6h1.6v1.6h-1.6zM312.0 40.6h1.6v1.6h-1.6zM313.3 42.0h1.6v1.6h-1.6zM292.5 43.3h1.6v1.6h-1.6zM297.7 43.3h1.6v1.6h-1.6zM292.5 46.1h1.6v1.6h-1.6zM318.5 47.5h2.9v1.6h-2.9zM296.4 48.9h1.6v1.6h-1.6zM317.2 48.9h1.6v1.6h-1.6zM317.2 51.6h2.9v1.6h-2.9zM321.1 57.1h1.6v1.6h-1.6zM314.6 58.5h1.6v1.6h-1.6zM295.1 62.7h1.6v1.6h-1.6zM297.7 62.7h1.6v1.6h-1.6zM292.5 64.0h1.6v1.6h-1.6zM317.2 65.4h1.6v1.6h-1.6zM321.1 68.2h1.6v1.6h-1.6zM321.1 69.6h1.6v1.6h-1.6zM321.1 72.3h2.9v1.6h-2.9zM327.6 75.1h1.6v1.6h-1.6zM321.1 76.5h1.6v1.6h-1.6zM322.4 77.8h1.6v1.6h-1.6zM326.3 79.2h1.6v1.6h-1.6zM326.3 80.6h4.2v1.6h-4.2zM332.8 80.6h1.6v1.6h-1.6zM335.4 80.6h1.6v1.6h-1.6zM336.7 82.0h1.6v1.6h-1.6zM327.6 84.7h1.6v1.6h-1.6zM327.6 86.1h1.6v1.6h-1.6zM332.8 86.1h1.6v1.6h-1.6zM323.7 87.5h1.6v1.6h-1.6zM328.9 88.9h1.6v1.6h-1.6zM321.1 93.0h1.6v1.6h-1.6zM328.9 94.4h1.6v1.6h-1.6zM334.1 95.8h1.6v1.6h-1.6zM336.7 95.8h1.6v1.6h-1.6zM322.4 98.5h4.2v1.6h-4.2zM328.9 98.5h2.9v1.6h-2.9zM332.8 98.5h1.6v1.6h-1.6zM335.4 98.5h2.9v1.6h-2.9zM326.3 102.7h1.6v1.6h-1.6z"/>
<path fill="#4cffb2" d="M314.6 25.4h1.6v1.6h-1.6zM310.7 28.2h1.6v1.6h-1.6zM310.7 29.5h1.6v1.6h-1.6zM314.6 30.9h1.6v1.6h-1.6zM292.5 35.1h1.6v1.6h-1.6zM318.5 43.3h1.6v1.6h-1.6zM321.1 47.5h2.9v1.6h-2.9zM319.8 53.0h2.9v1.6h-2.9zM319.8 59.9h1.6v1.6h-1.6zM321.1 61.3h1.6v1.6h-1.6zM318.5 65.4h1.6v1.6h-1.6zM319.8 66.8h1.6v1.6h-1.6zM322.4 70.9h1.6v1.6h-1.6zM336.7 70.9h1.6v1.6h-1.6zM326.3 73.7h1.6v1.6h-1.6zM328.9 75.1h1.6v1.6h-1.6zM335.4 77.8h1.6v1.6h-1.6zM323.7 82.0h1.6v1.6h-1.6zM334.1 82.0h2.9v1.6h-2.9zM328.9 86.1h1.6v1.6h-1.6zM323.7 91.6h1.6v1.6h-1.6zM330.2 94.4h2.9v1.6h-2.9z"/>
<path fill="#65ff99" d="M315.9 35.1h1.6v1.6h-1.6zM314.6 39.2h1.6v1.6h-1.6zM323.7 47.5h1.6v1.6h-1.6zM318.5 48.9h1.6v1.6h-1.6zM318.5 50.2h1.6v1.6h-1.6zM319.8 55.8h2.9v1.6h-2.9zM315.9 58.5h1.6v1.6h-1.6zM321.1 59.9h1.6v1.6h-1.6zM318.5 62.7h1.6v1.6h-1.6zM336.7 62.7h1.6v1.6h-1.6zM335.4 65.4h2.9v1.6h-2.9zM321.1 66.8h1.6v1.6h-1.6zM322.4 69.6h1.6v1.6h-1.6zM323.7 72.3h1.6v1.6h-1.6zM327.6 73.7h1.6v1.6h-1.6zM330.2 75.1h1.6v1.6h-1.6zM322.4 76.5h1.6v1.6h-1.6zM323.7 77.8h1.6v1.6h-1.6zM327.6 79.2h1.6v1.6h-1.6zM332.8 82.0h1.6v1.6h-1.6zM328.9 84.7h2.9v1.6h-2.9zM330.2 86.1h1.6v1.6h-1.6zM325.0 87.5h2.9v1.6h-2.9zM331.5 87.5h5.5v1.6h-5.5zM335.4 94.4h2.9v1.6h-2.9z"/>
<path fill="#7fff7f" d="M310.7 26.8h1.6v1.6h-1.6zM312.0 32.3h1.6v1.6h-1.6zM313.3 33.7h1.6v1.6h-1.6zM315.9 36.4h1.6v1.6h-1.6zM314.6 42.0h1.6v1.6h-1.6zM319.8 43.3h1.6v1.6h-1.6zM319.8 44.7h1.6v1.6h-1.6zM314.6 46.1h1.6v1.6h-1.6zM325.0 47.5h1.6v1.6h-1.6zM331.5 47.5h1.6v1.6h-1.6zM319.8 51.6h1.6v1.6h-1.6zM322.4 53.0h1.6v1.6h-1.6zM317.2 54.4h1.6v1.6h-1.6zM322.4 57.1h1.6v1.6h-1.6zM322.4 59.9h2.9v1.6h-2.9zM326.3 59.9h1.6v1.6h-1.6zM334.1 59.9h2.9v1.6h-2.9zM322.4 61.3h1.6v1.6h-1.6zM334.1 65.4h1.6v1.6h-1.6zM322.4 68.2h1.6v1.6h-1.6zM323.7 70.9h1.6v1.6h-1.6zM335.4 70.9h1.6v1.6h-1.6zM325.0 72.3h1.6v1.6h-1.6zM332.8 75.1h1.6v1.6h-1.6zM335.4 75.1h1.6v1.6h-1.6zM334.1 77.8h1.6v1.6h-1.6zM328.9 79.2h1.6v1.6h-1.6zM325.0 82.0h1.6v1.6h-1.6zM331.5 82.0h1.6v1.6h-1.6zM331.5 86.1h1.6v1.6h-1.6zM327.6 87.5h4.2v1.6h-4.2zM336.7 87.5h1.6v1.6h-1.6zM322.4 93.0h1.6v1.6h-1.6zM332.8 94.4h2.9v1.6h-2.9z"/>
<path fill="#99ff65" d="M317.2 35.1h1.6v1.6h-1.6zM317.2 37.8h1.6v1.6h-1.6zM326.3 47.5h4.2v1.6h-4.2zM332.8 47.5h5.5v1.6h-5.5zM319.8 50.2h1.6v1.6h-1.6zM323.7 53.0h1.6v1.6h-1.6zM325.0 59.9h1.6v1.6h-1.6zM327.6 59.9h6.8v1.6h-6.8zM336.7 59.9h1.6v1.6h-1.6zM323.7 61.3h1.6v1.6h-1.6zM330.2 61.3h1.6v1.6h-1.6zM334.1 61.3h1.6v1.6h-1.6zM336.7 61.3h1.6v1.6h-1.6zM319.8 62.7h1.6v1.6h-1.6zM315.9 64.0h1.6v1.6h-1.6zM336.7 64.0h1.6v1.6h-1.6zM319.8 65.4h1.6v1.6h-1.6zM332.8 65.4h1.6v1.6h-1.6zM322.4 66.8h1.6v1.6h-1.6zM323.7 68.2h1.6v1.6h-1.6zM328.9 73.7h2.9v1.6h-2.9zM331.5 75.1h1.6v1.6h-1.6zM336.7 75.1h1.6v1.6h-1.6zM335.4 76.5h1.6v1.6h-1.6zM332.8 77.8h1.6v1.6h-1.6zM330.2 79.2h1.6v1.6h-1.6zM330.2 82.0h1.6v1.6h-1.6z"/>
<path fill="#b2ff4c" d="M312.0 28.2h1.6v1.6h-1.6zM315.9 30.9h1.6v1.6h-1.6zM321.1 44.7h1.6v1.6h-1.6zM330.2 47.5h1.6v1.6h-1.6zM319.8 48.9h1.6v1.6h-1.6zM321.1 51.6h1.6v1.6h-1.6zM322.4 55.8h1.6v1.6h-1.6zM323.7 57.1h1.6v1.6h-1.6zM317.2 58.5h1.6v1.6h-1.6zM325.0 61.3h5.5v1.6h-5.5zM331.5 61.3h2.9v1.6h-2.9zM335.4 62.7h1.6v1.6h-1.6zM335.4 64.0h1.6v1.6h-1.6zM331.5 65.4h1.6v1.6h-1.6zM323.7 69.6h1.6v1.6h-1.6zM325.0 70.9h1.6v1.6h-1.6zM332.8 70.9h2.9v1.6h-2.9zM334.1 75.1h1.6v1.6h-1.6zM332.8 76.5h2.9v1.6h-2.9zM336.7 76.5h1.6v1.6h-1.6zM325.0 77.8h1.6v1.6h-1.6zM331.5 77.8h1.6v1.6h-1.6zM326.3 82.0h4.2v1.6h-4.2zM331.5 84.7h1.6v1.6h-1.6z"/>
<path fill="#cbff33" d="M315.9 25.4h1.6v1.6h-1.6zM312.0 29.5h1.6v1.6h-1.6zM318.5 35.1h1.6v1.6h-1.6zM313.3 40.6h1.6v1.6h-1.6zM321.1 43.3h1.6v1.6h-1.6zM322.4 44.7h1.6v1.6h-1.6zM325.0 53.0h1.6v1.6h-1.6zM318.5 54.4h1.6v1.6h-1.6zM335.4 61.3h1.6v1.6h-1.6zM334.1 62.7h1.6v1.6h-1.6zM331.5 64.0h4.2v1.6h-4.2zM330.2 65.4h1.6v1.6h-1.6zM325.0 68.2h1.6v1.6h-1.6zM326.3 72.3h2.9v1.6h-2.9zM330.2 72.3h2.9v1.6h-2.9zM334.1 72.3h1.6v1.6h-1.6zM336.7 72.3h1.6v1.6h-1.6zM331.5 73.7h1.6v1.6h-1.6zM323.7 76.5h1.6v1.6h-1.6zM327.6 76.5h1.6v1.6h-1.6zM330.2 76.5h2.9v1.6h-2.9zM330.2 77.8h1.6v1.6h-1.6zM331.5 79.2h1.6v1.6h-1.6zM332.8 84.7h1.6v1.6h-1.6zM335.4 84.7h1.6v1.6h-1.6zM323.7 93.0h1.6v1.6h-1.6z"/>
<path fill="#e5ff19" d="M315.9 42.0h1.6v1.6h-1.6zM321.1 48.9h1.6v1.6h-1.6zM322.4 51.6h1.6v1.6h-1.6zM325.0 57.1h1.6v1.6h-1.6zM321.1 62.7h1.6v1.6h-1.6zM317.2 64.0h1.6v1.6h-1.6zM328.9 65.4h1.6v1.6h-1.6zM323.7 66.8h1.6v1.6h-1.6zM336.7 66.8h1.6v1.6h-1.6zM325.0 69.6h2.9v1.6h-2.9zM335.4 69.6h2.9v1.6h-2.9zM326.3 70.9h1.6v1.6h-1.6zM331.5 70.9h1.6v1.6h-1.6zM328.9 72.3h1.6v1.6h-1.6zM332.8 72.3h1.6v1.6h-1.6zM335.4 72.3h1.6v1.6h-1.6zM332.8 73.7h1.6v1.6h-1.6zM325.0 76.5h2.9v1.6h-2.9zM328.9 76.5h1.6v1.6h-1.6zM326.3 77.8h1.6v1.6h-1.6zM332.8 79.2h4.2v1.6h-4.2zM334.1 84.7h1.6v1.6h-1.6zM325.0 91.6h1.6v1.6h-1.6zM334.1 91.6h4.2v1.6h-4.2z"/>
<path fill="#ffff00" d="M313.3 32.3h1.6v1.6h-1.6zM317.2 42.0h1.6v1.6h-1.6zM323.7 44.7h1.6v1.6h-1.6zM321.1 50.2h1.6v1.6h-1.6zM323.7 51.6h1.6v1.6h-1.6zM323.7 55.8h1.6v1.6h-1.6zM318.5 58.5h1.6v1.6h-1.6zM326.3 64.0h1.6v1.6h-1.6zM330.2 64.0h1.6v1.6h-1.6zM321.1 65.4h1.6v1.6h-1.6zM327.6 65.4h1.6v1.6h-1.6zM331.5 66.8h5.5v1.6h-5.5zM328.9 69.6h1.6v1.6h-1.6zM331.5 69.6h4.2v1.6h-4.2zM327.6 70.9h1.6v1.6h-1.6zM335.4 73.7h2.9v1.6h-2.9zM336.7 79.2h1.6v1.6h-1.6zM336.7 84.7h1.6v1.6h-1.6zM331.5 91.6h2.9v1.6h-2.9zM327.6 93.0h1.6v1.6h-1.6z"/>
<path fill="#ffe500" d="M317.2 30.9h1.6v1.6h-1.6zM319.8 35.1h1.6v1.6h-1.6zM315.9 39.2h1.6v1.6h-1.6zM322.4 43.3h1.6v1.6h-1.6zM326.3 53.0h1.6v1.6h-1.6zM322.4 62.7h1.6v1.6h-1.6zM332.8 62.7h1.6v1.6h-1.6zM327.6 64.0h2.9v1.6h-2.9zM326.3 65.4h1.6v1.6h-1.6zM326.3 66.8h1.6v1.6h-1.6zM328.9 66.8h2.9v1.6h-2.9zM326.3 68.2h2.9v1.6h-2.9zM331.5 68.2h1.6v1.6h-1.6zM336.7 68.2h1.6v1.6h-1.6zM327.6 69.6h1.6v1.6h-1.6zM330.2 69.6h1.6v1.6h-1.6zM330.2 70.9h1.6v1.6h-1.6zM334.1 73.7h1.6v1.6h-1.6zM327.6 77.8h2.9v1.6h-2.9zM330.2 91.6h1.6v1.6h-1.6zM325.0 93.0h2.9v1.6h-2.9zM328.9 93.0h1.6v1.6h-1.6zM331.5 93.0h6.8v1.6h-6.8z"/>
<path fill="#ffcb00" d="M312.0 26.8h1.6v1.6h-1.6zM313.3 28.2h1.6v1.6h-1.6zM317.2 36.4h1.6v1.6h-1.6zM318.5 37.8h1.6v1.6h-1.6zM322.4 48.9h1.6v1.6h-1.6zM336.7 50.2h1.6v1.6h-1.6zM327.6 53.0h1.6v1.6h-1.6zM319.8 54.4h1.6v1.6h-1.6zM325.0 55.8h1.6v1.6h-1.6zM336.7 55.8h1.6v1.6h-1.6zM326.3 57.1h1.6v1.6h-1.6zM331.5 62.7h1.6v1.6h-1.6zM318.5 64.0h1.6v1.6h-1.6zM323.7 64.0h2.9v1.6h-2.9zM325.0 65.4h1.6v1.6h-1.6zM325.0 66.8h1.6v1.6h-1.6zM327.6 66.8h1.6v1.6h-1.6zM328.9 68.2h2.9v1.6h-2.9zM332.8 68.2h4.2v1.6h-4.2zM328.9 70.9h1.6v1.6h-1.6zM326.3 91.6h4.2v1.6h-4.2zM330.2 93.0h1.6v1.6h-1.6z"/>
<path fill="#ffb200" d="M317.2 25.4h1.6v1.6h-1.6zM325.0 44.7h1.6v1.6h-1.6zM322.4 50.2h1.6v1.6h-1.6zM335.4 50.2h1.6v1.6h-1.6zM325.0 51.6h1.6v1.6h-1.6zM328.9 53.0h1.6v1.6h-1.6zM327.6 57.1h1.6v1.6h-1.6zM319.8 58.5h1.6v1.6h-1.6zM319.8 64.0h1.6v1.6h-1.6zM322.4 64.0h1.6v1.6h-1.6z"/>
<path fill="#ff9900" d="M313.3 29.5h1.6v1.6h-1.6zM336.7 35.1h1.6v1.6h-1.6zM323.7 43.3h1.6v1.6h-1.6zM315.9 46.1h1.6v1.6h-1.6zM334.1 50.2h1.6v1.6h-1.6zM326.3 55.8h1.6v1.6h-1.6zM335.4 55.8h1.6v1.6h-1.6zM332.8 57.1h4.2v1.6h-4.2zM330.2 62.7h1.6v1.6h-1.6zM321.1 64.0h1.6v1.6h-1.6zM322.4 65.4h2.9v1.6h-2.9z"/>
<path fill="#ff7f00" d="M321.1 35.1h1.6v1.6h-1.6zM332.8 35.1h1.6v1.6h-1.6zM335.4 35.1h1.6v1.6h-1.6zM318.5 42.0h1.6v1.6h-1.6zM326.3 44.7h1.6v1.6h-1.6zM323.7 48.9h1.6v1.6h-1.6zM323.7 50.2h1.6v1.6h-1.6zM326.3 51.6h1.6v1.6h-1.6zM330.2 53.0h1.6v1.6h-1.6zM336.7 53.0h1.6v1.6h-1.6zM321.1 54.4h1.6v1.6h-1.6zM332.8 55.8h2.9v1.6h-2.9zM328.9 57.1h4.2v1.6h-4.2zM336.7 57.1h1.6v1.6h-1.6z"/>
<path fill="#ff6500" d="M318.5 30.9h1.6v1.6h-1.6zM314.6 32.3h1.6v1.6h-1.6zM314.6 33.7h1.6v1.6h-1.6zM325.0 35.1h1.6v1.6h-1.6zM327.6 35.1h1.6v1.6h-1.6zM330.2 35.1h2.9v1.6h-2.9zM334.1 35.1h1.6v1.6h-1.6zM319.8 37.8h1.6v1.6h-1.6zM332.8 50.2h1.6v1.6h-1.6zM327.6 51.6h1.6v1.6h-1.6zM331.5 53.0h1.6v1.6h-1.6zM334.1 53.0h1.6v1.6h-1.6zM336.7 54.4h1.6v1.6h-1.6zM331.5 55.8h1.6v1.6h-1.6zM321.1 58.5h1.6v1.6h-1.6zM336.7 58.5h1.6v1.6h-1.6zM323.7 62.7h1.6v1.6h-1.6z"/>
<path fill="#ff4c00" d="M336.7 25.4h1.6v1.6h-1.6zM314.6 28.2h1.6v1.6h-1.6zM322.4 35.1h1.6v1.6h-1.6zM326.3 35.1h1.6v1.6h-1.6zM328.9 35.1h1.6v1.6h-1.6zM314.6 40.6h1.6v1.6h-1.6zM325.0 43.3h1.6v1.6h-1.6zM332.8 53.0h1.6v1.6h-1.6zM335.4 53.0h1.6v1.6h-1.6zM327.6 55.8h1.6v1.6h-1.6zM330.2 58.5h6.8v1.6h-6.8zM328.9 62.7h1.6v1.6h-1.6z"/>
<path fill="#ff3300" d="M318.5 25.4h1.6v1.6h-1.6zM323.7 35.1h1.6v1.6h-1.6zM319.8 42.0h1.6v1.6h-1.6zM327.6 44.7h1.6v1.6h-1.6zM325.0 48.9h1.6v1.6h-1.6zM336.7 48.9h1.6v1.6h-1.6zM327.6 58.5h1.6v1.6h-1.6zM327.6 62.7h1.6v1.6h-1.6z"/>
<path fill="#ff1900" d="M313.3 26.8h1.6v1.6h-1.6zM319.8 30.9h1.6v1.6h-1.6zM317.2 39.2h1.6v1.6h-1.6zM326.3 43.3h1.6v1.6h-1.6zM335.4 48.9h1.6v1.6h-1.6zM325.0 50.2h1.6v1.6h-1.6zM331.5 50.2h1.6v1.6h-1.6zM328.9 51.6h1.6v1.6h-1.6zM335.4 54.4h1.6v1.6h-1.6zM328.9 55.8h2.9v1.6h-2.9zM322.4 58.5h5.5v1.6h-5.5zM328.9 58.5h1.6v1.6h-1.6zM325.0 62.7h1.6v1.6h-1.6z"/>
<path fill="#ff0000" d="M314.6 29.5h1.6v1.6h-1.6zM328.9 44.7h1.6v1.6h-1.6zM330.2 50.2h1.6v1.6h-1.6zM332.8 51.6h2.9v1.6h-2.9zM322.4 54.4h1.6v1.6h-1.6zM326.3 62.7h1.6v1.6h-1.6z"/>
<path fill="#e50000" d="M318.5 36.4h1.6v1.6h-1.6zM321.1 37.8h1.6v1.6h-1.6zM336.7 43.3h1.6v1.6h-1.6zM334.1 48.9h1.6v1.6h-1.6zM328.9 50.2h1.6v1.6h-1.6zM330.2 51.6h2.9v1.6h-2.9zM335.4 51.6h2.9v1.6h-2.9z"/>
<path fill="#cb0000" d="M335.4 25.4h1.6v1.6h-1.6zM315.9 32.3h1.6v1.6h-1.6zM321.1 42.0h1.6v1.6h-1.6zM327.6 43.3h1.6v1.6h-1.6zM326.3 48.9h1.6v1.6h-1.6z"/>
<path fill="#b20000" d="M319.8 25.4h1.6v1.6h-1.6zM315.9 28.2h1.6v1.6h-1.6zM334.1 43.3h2.9v1.6h-2.9zM330.2 44.7h1.6v1.6h-1.6zM317.2 46.1h1.6v1.6h-1.6zM332.8 48.9h1.6v1.6h-1.6zM326.3 50.2h1.6v1.6h-1.6zM334.1 54.4h1.6v1.6h-1.6z"/>
<path fill="#990000" d="M321.1 30.9h1.6v1.6h-1.6zM322.4 42.0h1.6v1.6h-1.6zM330.2 43.3h4.2v1.6h-4.2zM327.6 48.9h1.6v1.6h-1.6zM327.6 50.2h1.6v1.6h-1.6zM323.7 54.4h1.6v1.6h-1.6z"/>
<path fill="#7f0000" d="M321.1 25.4h14.6v1.6h-14.6zM314.6 26.8h23.7v1.6h-23.7zM317.2 28.2h21.1v1.6h-21.1zM315.9 29.5h22.4v1.6h-22.4zM322.4 30.9h15.9v1.6h-15.9zM317.2 32.3h21.1v1.6h-21.1zM315.9 33.7h22.4v1.6h-22.4zM319.8 36.4h18.5v1.6h-18.5zM322.4 37.8h15.9v1.6h-15.9zM318.5 39.2h19.8v1.6h-19.8zM315.9 40.6h22.4v1.6h-22.4zM323.7 42.0h14.6v1.6h-14.6zM328.9 43.3h1.6v1.6h-1.6zM331.5 44.7h6.8v1.6h-6.8zM318.5 46.1h19.8v1.6h-19.8zM328.9 48.9h4.2v1.6h-4.2zM325.0 54.4h9.4v1.6h-9.4z"/>
</g>
<g shape-rendering="crispEdges">
<path fill="#0000b2" d="M386.6 117.8h1.6v1.6h-1.6z"/>
<path fill="#0000cc" d="M385.3 117.8h1.6v1.6h-1.6z"/>
<path fill="#0000e5" d="M382.7 108.2h5.5v1.6h-5.5zM382.7 117.8h2.9v1.6h-2.9zM354.0 138.5h1.6v1.6h-1.6zM359.2 138.5h1.6v1.6h-1.6zM361.8 138.5h1.6v1.6h-1.6zM351.3 139.9h5.5v1.6h-5.5zM357.9 139.9h2.9v1.6h-2.9zM361.8 139.9h1.6v1.6h-1.6zM364.4 139.9h2.9v1.6h-2.9zM370.9 139.9h5.5v1.6h-5.5zM377.5 139.9h1.6v1.6h-1.6zM381.4 139.9h1.6v1.6h-1.6zM384.0 139.9h2.9v1.6h-2.9z"/>
<path fill="#0000ff" d="M382.7 73.7h5.5v1.6h-5.5zM350.0 122.0h1.6v1.6h-1.6zM356.6 122.0h1.6v1.6h-1.6zM367.0 122.0h1.6v1.6h-1.6zM385.3 122.0h1.6v1.6h-1.6zM350.0 138.5h2.9v1.6h-2.9zM355.3 138.5h4.2v1.6h-4.2zM360.5 138.5h1.6v1.6h-1.6zM363.1 138.5h1.6v1.6h-1.6zM365.7 138.5h13.3v1.6h-13.3zM382.7 138.5h4.2v1.6h-4.2zM350.0 139.9h1.6v1.6h-1.6zM356.6 139.9h1.6v1.6h-1.6zM360.5 139.9h1.6v1.6h-1.6zM363.1 139.9h1.6v1.6h-1.6zM367.0 139.9h4.2v1.6h-4.2zM376.1 139.9h1.6v1.6h-1.6zM378.8 139.9h2.9v1.6h-2.9zM382.7 139.9h1.6v1.6h-1.6zM386.6 139.9h1.6v1.6h-1.6z"/>
<path fill="#0019ff" d="M384.0 66.8h1.6v1.6h-1.6zM343.5 122.0h6.8v1.6h-6.8zM354.0 122.0h1.6v1.6h-1.6zM357.9 122.0h5.5v1.6h-5.5zM364.4 122.0h1.6v1.6h-1.6zM368.3 122.0h2.9v1.6h-2.9zM376.1 122.0h2.9v1.6h-2.9zM380.1 122.0h1.6v1.6h-1.6zM384.0 122.0h1.6v1.6h-1.6zM386.6 122.0h1.6v1.6h-1.6zM352.6 138.5h1.6v1.6h-1.6zM364.4 138.5h1.6v1.6h-1.6zM378.8 138.5h4.2v1.6h-4.2zM386.6 138.5h1.6v1.6h-1.6z"/>
<path fill="#0032ff" d="M382.7 66.8h1.6v1.6h-1.6zM385.3 66.8h2.9v1.6h-2.9zM351.3 122.0h1.6v1.6h-1.6zM370.9 122.0h1.6v1.6h-1.6zM382.7 122.0h1.6v1.6h-1.6z"/>
<path fill="#004cff" d="M340.9 122.0h2.9v1.6h-2.9zM348.7 124.7h1.6v1.6h-1.6zM354.0 124.7h1.6v1.6h-1.6zM360.5 124.7h1.6v1.6h-1.6zM367.0 124.7h1.6v1.6h-1.6zM373.5 124.7h2.9v1.6h-2.9zM380.1 124.7h1.6v1.6h-1.6zM382.7 124.7h1.6v1.6h-1.6zM343.5 126.1h1.6v1.6h-1.6zM347.4 126.1h1.6v1.6h-1.6zM350.0 126.1h1.6v1.6h-1.6zM354.0 126.1h2.9v1.6h-2.9zM359.2 126.1h4.2v1.6h-4.2zM368.3 126.1h1.6v1.6h-1.6zM376.1 126.1h1.6v1.6h-1.6zM384.0 126.1h1.6v1.6h-1.6zM352.6 127.5h1.6v1.6h-1.6zM355.3 127.5h1.6v1.6h-1.6zM360.5 127.5h1.6v1.6h-1.6zM365.7 127.5h1.6v1.6h-1.6zM369.6 127.5h1.6v1.6h-1.6zM372.2 127.5h1.6v1.6h-1.6zM344.8 128.9h1.6v1.6h-1.6zM354.0 128.9h1.6v1.6h-1.6zM369.6 128.9h1.6v1.6h-1.6zM347.4 131.6h4.2v1.6h-4.2zM352.6 131.6h1.6v1.6h-1.6zM355.3 131.6h1.6v1.6h-1.6zM364.4 131.6h1.6v1.6h-1.6zM367.0 131.6h1.6v1.6h-1.6zM372.2 131.6h2.9v1.6h-2.9zM385.3 131.6h1.6v1.6h-1.6zM344.8 134.4h2.9v1.6h-2.9zM351.3 134.4h1.6v1.6h-1.6zM354.0 134.4h1.6v1.6h-1.6zM369.6 134.4h1.6v1.6h-1.6zM373.5 134.4h1.6v1.6h-1.6zM380.1 134.4h5.5v1.6h-5.5zM386.6 134.4h1.6v1.6h-1.6zM344.8 137.2h4.2v1.6h-4.2zM350.0 137.2h4.2v1.6h-4.2zM355.3 137.2h1.6v1.6h-1.6zM357.9 137.2h9.4v1.6h-9.4zM368.3 137.2h4.2v1.6h-4.2zM373.5 137.2h1.6v1.6h-1.6zM382.7 137.2h4.2v1.6h-4.2z"/>
<path fill="#0065ff" d="M354.0 115.1h1.6v1.6h-1.6zM344.8 116.5h2.9v1.6h-2.9zM354.0 116.5h1.6v1.6h-1.6zM356.6 116.5h2.9v1.6h-2.9zM360.5 116.5h1.6v1.6h-1.6zM364.4 116.5h1.6v1.6h-1.6zM380.1 116.5h1.6v1.6h-1.6zM386.6 116.5h1.6v1.6h-1.6zM377.5 117.8h1.6v1.6h-1.6zM381.4 117.8h1.6v1.6h-1.6zM347.4 119.2h1.6v1.6h-1.6zM351.3 119.2h1.6v1.6h-1.6zM368.3 119.2h1.6v1.6h-1.6zM373.5 119.2h1.6v1.6h-1.6zM377.5 119.2h1.6v1.6h-1.6zM381.4 119.2h1.6v1.6h-1.6zM386.6 119.2h1.6v1.6h-1.6zM346.1 120.6h1.6v1.6h-1.6zM350.0 120.6h1.6v1.6h-1.6zM359.2 120.6h1.6v1.6h-1.6zM364.4 120.6h1.6v1.6h-1.6zM374.8 120.6h1.6v1.6h-1.6zM380.1 120.6h1.6v1.6h-1.6zM346.1 123.4h6.8v1.6h-6.8zM355.3 123.4h4.2v1.6h-4.2zM361.8 123.4h1.6v1.6h-1.6zM365.7 123.4h4.2v1.6h-4.2zM370.9 123.4h1.6v1.6h-1.6zM374.8 123.4h1.6v1.6h-1.6zM378.8 123.4h1.6v1.6h-1.6zM381.4 123.4h6.8v1.6h-6.8zM343.5 124.7h1.6v1.6h-1.6zM346.1 124.7h2.9v1.6h-2.9zM350.0 124.7h4.2v1.6h-4.2zM355.3 124.7h5.5v1.6h-5.5zM361.8 124.7h5.5v1.6h-5.5zM368.3 124.7h1.6v1.6h-1.6zM370.9 124.7h2.9v1.6h-2.9zM376.1 124.7h4.2v1.6h-4.2zM381.4 124.7h1.6v1.6h-1.6zM385.3 124.7h2.9v1.6h-2.9zM344.8 126.1h2.9v1.6h-2.9zM348.7 126.1h1.6v1.6h-1.6zM351.3 126.1h2.9v1.6h-2.9zM356.6 126.1h2.9v1.6h-2.9zM363.1 126.1h5.5v1.6h-5.5zM369.6 126.1h5.5v1.6h-5.5zM377.5 126.1h6.8v1.6h-6.8zM385.3 126.1h1.6v1.6h-1.6zM343.5 127.5h9.4v1.6h-9.4zM354.0 127.5h1.6v1.6h-1.6zM356.6 127.5h4.2v1.6h-4.2zM361.8 127.5h2.9v1.6h-2.9zM367.0 127.5h2.9v1.6h-2.9zM370.9 127.5h1.6v1.6h-1.6zM373.5 127.5h1.6v1.6h-1.6zM376.1 127.5h10.7v1.6h-10.7zM343.5 128.9h1.6v1.6h-1.6zM346.1 128.9h5.5v1.6h-5.5zM355.3 128.9h2.9v1.6h-2.9zM365.7 128.9h4.2v1.6h-4.2zM370.9 128.9h4.2v1.6h-4.2zM378.8 128.9h2.9v1.6h-2.9zM382.7 128.9h2.9v1.6h-2.9zM386.6 128.9h1.6v1.6h-1.6zM344.8 130.3h2.9v1.6h-2.9zM350.0 130.3h4.2v1.6h-4.2zM359.2 130.3h4.2v1.6h-4.2zM368.3 130.3h5.5v1.6h-5.5zM374.8 130.3h1.6v1.6h-1.6zM381.4 130.3h2.9v1.6h-2.9zM386.6 130.3h1.6v1.6h-1.6zM343.5 131.6h4.2v1.6h-4.2zM351.3 131.6h1.6v1.6h-1.6zM354.0 131.6h1.6v1.6h-1.6zM356.6 131.6h8.1v1.6h-8.1zM365.7 131.6h1.6v1.6h-1.6zM368.3 131.6h4.2v1.6h-4.2zM374.8 131.6h10.7v1.6h-10.7zM386.6 131.6h1.6v1.6h-1.6zM344.8 133.0h1.6v1.6h-1.6zM347.4 133.0h2.9v1.6h-2.9zM351.3 133.0h5.5v1.6h-5.5zM357.9 133.0h2.9v1.6h-2.9zM361.8 133.0h2.9v1.6h-2.9zM365.7 133.0h1.6v1.6h-1.6zM368.3 133.0h1.6v1.6h-1.6zM370.9 133.0h1.6v1.6h-1.6zM373.5 133.0h5.5v1.6h-5.5zM380.1 133.0h1.6v1.6h-1.6zM384.0 133.0h1.6v1.6h-1.6zM343.5 134.4h1.6v1.6h-1.6zM347.4 134.4h4.2v1.6h-4.2zM352.6 134.4h1.6v1.6h-1.6zM355.3 134.4h14.6v1.6h-14.6zM370.9 134.4h2.9v1.6h-2.9zM374.8 134.4h5.5v1.6h-5.5zM385.3 134.4h1.6v1.6h-1.6zM343.5 135.8h1.6v1.6h-1.6zM346.1 135.8h6.8v1.6h-6.8zM356.6 135.8h1.6v1.6h-1.6zM361.8 135.8h1.6v1.6h-1.6zM365.7 135.8h2.9v1.6h-2.9zM369.6 135.8h1.6v1.6h-1.6zM373.5 135.8h2.9v1.6h-2.9zM377.5 135.8h2.9v1.6h-2.9zM381.4 135.8h6.8v1.6h-6.8zM342.2 137.2h2.9v1.6h-2.9zM348.7 137.2h1.6v1.6h-1.6zM354.0 137.2h1.6v1.6h-1.6zM356.6 137.2h1.6v1.6h-1.6zM367.0 137.2h1.6v1.6h-1.6zM372.2 137.2h1.6v1.6h-1.6zM374.8 137.2h8.1v1.6h-8.1zM386.6 137.2h1.6v1.6h-1.6z"/>
<path fill="#007fff" d="M354.0 93.0h1.6v1.6h-1.6zM348.7 97.1h1.6v1.6h-1.6zM356.6 97.1h1.6v1.6h-1.6zM359.2 97.1h1.6v1.6h-1.6zM361.8 97.1h1.6v1.6h-1.6zM372.2 97.1h1.6v1.6h-1.6zM346.1 101.3h8.1v1.6h-8.1zM356.6 101.3h1.6v1.6h-1.6zM359.2 101.3h1.6v1.6h-1.6zM361.8 101.3h1.6v1.6h-1.6zM367.0 101.3h2.9v1.6h-2.9zM373.5 101.3h1.6v1.6h-1.6zM376.1 101.3h1.6v1.6h-1.6zM381.4 101.3h1.6v1.6h-1.6zM384.0 101.3h2.9v1.6h-2.9zM343.5 102.7h1.6v1.6h-1.6zM354.0 102.7h1.6v1.6h-1.6zM361.8 102.7h4.2v1.6h-4.2zM372.2 102.7h1.6v1.6h-1.6zM381.4 102.7h1.6v1.6h-1.6zM343.5 105.4h1.6v1.6h-1.6zM356.6 105.4h1.6v1.6h-1.6zM385.3 105.4h1.6v1.6h-1.6zM346.1 106.8h1.6v1.6h-1.6zM367.0 106.8h1.6v1.6h-1.6zM380.1 106.8h1.6v1.6h-1.6zM348.7 109.6h2.9v1.6h-2.9zM354.0 109.6h1.6v1.6h-1.6zM357.9 109.6h1.6v1.6h-1.6zM361.8 109.6h1.6v1.6h-1.6zM364.4 109.6h23.8v1.6h-23.8zM350.0 110.9h1.6v1.6h-1.6zM357.9 110.9h1.6v1.6h-1.6zM384.0 110.9h2.9v1.6h-2.9zM346.1 113.7h1.6v1.6h-1.6zM350.0 113.7h1.6v1.6h-1.6zM357.9 113.7h1.6v1.6h-1.6zM380.1 113.7h1.6v1.6h-1.6zM384.0 113.7h1.6v1.6h-1.6zM343.5 115.1h5.5v1.6h-5.5zM350.0 115.1h4.2v1.6h-4.2zM355.3 115.1h1.6v1.6h-1.6zM357.9 115.1h4.2v1.6h-4.2zM363.1 115.1h2.9v1.6h-2.9zM367.0 115.1h5.5v1.6h-5.5zM374.8 115.1h1.6v1.6h-1.6zM377.5 115.1h1.6v1.6h-1.6zM381.4 115.1h2.9v1.6h-2.9zM343.5 116.5h1.6v1.6h-1.6zM347.4 116.5h5.5v1.6h-5.5zM355.3 116.5h1.6v1.6h-1.6zM359.2 116.5h1.6v1.6h-1.6zM363.1 116.5h1.6v1.6h-1.6zM365.7 116.5h4.2v1.6h-4.2zM370.9 116.5h9.4v1.6h-9.4zM381.4 116.5h5.5v1.6h-5.5zM343.5 117.8h14.6v1.6h-14.6zM359.2 117.8h17.2v1.6h-17.2zM378.8 117.8h2.9v1.6h-2.9zM343.5 119.2h4.2v1.6h-4.2zM348.7 119.2h2.9v1.6h-2.9zM352.6 119.2h5.5v1.6h-5.5zM359.2 119.2h9.4v1.6h-9.4zM369.6 119.2h4.2v1.6h-4.2zM374.8 119.2h2.9v1.6h-2.9zM378.8 119.2h2.9v1.6h-2.9zM382.7 119.2h4.2v1.6h-4.2zM343.5 120.6h1.6v1.6h-1.6zM347.4 120.6h2.9v1.6h-2.9zM351.3 120.6h2.9v1.6h-2.9zM357.9 120.6h1.6v1.6h-1.6zM360.5 120.6h4.2v1.6h-4.2zM365.7 120.6h4.2v1.6h-4.2zM370.9 120.6h4.2v1.6h-4.2zM377.5 120.6h1.6v1.6h-1.6zM382.7 120.6h2.9v1.6h-2.9zM386.6 120.6h1.6v1.6h-1.6zM340.9 123.4h1.6v1.6h-1.6zM343.5 123.4h2.9v1.6h-2.9zM352.6 123.4h2.9v1.6h-2.9zM359.2 123.4h2.9v1.6h-2.9zM363.1 123.4h2.9v1.6h-2.9zM369.6 123.4h1.6v1.6h-1.6zM373.5 123.4h1.6v1.6h-1.6zM376.1 123.4h2.9v1.6h-2.9zM380.1 123.4h1.6v1.6h-1.6zM344.8 124.7h1.6v1.6h-1.6zM369.6 124.7h1.6v1.6h-1.6zM384.0 124.7h1.6v1.6h-1.6zM374.8 126.1h1.6v1.6h-1.6zM364.4 127.5h1.6v1.6h-1.6zM374.8 127.5h1.6v1.6h-1.6zM386.6 127.5h1.6v1.6h-1.6zM351.3 128.9h2.9v1.6h-2.9zM357.9 128.9h8.1v1.6h-8.1zM374.8 128.9h4.2v1.6h-4.2zM381.4 128.9h1.6v1.6h-1.6zM385.3 128.9h1.6v1.6h-1.6zM343.5 130.3h1.6v1.6h-1.6zM347.4 130.3h2.9v1.6h-2.9zM354.0 130.3h5.5v1.6h-5.5zM363.1 130.3h5.5v1.6h-5.5zM373.5 130.3h1.6v1.6h-1.6zM376.1 130.3h5.5v1.6h-5.5zM384.0 130.3h2.9v1.6h-2.9zM343.5 133.0h1.6v1.6h-1.6zM346.1 133.0h1.6v1.6h-1.6zM350.0 133.0h1.6v1.6h-1.6zM356.6 133.0h1.6v1.6h-1.6zM360.5 133.0h1.6v1.6h-1.6zM364.4 133.0h1.6v1.6h-1.6zM367.0 133.0h1.6v1.6h-1.6zM369.6 133.0h1.6v1.6h-1.6zM372.2 133.0h1.6v1.6h-1.6zM378.8 133.0h1.6v1.6h-1.6zM381.4 133.0h2.9v1.6h-2.9zM385.3 133.0h2.9v1.6h-2.9zM340.9 134.4h2.9v1.6h-2.9zM344.8 135.8h1.6v1.6h-1.6zM352.6 135.8h4.2v1.6h-4.2zM357.9 135.8h4.2v1.6h-4.2zM363.1 135.8h2.9v1.6h-2.9zM368.3 135.8h1.6v1.6h-1.6zM370.9 135.8h2.9v1.6h-2.9zM376.1 135.8h1.6v1.6h-1.6zM380.1 135.8h1.6v1.6h-1.6z"/>
<path fill="#0099ff" d="M347.4 88.9h1.6v1.6h-1.6zM356.6 88.9h2.9v1.6h-2.9zM360.5 88.9h2.9v1.6h-2.9zM364.4 88.9h4.2v1.6h-4.2zM378.8 88.9h2.9v1.6h-2.9zM384.0 88.9h1.6v1.6h-1.6zM386.6 88.9h1.6v1.6h-1.6zM343.5 90.2h1.6v1.6h-1.6zM346.1 90.2h1.6v1.6h-1.6zM348.7 90.2h1.6v1.6h-1.6zM351.3 90.2h1.6v1.6h-1.6zM355.3 90.2h9.4v1.6h-9.4zM365.7 90.2h1.6v1.6h-1.6zM368.3 90.2h1.6v1.6h-1.6zM370.9 90.2h2.9v1.6h-2.9zM374.8 90.2h4.2v1.6h-4.2zM380.1 90.2h1.6v1.6h-1.6zM382.7 90.2h1.6v1.6h-1.6zM386.6 90.2h1.6v1.6h-1.6zM344.8 93.0h1.6v1.6h-1.6zM350.0 93.0h1.6v1.6h-1.6zM352.6 93.0h1.6v1.6h-1.6zM355.3 93.0h2.9v1.6h-2.9zM359.2 93.0h8.1v1.6h-8.1zM369.6 93.0h6.8v1.6h-6.8zM384.0 93.0h2.9v1.6h-2.9zM343.5 95.8h1.6v1.6h-1.6zM359.2 95.8h1.6v1.6h-1.6zM368.3 95.8h1.6v1.6h-1.6zM372.2 95.8h1.6v1.6h-1.6zM377.5 95.8h1.6v1.6h-1.6zM350.0 97.1h6.8v1.6h-6.8zM357.9 97.1h1.6v1.6h-1.6zM360.5 97.1h1.6v1.6h-1.6zM363.1 97.1h2.9v1.6h-2.9zM367.0 97.1h4.2v1.6h-4.2zM373.5 97.1h14.6v1.6h-14.6zM354.0 98.5h1.6v1.6h-1.6zM373.5 98.5h1.6v1.6h-1.6zM384.0 98.5h2.9v1.6h-2.9zM343.5 99.9h1.6v1.6h-1.6zM347.4 99.9h1.6v1.6h-1.6zM351.3 99.9h1.6v1.6h-1.6zM354.0 99.9h6.8v1.6h-6.8zM361.8 99.9h1.6v1.6h-1.6zM365.7 99.9h1.6v1.6h-1.6zM369.6 99.9h1.6v1.6h-1.6zM372.2 99.9h2.9v1.6h-2.9zM376.1 99.9h1.6v1.6h-1.6zM343.5 101.3h2.9v1.6h-2.9zM354.0 101.3h2.9v1.6h-2.9zM360.5 101.3h1.6v1.6h-1.6zM363.1 101.3h4.2v1.6h-4.2zM369.6 101.3h4.2v1.6h-4.2zM374.8 101.3h1.6v1.6h-1.6zM377.5 101.3h4.2v1.6h-4.2zM382.7 101.3h1.6v1.6h-1.6zM386.6 101.3h1.6v1.6h-1.6zM344.8 102.7h5.5v1.6h-5.5zM355.3 102.7h6.8v1.6h-6.8zM367.0 102.7h1.6v1.6h-1.6zM369.6 102.7h1.6v1.6h-1.6zM374.8 102.7h1.6v1.6h-1.6zM378.8 102.7h2.9v1.6h-2.9zM382.7 102.7h5.5v1.6h-5.5zM343.5 104.0h4.2v1.6h-4.2zM350.0 104.0h5.5v1.6h-5.5zM357.9 104.0h4.2v1.6h-4.2zM363.1 104.0h2.9v1.6h-2.9zM367.0 104.0h1.6v1.6h-1.6zM369.6 104.0h1.6v1.6h-1.6zM372.2 104.0h8.1v1.6h-8.1zM381.4 104.0h4.2v1.6h-4.2zM386.6 104.0h1.6v1.6h-1.6zM344.8 105.4h1.6v1.6h-1.6zM347.4 105.4h4.2v1.6h-4.2zM354.0 105.4h2.9v1.6h-2.9zM357.9 105.4h1.6v1.6h-1.6zM360.5 105.4h2.9v1.6h-2.9zM364.4 105.4h5.5v1.6h-5.5zM370.9 105.4h4.2v1.6h-4.2zM380.1 105.4h5.5v1.6h-5.5zM343.5 106.8h2.9v1.6h-2.9zM347.4 106.8h1.6v1.6h-1.6zM350.0 106.8h9.4v1.6h-9.4zM360.5 106.8h5.5v1.6h-5.5zM368.3 106.8h1.6v1.6h-1.6zM373.5 106.8h6.8v1.6h-6.8zM381.4 106.8h6.8v1.6h-6.8zM343.5 108.2h2.9v1.6h-2.9zM351.3 108.2h5.5v1.6h-5.5zM357.9 108.2h1.6v1.6h-1.6zM360.5 108.2h1.6v1.6h-1.6zM363.1 108.2h2.9v1.6h-2.9zM368.3 108.2h2.9v1.6h-2.9zM372.2 108.2h6.8v1.6h-6.8zM381.4 108.2h1.6v1.6h-1.6zM343.5 109.6h5.5v1.6h-5.5zM351.3 109.6h2.9v1.6h-2.9zM355.3 109.6h2.9v1.6h-2.9zM359.2 109.6h2.9v1.6h-2.9zM343.5 110.9h6.8v1.6h-6.8zM352.6 110.9h5.5v1.6h-5.5zM359.2 110.9h1.6v1.6h-1.6zM364.4 110.9h2.9v1.6h-2.9zM368.3 110.9h6.8v1.6h-6.8zM376.1 110.9h5.5v1.6h-5.5zM382.7 110.9h1.6v1.6h-1.6zM343.5 112.3h2.9v1.6h-2.9zM347.4 112.3h1.6v1.6h-1.6zM350.0 112.3h1.6v1.6h-1.6zM352.6 112.3h2.9v1.6h-2.9zM356.6 112.3h2.9v1.6h-2.9zM360.5 112.3h1.6v1.6h-1.6zM363.1 112.3h1.6v1.6h-1.6zM365.7 112.3h4.2v1.6h-4.2zM370.9 112.3h4.2v1.6h-4.2zM377.5 112.3h4.2v1.6h-4.2zM382.7 112.3h2.9v1.6h-2.9zM386.6 112.3h1.6v1.6h-1.6zM343.5 113.7h2.9v1.6h-2.9zM347.4 113.7h2.9v1.6h-2.9zM351.3 113.7h1.6v1.6h-1.6zM355.3 113.7h1.6v1.6h-1.6zM360.5 113.7h5.5v1.6h-5.5zM367.0 113.7h12.0v1.6h-12.0zM381.4 113.7h2.9v1.6h-2.9zM385.3 113.7h2.9v1.6h-2.9zM342.2 115.1h1.6v1.6h-1.6zM348.7 115.1h1.6v1.6h-1.6zM356.6 115.1h1.6v1.6h-1.6zM361.8 115.1h1.6v1.6h-1.6zM365.7 115.1h1.6v1.6h-1.6zM372.2 115.1h2.9v1.6h-2.9zM376.1 115.1h1.6v1.6h-1.6zM378.8 115.1h2.9v1.6h-2.9zM384.0 115.1h4.2v1.6h-4.2zM340.9 116.5h2.9v1.6h-2.9zM352.6 116.5h1.6v1.6h-1.6zM361.8 116.5h1.6v1.6h-1.6zM369.6 116.5h1.6v1.6h-1.6zM357.9 117.8h1.6v1.6h-1.6zM376.1 117.8h1.6v1.6h-1.6zM342.2 119.2h1.6v1.6h-1.6zM357.9 119.2h1.6v1.6h-1.6zM344.8 120.6h1.6v1.6h-1.6zM354.0 120.6h2.9v1.6h-2.9zM369.6 120.6h1.6v1.6h-1.6zM376.1 120.6h1.6v1.6h-1.6zM378.8 120.6h1.6v1.6h-1.6zM381.4 120.6h1.6v1.6h-1.6zM385.3 120.6h1.6v1.6h-1.6zM342.2 123.4h1.6v1.6h-1.6zM340.9 124.7h2.9v1.6h-2.9zM340.9 126.1h2.9v1.6h-2.9zM340.9 127.5h2.9v1.6h-2.9zM340.9 128.9h1.6v1.6h-1.6zM340.9 130.3h2.9v1.6h-2.9zM340.9 131.6h2.9v1.6h-2.9zM340.9 133.0h2.9v1.6h-2.9zM342.2 135.8h1.6v1.6h-1.6zM340.9 137.2h1.6v1.6h-1.6zM344.8 138.5h2.9v1.6h-2.9zM348.7 138.5h1.6v1.6h-1.6zM343.5 139.9h1.6v1.6h-1.6zM348.7 139.9h1.6v1.6h-1.6z"/>
<path fill="#00b2ff" d="M344.8 55.8h1.6v1.6h-1.6zM361.8 55.8h2.9v1.6h-2.9zM369.6 55.8h1.6v1.6h-1.6zM373.5 55.8h1.6v1.6h-1.6zM384.0 55.8h1.6v1.6h-1.6zM355.3 57.1h1.6v1.6h-1.6zM372.2 57.1h1.6v1.6h-1.6zM381.4 57.1h1.6v1.6h-1.6zM378.8 59.9h1.6v1.6h-1.6zM356.6 62.7h1.6v1.6h-1.6zM343.5 65.4h4.2v1.6h-4.2zM348.7 65.4h2.9v1.6h-2.9zM352.6 65.4h1.6v1.6h-1.6zM359.2 65.4h2.9v1.6h-2.9zM363.1 65.4h1.6v1.6h-1.6zM368.3 65.4h1.6v1.6h-1.6zM370.9 65.4h1.6v1.6h-1.6zM373.5 65.4h1.6v1.6h-1.6zM378.8 65.4h2.9v1.6h-2.9zM384.0 65.4h4.2v1.6h-4.2zM343.5 70.9h1.6v1.6h-1.6zM350.0 70.9h1.6v1.6h-1.6zM352.6 70.9h4.2v1.6h-4.2zM369.6 70.9h1.6v1.6h-1.6zM380.1 70.9h1.6v1.6h-1.6zM384.0 70.9h2.9v1.6h-2.9zM344.8 72.3h1.6v1.6h-1.6zM344.8 73.7h1.6v1.6h-1.6zM347.4 73.7h2.9v1.6h-2.9zM352.6 73.7h5.5v1.6h-5.5zM359.2 73.7h2.9v1.6h-2.9zM363.1 73.7h4.2v1.6h-4.2zM368.3 73.7h5.5v1.6h-5.5zM376.1 73.7h6.8v1.6h-6.8zM343.5 75.1h1.6v1.6h-1.6zM347.4 75.1h1.6v1.6h-1.6zM351.3 75.1h1.6v1.6h-1.6zM376.1 75.1h1.6v1.6h-1.6zM378.8 75.1h1.6v1.6h-1.6zM351.3 76.5h1.6v1.6h-1.6zM363.1 76.5h1.6v1.6h-1.6zM344.8 77.8h1.6v1.6h-1.6zM347.4 77.8h1.6v1.6h-1.6zM354.0 77.8h2.9v1.6h-2.9zM360.5 77.8h8.1v1.6h-8.1zM372.2 77.8h1.6v1.6h-1.6zM376.1 77.8h4.2v1.6h-4.2zM384.0 77.8h2.9v1.6h-2.9zM344.8 79.2h1.6v1.6h-1.6zM348.7 79.2h1.6v1.6h-1.6zM355.3 79.2h1.6v1.6h-1.6zM357.9 79.2h1.6v1.6h-1.6zM365.7 79.2h1.6v1.6h-1.6zM376.1 79.2h1.6v1.6h-1.6zM347.4 80.6h1.6v1.6h-1.6zM350.0 80.6h1.6v1.6h-1.6zM356.6 80.6h2.9v1.6h-2.9zM368.3 80.6h1.6v1.6h-1.6zM370.9 80.6h4.2v1.6h-4.2zM376.1 80.6h1.6v1.6h-1.6zM380.1 80.6h1.6v1.6h-1.6zM384.0 80.6h2.9v1.6h-2.9zM343.5 82.0h2.9v1.6h-2.9zM347.4 82.0h2.9v1.6h-2.9zM356.6 82.0h2.9v1.6h-2.9zM367.0 82.0h1.6v1.6h-1.6zM370.9 82.0h1.6v1.6h-1.6zM373.5 82.0h1.6v1.6h-1.6zM380.1 82.0h2.9v1.6h-2.9zM385.3 82.0h1.6v1.6h-1.6zM343.5 83.3h2.9v1.6h-2.9zM352.6 83.3h1.6v1.6h-1.6zM370.9 83.3h1.6v1.6h-1.6zM384.0 83.3h1.6v1.6h-1.6zM343.5 84.7h5.5v1.6h-5.5zM351.3 84.7h2.9v1.6h-2.9zM359.2 84.7h1.6v1.6h-1.6zM361.8 84.7h1.6v1.6h-1.6zM367.0 84.7h1.6v1.6h-1.6zM370.9 84.7h2.9v1.6h-2.9zM381.4 84.7h2.9v1.6h-2.9zM385.3 84.7h1.6v1.6h-1.6zM343.5 86.1h2.9v1.6h-2.9zM348.7 86.1h1.6v1.6h-1.6zM352.6 86.1h5.5v1.6h-5.5zM370.9 86.1h1.6v1.6h-1.6zM347.4 87.5h1.6v1.6h-1.6zM355.3 87.5h2.9v1.6h-2.9zM360.5 87.5h2.9v1.6h-2.9zM364.4 87.5h1.6v1.6h-1.6zM369.6 87.5h9.4v1.6h-9.4zM381.4 87.5h1.6v1.6h-1.6zM385.3 87.5h2.9v1.6h-2.9zM343.5 88.9h4.2v1.6h-4.2zM348.7 88.9h8.1v1.6h-8.1zM359.2 88.9h1.6v1.6h-1.6zM363.1 88.9h1.6v1.6h-1.6zM368.3 88.9h10.7v1.6h-10.7zM381.4 88.9h2.9v1.6h-2.9zM385.3 88.9h1.6v1.6h-1.6zM344.8 90.2h1.6v1.6h-1.6zM347.4 90.2h1.6v1.6h-1.6zM350.0 90.2h1.6v1.6h-1.6zM352.6 90.2h2.9v1.6h-2.9zM364.4 90.2h1.6v1.6h-1.6zM367.0 90.2h1.6v1.6h-1.6zM369.6 90.2h1.6v1.6h-1.6zM373.5 90.2h1.6v1.6h-1.6zM378.8 90.2h1.6v1.6h-1.6zM381.4 90.2h1.6v1.6h-1.6zM384.0 90.2h2.9v1.6h-2.9zM347.4 91.6h1.6v1.6h-1.6zM350.0 91.6h2.9v1.6h-2.9zM357.9 91.6h1.6v1.6h-1.6zM361.8 91.6h4.2v1.6h-4.2zM368.3 91.6h1.6v1.6h-1.6zM376.1 91.6h2.9v1.6h-2.9zM342.2 93.0h1.6v1.6h-1.6zM346.1 93.0h4.2v1.6h-4.2zM351.3 93.0h1.6v1.6h-1.6zM357.9 93.0h1.6v1.6h-1.6zM367.0 93.0h2.9v1.6h-2.9zM376.1 93.0h8.1v1.6h-8.1zM386.6 93.0h1.6v1.6h-1.6zM343.5 94.4h1.6v1.6h-1.6zM346.1 94.4h4.2v1.6h-4.2zM354.0 94.4h1.6v1.6h-1.6zM356.6 94.4h5.5v1.6h-5.5zM363.1 94.4h4.2v1.6h-4.2zM368.3 94.4h1.6v1.6h-1.6zM374.8 94.4h1.6v1.6h-1.6zM377.5 94.4h2.9v1.6h-2.9zM382.7 94.4h2.9v1.6h-2.9zM344.8 95.8h4.2v1.6h-4.2zM350.0 95.8h8.1v1.6h-8.1zM360.5 95.8h4.2v1.6h-4.2zM365.7 95.8h2.9v1.6h-2.9zM369.6 95.8h2.9v1.6h-2.9zM373.5 95.8h1.6v1.6h-1.6zM376.1 95.8h1.6v1.6h-1.6zM378.8 95.8h1.6v1.6h-1.6zM382.7 95.8h5.5v1.6h-5.5zM343.5 97.1h5.5v1.6h-5.5zM365.7 97.1h1.6v1.6h-1.6zM370.9 97.1h1.6v1.6h-1.6zM343.5 98.5h4.2v1.6h-4.2zM350.0 98.5h4.2v1.6h-4.2zM357.9 98.5h1.6v1.6h-1.6zM363.1 98.5h1.6v1.6h-1.6zM365.7 98.5h5.5v1.6h-5.5zM372.2 98.5h1.6v1.6h-1.6zM374.8 98.5h4.2v1.6h-4.2zM380.1 98.5h1.6v1.6h-1.6zM382.7 98.5h1.6v1.6h-1.6zM386.6 98.5h1.6v1.6h-1.6zM344.8 99.9h2.9v1.6h-2.9zM348.7 99.9h2.9v1.6h-2.9zM352.6 99.9h1.6v1.6h-1.6zM360.5 99.9h1.6v1.6h-1.6zM363.1 99.9h2.9v1.6h-2.9zM367.0 99.9h2.9v1.6h-2.9zM370.9 99.9h1.6v1.6h-1.6zM374.8 99.9h1.6v1.6h-1.6zM377.5 99.9h10.7v1.6h-10.7zM342.2 101.3h1.6v1.6h-1.6zM357.9 101.3h1.6v1.6h-1.6zM342.2 102.7h1.6v1.6h-1.6zM350.0 102.7h4.2v1.6h-4.2zM365.7 102.7h1.6v1.6h-1.6zM368.3 102.7h1.6v1.6h-1.6zM370.9 102.7h1.6v1.6h-1.6zM373.5 102.7h1.6v1.6h-1.6zM376.1 102.7h2.9v1.6h-2.9zM348.7 104.0h1.6v1.6h-1.6zM355.3 104.0h2.9v1.6h-2.9zM361.8 104.0h1.6v1.6h-1.6zM365.7 104.0h1.6v1.6h-1.6zM368.3 104.0h1.6v1.6h-1.6zM370.9 104.0h1.6v1.6h-1.6zM380.1 104.0h1.6v1.6h-1.6zM385.3 104.0h1.6v1.6h-1.6zM340.9 105.4h1.6v1.6h-1.6zM346.1 105.4h1.6v1.6h-1.6zM351.3 105.4h1.6v1.6h-1.6zM359.2 105.4h1.6v1.6h-1.6zM363.1 105.4h1.6v1.6h-1.6zM369.6 105.4h1.6v1.6h-1.6zM374.8 105.4h5.5v1.6h-5.5zM386.6 105.4h1.6v1.6h-1.6zM348.7 106.8h1.6v1.6h-1.6zM359.2 106.8h1.6v1.6h-1.6zM365.7 106.8h1.6v1.6h-1.6zM369.6 106.8h4.2v1.6h-4.2zM346.1 108.2h5.5v1.6h-5.5zM356.6 108.2h1.6v1.6h-1.6zM359.2 108.2h1.6v1.6h-1.6zM361.8 108.2h1.6v1.6h-1.6zM365.7 108.2h2.9v1.6h-2.9zM370.9 108.2h1.6v1.6h-1.6zM378.8 108.2h2.9v1.6h-2.9zM342.2 109.6h1.6v1.6h-1.6zM340.9 110.9h1.6v1.6h-1.6zM351.3 110.9h1.6v1.6h-1.6zM360.5 110.9h4.2v1.6h-4.2zM367.0 110.9h1.6v1.6h-1.6zM374.8 110.9h1.6v1.6h-1.6zM381.4 110.9h1.6v1.6h-1.6zM386.6 110.9h1.6v1.6h-1.6zM346.1 112.3h1.6v1.6h-1.6zM348.7 112.3h1.6v1.6h-1.6zM351.3 112.3h1.6v1.6h-1.6zM355.3 112.3h1.6v1.6h-1.6zM359.2 112.3h1.6v1.6h-1.6zM361.8 112.3h1.6v1.6h-1.6zM364.4 112.3h1.6v1.6h-1.6zM369.6 112.3h1.6v1.6h-1.6zM374.8 112.3h2.9v1.6h-2.9zM381.4 112.3h1.6v1.6h-1.6zM385.3 112.3h1.6v1.6h-1.6zM342.2 113.7h1.6v1.6h-1.6zM352.6 113.7h2.9v1.6h-2.9zM365.7 113.7h1.6v1.6h-1.6zM378.8 113.7h1.6v1.6h-1.6zM340.9 115.1h1.6v1.6h-1.6zM342.2 117.8h1.6v1.6h-1.6zM340.9 119.2h1.6v1.6h-1.6zM340.9 120.6h2.9v1.6h-2.9zM342.2 128.9h1.6v1.6h-1.6zM340.9 135.8h1.6v1.6h-1.6zM343.5 138.5h1.6v1.6h-1.6zM347.4 138.5h1.6v1.6h-1.6zM344.8 139.9h4.2v1.6h-4.2z"/>
<path fill="#00ccff" d="M347.4 25.4h1.6v1.6h-1.6zM344.8 29.5h2.9v1.6h-2.9zM386.6 29.5h1.6v1.6h-1.6zM343.5 30.9h1.6v1.6h-1.6zM346.1 30.9h1.6v1.6h-1.6zM348.7 30.9h1.6v1.6h-1.6zM351.3 30.9h1.6v1.6h-1.6zM354.0 30.9h1.6v1.6h-1.6zM385.3 30.9h2.9v1.6h-2.9zM346.1 32.3h1.6v1.6h-1.6zM343.5 33.7h2.9v1.6h-2.9zM347.4 33.7h1.6v1.6h-1.6zM351.3 33.7h1.6v1.6h-1.6zM354.0 33.7h1.6v1.6h-1.6zM363.1 33.7h1.6v1.6h-1.6zM373.5 33.7h1.6v1.6h-1.6zM376.1 33.7h1.6v1.6h-1.6zM382.7 33.7h1.6v1.6h-1.6zM385.3 33.7h1.6v1.6h-1.6zM343.5 35.1h1.6v1.6h-1.6zM346.1 35.1h2.9v1.6h-2.9zM350.0 35.1h1.6v1.6h-1.6zM352.6 35.1h2.9v1.6h-2.9zM356.6 35.1h1.6v1.6h-1.6zM359.2 35.1h4.2v1.6h-4.2zM364.4 35.1h1.6v1.6h-1.6zM369.6 35.1h6.8v1.6h-6.8zM377.5 35.1h2.9v1.6h-2.9zM381.4 35.1h1.6v1.6h-1.6zM385.3 35.1h1.6v1.6h-1.6zM354.0 39.2h1.6v1.6h-1.6zM363.1 39.2h1.6v1.6h-1.6zM370.9 39.2h1.6v1.6h-1.6zM376.1 39.2h1.6v1.6h-1.6zM380.1 39.2h1.6v1.6h-1.6zM382.7 39.2h1.6v1.6h-1.6zM385.3 39.2h1.6v1.6h-1.6zM344.8 40.6h1.6v1.6h-1.6zM350.0 40.6h1.6v1.6h-1.6zM361.8 40.6h1.6v1.6h-1.6zM369.6 40.6h1.6v1.6h-1.6zM372.2 40.6h1.6v1.6h-1.6zM382.7 40.6h1.6v1.6h-1.6zM386.6 40.6h1.6v1.6h-1.6zM344.8 47.5h1.6v1.6h-1.6zM347.4 47.5h1.6v1.6h-1.6zM351.3 47.5h2.9v1.6h-2.9zM355.3 47.5h1.6v1.6h-1.6zM360.5 47.5h1.6v1.6h-1.6zM363.1 47.5h5.5v1.6h-5.5zM369.6 47.5h1.6v1.6h-1.6zM372.2 47.5h1.6v1.6h-1.6zM374.8 47.5h4.2v1.6h-4.2zM382.7 47.5h4.2v1.6h-4.2zM354.0 48.9h1.6v1.6h-1.6zM361.8 48.9h1.6v1.6h-1.6zM364.4 48.9h1.6v1.6h-1.6zM368.3 48.9h4.2v1.6h-4.2zM373.5 48.9h2.9v1.6h-2.9zM377.5 48.9h1.6v1.6h-1.6zM381.4 48.9h2.9v1.6h-2.9zM385.3 48.9h2.9v1.6h-2.9zM344.8 50.2h1.6v1.6h-1.6zM356.6 50.2h4.2v1.6h-4.2zM361.8 50.2h1.6v1.6h-1.6zM364.4 50.2h2.9v1.6h-2.9zM372.2 50.2h1.6v1.6h-1.6zM376.1 50.2h5.5v1.6h-5.5zM382.7 50.2h5.5v1.6h-5.5zM346.1 51.6h1.6v1.6h-1.6zM348.7 51.6h1.6v1.6h-1.6zM348.7 53.0h1.6v1.6h-1.6zM359.2 53.0h1.6v1.6h-1.6zM363.1 53.0h1.6v1.6h-1.6zM369.6 53.0h1.6v1.6h-1.6zM376.1 53.0h1.6v1.6h-1.6zM378.8 53.0h1.6v1.6h-1.6zM382.7 53.0h1.6v1.6h-1.6zM386.6 53.0h1.6v1.6h-1.6zM367.0 54.4h1.6v1.6h-1.6zM370.9 54.4h1.6v1.6h-1.6zM343.5 55.8h1.6v1.6h-1.6zM347.4 55.8h4.2v1.6h-4.2zM352.6 55.8h1.6v1.6h-1.6zM355.3 55.8h1.6v1.6h-1.6zM357.9 55.8h2.9v1.6h-2.9zM364.4 55.8h5.5v1.6h-5.5zM370.9 55.8h1.6v1.6h-1.6zM374.8 55.8h2.9v1.6h-2.9zM378.8 55.8h2.9v1.6h-2.9zM382.7 55.8h1.6v1.6h-1.6zM385.3 55.8h2.9v1.6h-2.9zM343.5 57.1h4.2v1.6h-4.2zM348.7 57.1h6.8v1.6h-6.8zM356.6 57.1h9.4v1.6h-9.4zM368.3 57.1h1.6v1.6h-1.6zM376.1 57.1h5.5v1.6h-5.5zM382.7 57.1h5.5v1.6h-5.5zM346.1 59.9h6.8v1.6h-6.8zM354.0 59.9h1.6v1.6h-1.6zM357.9 59.9h1.6v1.6h-1.6zM360.5 59.9h2.9v1.6h-2.9zM364.4 59.9h1.6v1.6h-1.6zM367.0 59.9h1.6v1.6h-1.6zM369.6 59.9h9.4v1.6h-9.4zM380.1 59.9h8.1v1.6h-8.1zM344.8 61.3h1.6v1.6h-1.6zM348.7 61.3h1.6v1.6h-1.6zM351.3 61.3h2.9v1.6h-2.9zM356.6 61.3h4.2v1.6h-4.2zM361.8 61.3h1.6v1.6h-1.6zM370.9 61.3h1.6v1.6h-1.6zM377.5 61.3h1.6v1.6h-1.6zM380.1 61.3h1.6v1.6h-1.6zM385.3 61.3h1.6v1.6h-1.6zM343.5 62.7h1.6v1.6h-1.6zM346.1 62.7h8.1v1.6h-8.1zM357.9 62.7h5.5v1.6h-5.5zM365.7 62.7h2.9v1.6h-2.9zM369.6 62.7h1.6v1.6h-1.6zM373.5 62.7h4.2v1.6h-4.2zM378.8 62.7h5.5v1.6h-5.5zM385.3 62.7h2.9v1.6h-2.9zM343.5 64.0h4.2v1.6h-4.2zM351.3 64.0h1.6v1.6h-1.6zM354.0 64.0h4.2v1.6h-4.2zM372.2 64.0h1.6v1.6h-1.6zM374.8 64.0h1.6v1.6h-1.6zM377.5 64.0h4.2v1.6h-4.2zM382.7 64.0h4.2v1.6h-4.2zM347.4 65.4h1.6v1.6h-1.6zM351.3 65.4h1.6v1.6h-1.6zM354.0 65.4h5.5v1.6h-5.5zM361.8 65.4h1.6v1.6h-1.6zM364.4 65.4h4.2v1.6h-4.2zM369.6 65.4h1.6v1.6h-1.6zM372.2 65.4h1.6v1.6h-1.6zM374.8 65.4h4.2v1.6h-4.2zM381.4 65.4h2.9v1.6h-2.9zM344.8 66.8h1.6v1.6h-1.6zM356.6 66.8h1.6v1.6h-1.6zM359.2 66.8h1.6v1.6h-1.6zM365.7 66.8h1.6v1.6h-1.6zM370.9 66.8h1.6v1.6h-1.6zM343.5 68.2h2.9v1.6h-2.9zM351.3 68.2h1.6v1.6h-1.6zM354.0 68.2h1.6v1.6h-1.6zM356.6 68.2h1.6v1.6h-1.6zM360.5 68.2h1.6v1.6h-1.6zM370.9 68.2h1.6v1.6h-1.6zM373.5 68.2h1.6v1.6h-1.6zM377.5 68.2h1.6v1.6h-1.6zM384.0 68.2h1.6v1.6h-1.6zM343.5 69.6h9.4v1.6h-9.4zM355.3 69.6h1.6v1.6h-1.6zM363.1 69.6h1.6v1.6h-1.6zM372.2 69.6h2.9v1.6h-2.9zM378.8 69.6h5.5v1.6h-5.5zM344.8 70.9h5.5v1.6h-5.5zM351.3 70.9h1.6v1.6h-1.6zM356.6 70.9h4.2v1.6h-4.2zM361.8 70.9h8.1v1.6h-8.1zM370.9 70.9h9.4v1.6h-9.4zM381.4 70.9h2.9v1.6h-2.9zM386.6 70.9h1.6v1.6h-1.6zM346.1 72.3h1.6v1.6h-1.6zM351.3 72.3h17.2v1.6h-17.2zM369.6 72.3h5.5v1.6h-5.5zM376.1 72.3h2.9v1.6h-2.9zM380.1 72.3h6.8v1.6h-6.8zM343.5 73.7h1.6v1.6h-1.6zM346.1 73.7h1.6v1.6h-1.6zM350.0 73.7h2.9v1.6h-2.9zM357.9 73.7h1.6v1.6h-1.6zM361.8 73.7h1.6v1.6h-1.6zM367.0 73.7h1.6v1.6h-1.6zM373.5 73.7h2.9v1.6h-2.9zM348.7 75.1h1.6v1.6h-1.6zM352.6 75.1h1.6v1.6h-1.6zM355.3 75.1h4.2v1.6h-4.2zM361.8 75.1h5.5v1.6h-5.5zM370.9 75.1h1.6v1.6h-1.6zM374.8 75.1h1.6v1.6h-1.6zM380.1 75.1h2.9v1.6h-2.9zM384.0 75.1h4.2v1.6h-4.2zM344.8 76.5h6.8v1.6h-6.8zM352.6 76.5h1.6v1.6h-1.6zM355.3 76.5h2.9v1.6h-2.9zM360.5 76.5h2.9v1.6h-2.9zM367.0 76.5h6.8v1.6h-6.8zM374.8 76.5h5.5v1.6h-5.5zM381.4 76.5h1.6v1.6h-1.6zM384.0 76.5h4.2v1.6h-4.2zM343.5 77.8h1.6v1.6h-1.6zM346.1 77.8h1.6v1.6h-1.6zM348.7 77.8h5.5v1.6h-5.5zM356.6 77.8h4.2v1.6h-4.2zM368.3 77.8h4.2v1.6h-4.2zM373.5 77.8h2.9v1.6h-2.9zM380.1 77.8h4.2v1.6h-4.2zM386.6 77.8h1.6v1.6h-1.6zM343.5 79.2h1.6v1.6h-1.6zM346.1 79.2h1.6v1.6h-1.6zM351.3 79.2h4.2v1.6h-4.2zM356.6 79.2h1.6v1.6h-1.6zM359.2 79.2h6.8v1.6h-6.8zM367.0 79.2h9.4v1.6h-9.4zM378.8 79.2h8.1v1.6h-8.1zM343.5 80.6h4.2v1.6h-4.2zM348.7 80.6h1.6v1.6h-1.6zM351.3 80.6h5.5v1.6h-5.5zM359.2 80.6h9.4v1.6h-9.4zM369.6 80.6h1.6v1.6h-1.6zM374.8 80.6h1.6v1.6h-1.6zM377.5 80.6h2.9v1.6h-2.9zM381.4 80.6h2.9v1.6h-2.9zM386.6 80.6h1.6v1.6h-1.6zM346.1 82.0h1.6v1.6h-1.6zM350.0 82.0h6.8v1.6h-6.8zM359.2 82.0h8.1v1.6h-8.1zM368.3 82.0h1.6v1.6h-1.6zM372.2 82.0h1.6v1.6h-1.6zM374.8 82.0h5.5v1.6h-5.5zM382.7 82.0h2.9v1.6h-2.9zM386.6 82.0h1.6v1.6h-1.6zM346.1 83.3h6.8v1.6h-6.8zM354.0 83.3h1.6v1.6h-1.6zM356.6 83.3h2.9v1.6h-2.9zM360.5 83.3h2.9v1.6h-2.9zM364.4 83.3h4.2v1.6h-4.2zM372.2 83.3h1.6v1.6h-1.6zM374.8 83.3h9.4v1.6h-9.4zM385.3 83.3h2.9v1.6h-2.9zM348.7 84.7h2.9v1.6h-2.9zM354.0 84.7h5.5v1.6h-5.5zM360.5 84.7h1.6v1.6h-1.6zM363.1 84.7h4.2v1.6h-4.2zM368.3 84.7h2.9v1.6h-2.9zM373.5 84.7h8.1v1.6h-8.1zM384.0 84.7h1.6v1.6h-1.6zM386.6 84.7h1.6v1.6h-1.6zM346.1 86.1h2.9v1.6h-2.9zM350.0 86.1h2.9v1.6h-2.9zM357.9 86.1h5.5v1.6h-5.5zM365.7 86.1h1.6v1.6h-1.6zM369.6 86.1h1.6v1.6h-1.6zM372.2 86.1h5.5v1.6h-5.5zM378.8 86.1h9.4v1.6h-9.4zM343.5 87.5h4.2v1.6h-4.2zM348.7 87.5h4.2v1.6h-4.2zM354.0 87.5h1.6v1.6h-1.6zM357.9 87.5h2.9v1.6h-2.9zM363.1 87.5h1.6v1.6h-1.6zM365.7 87.5h4.2v1.6h-4.2zM378.8 87.5h2.9v1.6h-2.9zM382.7 87.5h2.9v1.6h-2.9zM340.9 88.9h1.6v1.6h-1.6zM340.9 90.2h1.6v1.6h-1.6zM343.5 91.6h4.2v1.6h-4.2zM348.7 91.6h1.6v1.6h-1.6zM352.6 91.6h5.5v1.6h-5.5zM359.2 91.6h2.9v1.6h-2.9zM365.7 91.6h2.9v1.6h-2.9zM369.6 91.6h6.8v1.6h-6.8zM378.8 91.6h2.9v1.6h-2.9zM382.7 91.6h5.5v1.6h-5.5zM340.9 93.0h1.6v1.6h-1.6zM344.8 94.4h1.6v1.6h-1.6zM350.0 94.4h4.2v1.6h-4.2zM355.3 94.4h1.6v1.6h-1.6zM361.8 94.4h1.6v1.6h-1.6zM367.0 94.4h1.6v1.6h-1.6zM369.6 94.4h5.5v1.6h-5.5zM376.1 94.4h1.6v1.6h-1.6zM380.1 94.4h2.9v1.6h-2.9zM385.3 94.4h2.9v1.6h-2.9zM340.9 95.8h2.9v1.6h-2.9zM348.7 95.8h1.6v1.6h-1.6zM357.9 95.8h1.6v1.6h-1.6zM364.4 95.8h1.6v1.6h-1.6zM374.8 95.8h1.6v1.6h-1.6zM380.1 95.8h2.9v1.6h-2.9zM340.9 97.1h2.9v1.6h-2.9zM342.2 98.5h1.6v1.6h-1.6zM347.4 98.5h2.9v1.6h-2.9zM355.3 98.5h2.9v1.6h-2.9zM359.2 98.5h4.2v1.6h-4.2zM364.4 98.5h1.6v1.6h-1.6zM370.9 98.5h1.6v1.6h-1.6zM378.8 98.5h1.6v1.6h-1.6zM381.4 98.5h1.6v1.6h-1.6zM342.2 99.9h1.6v1.6h-1.6zM340.9 101.3h1.6v1.6h-1.6zM340.9 102.7h1.6v1.6h-1.6zM340.9 104.0h2.9v1.6h-2.9zM342.2 105.4h1.6v1.6h-1.6zM340.9 106.8h2.9v1.6h-2.9zM342.2 108.2h1.6v1.6h-1.6zM340.9 109.6h1.6v1.6h-1.6zM342.2 110.9h1.6v1.6h-1.6zM340.9 112.3h2.9v1.6h-2.9zM340.9 113.7h1.6v1.6h-1.6zM340.9 117.8h1.6v1.6h-1.6zM340.9 139.9h1.6v1.6h-1.6z"/>
<path fill="#00e5ff" d="M343.5 25.4h1.6v1.6h-1.6zM346.1 25.4h1.6v1.6h-1.6zM350.0 25.4h1.6v1.6h-1.6zM354.0 25.4h1.6v1.6h-1.6zM348.7 26.8h4.2v1.6h-4.2zM385.3 26.8h1.6v1.6h-1.6zM344.8 28.2h2.9v1.6h-2.9zM348.7 28.2h1.6v1.6h-1.6zM351.3 28.2h4.2v1.6h-4.2zM385.3 28.2h1.6v1.6h-1.6zM343.5 29.5h1.6v1.6h-1.6zM350.0 29.5h4.2v1.6h-4.2zM385.3 29.5h1.6v1.6h-1.6zM344.8 30.9h1.6v1.6h-1.6zM347.4 30.9h1.6v1.6h-1.6zM350.0 30.9h1.6v1.6h-1.6zM352.6 30.9h1.6v1.6h-1.6zM343.5 32.3h1.6v1.6h-1.6zM350.0 32.3h1.6v1.6h-1.6zM352.6 32.3h5.5v1.6h-5.5zM359.2 32.3h6.8v1.6h-6.8zM367.0 32.3h8.1v1.6h-8.1zM377.5 32.3h1.6v1.6h-1.6zM380.1 32.3h1.6v1.6h-1.6zM382.7 32.3h5.5v1.6h-5.5zM350.0 33.7h1.6v1.6h-1.6zM352.6 33.7h1.6v1.6h-1.6zM355.3 33.7h8.1v1.6h-8.1zM364.4 33.7h1.6v1.6h-1.6zM367.0 33.7h2.9v1.6h-2.9zM370.9 33.7h2.9v1.6h-2.9zM374.8 33.7h1.6v1.6h-1.6zM377.5 33.7h5.5v1.6h-5.5zM384.0 33.7h1.6v1.6h-1.6zM386.6 33.7h1.6v1.6h-1.6zM344.8 35.1h1.6v1.6h-1.6zM348.7 35.1h1.6v1.6h-1.6zM351.3 35.1h1.6v1.6h-1.6zM355.3 35.1h1.6v1.6h-1.6zM357.9 35.1h1.6v1.6h-1.6zM363.1 35.1h1.6v1.6h-1.6zM365.7 35.1h4.2v1.6h-4.2zM376.1 35.1h1.6v1.6h-1.6zM380.1 35.1h1.6v1.6h-1.6zM382.7 35.1h2.9v1.6h-2.9zM386.6 35.1h1.6v1.6h-1.6zM343.5 36.4h1.6v1.6h-1.6zM347.4 36.4h1.6v1.6h-1.6zM350.0 36.4h1.6v1.6h-1.6zM352.6 36.4h9.4v1.6h-9.4zM363.1 36.4h2.9v1.6h-2.9zM367.0 36.4h6.8v1.6h-6.8zM374.8 36.4h1.6v1.6h-1.6zM377.5 36.4h6.8v1.6h-6.8zM385.3 36.4h1.6v1.6h-1.6zM344.8 37.8h1.6v1.6h-1.6zM347.4 37.8h1.6v1.6h-1.6zM350.0 37.8h1.6v1.6h-1.6zM352.6 37.8h1.6v1.6h-1.6zM356.6 37.8h1.6v1.6h-1.6zM368.3 37.8h1.6v1.6h-1.6zM373.5 37.8h1.6v1.6h-1.6zM377.5 37.8h1.6v1.6h-1.6zM384.0 37.8h1.6v1.6h-1.6zM386.6 37.8h1.6v1.6h-1.6zM343.5 39.2h8.1v1.6h-8.1zM352.6 39.2h1.6v1.6h-1.6zM355.3 39.2h1.6v1.6h-1.6zM357.9 39.2h5.5v1.6h-5.5zM364.4 39.2h6.8v1.6h-6.8zM372.2 39.2h4.2v1.6h-4.2zM377.5 39.2h2.9v1.6h-2.9zM381.4 39.2h1.6v1.6h-1.6zM384.0 39.2h1.6v1.6h-1.6zM386.6 39.2h1.6v1.6h-1.6zM343.5 40.6h1.6v1.6h-1.6zM346.1 40.6h2.9v1.6h-2.9zM351.3 40.6h2.9v1.6h-2.9zM355.3 40.6h1.6v1.6h-1.6zM357.9 40.6h2.9v1.6h-2.9zM363.1 40.6h5.5v1.6h-5.5zM373.5 40.6h8.1v1.6h-8.1zM385.3 40.6h1.6v1.6h-1.6zM343.5 42.0h4.2v1.6h-4.2zM352.6 42.0h1.6v1.6h-1.6zM355.3 42.0h1.6v1.6h-1.6zM360.5 42.0h4.2v1.6h-4.2zM365.7 42.0h2.9v1.6h-2.9zM369.6 42.0h1.6v1.6h-1.6zM376.1 42.0h1.6v1.6h-1.6zM380.1 42.0h6.8v1.6h-6.8zM346.1 43.3h2.9v1.6h-2.9zM352.6 43.3h1.6v1.6h-1.6zM359.2 43.3h1.6v1.6h-1.6zM363.1 43.3h2.9v1.6h-2.9zM369.6 43.3h2.9v1.6h-2.9zM373.5 43.3h2.9v1.6h-2.9zM377.5 43.3h2.9v1.6h-2.9zM384.0 43.3h1.6v1.6h-1.6zM343.5 44.7h1.6v1.6h-1.6zM347.4 44.7h1.6v1.6h-1.6zM352.6 44.7h1.6v1.6h-1.6zM356.6 44.7h1.6v1.6h-1.6zM360.5 44.7h1.6v1.6h-1.6zM365.7 44.7h1.6v1.6h-1.6zM370.9 44.7h2.9v1.6h-2.9zM376.1 44.7h1.6v1.6h-1.6zM380.1 44.7h1.6v1.6h-1.6zM382.7 44.7h4.2v1.6h-4.2zM343.5 46.1h4.2v1.6h-4.2zM351.3 46.1h1.6v1.6h-1.6zM354.0 46.1h2.9v1.6h-2.9zM357.9 46.1h2.9v1.6h-2.9zM361.8 46.1h2.9v1.6h-2.9zM367.0 46.1h6.8v1.6h-6.8zM374.8 46.1h4.2v1.6h-4.2zM380.1 46.1h2.9v1.6h-2.9zM384.0 46.1h4.2v1.6h-4.2zM343.5 47.5h1.6v1.6h-1.6zM346.1 47.5h1.6v1.6h-1.6zM348.7 47.5h2.9v1.6h-2.9zM354.0 47.5h1.6v1.6h-1.6zM356.6 47.5h2.9v1.6h-2.9zM361.8 47.5h1.6v1.6h-1.6zM368.3 47.5h1.6v1.6h-1.6zM370.9 47.5h1.6v1.6h-1.6zM373.5 47.5h1.6v1.6h-1.6zM378.8 47.5h4.2v1.6h-4.2zM386.6 47.5h1.6v1.6h-1.6zM343.5 48.9h10.7v1.6h-10.7zM355.3 48.9h6.8v1.6h-6.8zM363.1 48.9h1.6v1.6h-1.6zM365.7 48.9h2.9v1.6h-2.9zM372.2 48.9h1.6v1.6h-1.6zM376.1 48.9h1.6v1.6h-1.6zM378.8 48.9h2.9v1.6h-2.9zM384.0 48.9h1.6v1.6h-1.6zM343.5 50.2h1.6v1.6h-1.6zM346.1 50.2h10.7v1.6h-10.7zM360.5 50.2h1.6v1.6h-1.6zM363.1 50.2h1.6v1.6h-1.6zM367.0 50.2h5.5v1.6h-5.5zM373.5 50.2h2.9v1.6h-2.9zM381.4 50.2h1.6v1.6h-1.6zM343.5 51.6h1.6v1.6h-1.6zM347.4 51.6h1.6v1.6h-1.6zM350.0 51.6h1.6v1.6h-1.6zM354.0 51.6h1.6v1.6h-1.6zM356.6 51.6h1.6v1.6h-1.6zM359.2 51.6h1.6v1.6h-1.6zM361.8 51.6h5.5v1.6h-5.5zM368.3 51.6h4.2v1.6h-4.2zM374.8 51.6h2.9v1.6h-2.9zM378.8 51.6h9.4v1.6h-9.4zM343.5 53.0h2.9v1.6h-2.9zM350.0 53.0h4.2v1.6h-4.2zM355.3 53.0h1.6v1.6h-1.6zM357.9 53.0h1.6v1.6h-1.6zM360.5 53.0h2.9v1.6h-2.9zM364.4 53.0h5.5v1.6h-5.5zM370.9 53.0h2.9v1.6h-2.9zM374.8 53.0h1.6v1.6h-1.6zM377.5 53.0h1.6v1.6h-1.6zM381.4 53.0h1.6v1.6h-1.6zM385.3 53.0h1.6v1.6h-1.6zM344.8 54.4h1.6v1.6h-1.6zM348.7 54.4h4.2v1.6h-4.2zM359.2 54.4h4.2v1.6h-4.2zM364.4 54.4h2.9v1.6h-2.9zM368.3 54.4h2.9v1.6h-2.9zM372.2 54.4h4.2v1.6h-4.2zM384.0 54.4h4.2v1.6h-4.2zM342.2 55.8h1.6v1.6h-1.6zM346.1 55.8h1.6v1.6h-1.6zM351.3 55.8h1.6v1.6h-1.6zM354.0 55.8h1.6v1.6h-1.6zM356.6 55.8h1.6v1.6h-1.6zM360.5 55.8h1.6v1.6h-1.6zM372.2 55.8h1.6v1.6h-1.6zM377.5 55.8h1.6v1.6h-1.6zM381.4 55.8h1.6v1.6h-1.6zM347.4 57.1h1.6v1.6h-1.6zM365.7 57.1h2.9v1.6h-2.9zM369.6 57.1h2.9v1.6h-2.9zM373.5 57.1h2.9v1.6h-2.9zM344.8 58.5h1.6v1.6h-1.6zM347.4 58.5h5.5v1.6h-5.5zM354.0 58.5h1.6v1.6h-1.6zM356.6 58.5h8.1v1.6h-8.1zM365.7 58.5h1.6v1.6h-1.6zM368.3 58.5h4.2v1.6h-4.2zM374.8 58.5h5.5v1.6h-5.5zM382.7 58.5h1.6v1.6h-1.6zM385.3 58.5h1.6v1.6h-1.6zM343.5 59.9h2.9v1.6h-2.9zM352.6 59.9h1.6v1.6h-1.6zM355.3 59.9h2.9v1.6h-2.9zM359.2 59.9h1.6v1.6h-1.6zM363.1 59.9h1.6v1.6h-1.6zM365.7 59.9h1.6v1.6h-1.6zM368.3 59.9h1.6v1.6h-1.6zM343.5 61.3h1.6v1.6h-1.6zM346.1 61.3h2.9v1.6h-2.9zM350.0 61.3h1.6v1.6h-1.6zM354.0 61.3h2.9v1.6h-2.9zM360.5 61.3h1.6v1.6h-1.6zM363.1 61.3h8.1v1.6h-8.1zM372.2 61.3h5.5v1.6h-5.5zM378.8 61.3h1.6v1.6h-1.6zM381.4 61.3h4.2v1.6h-4.2zM386.6 61.3h1.6v1.6h-1.6zM340.9 62.7h1.6v1.6h-1.6zM344.8 62.7h1.6v1.6h-1.6zM354.0 62.7h2.9v1.6h-2.9zM363.1 62.7h2.9v1.6h-2.9zM368.3 62.7h1.6v1.6h-1.6zM370.9 62.7h2.9v1.6h-2.9zM377.5 62.7h1.6v1.6h-1.6zM384.0 62.7h1.6v1.6h-1.6zM347.4 64.0h4.2v1.6h-4.2zM352.6 64.0h1.6v1.6h-1.6zM357.9 64.0h14.6v1.6h-14.6zM373.5 64.0h1.6v1.6h-1.6zM376.1 64.0h1.6v1.6h-1.6zM381.4 64.0h1.6v1.6h-1.6zM342.2 65.4h1.6v1.6h-1.6zM343.5 66.8h1.6v1.6h-1.6zM346.1 66.8h10.7v1.6h-10.7zM357.9 66.8h1.6v1.6h-1.6zM360.5 66.8h5.5v1.6h-5.5zM367.0 66.8h1.6v1.6h-1.6zM369.6 66.8h1.6v1.6h-1.6zM372.2 66.8h10.7v1.6h-10.7zM346.1 68.2h5.5v1.6h-5.5zM355.3 68.2h1.6v1.6h-1.6zM357.9 68.2h2.9v1.6h-2.9zM361.8 68.2h4.2v1.6h-4.2zM367.0 68.2h4.2v1.6h-4.2zM372.2 68.2h1.6v1.6h-1.6zM374.8 68.2h2.9v1.6h-2.9zM378.8 68.2h5.5v1.6h-5.5zM385.3 68.2h2.9v1.6h-2.9zM352.6 69.6h2.9v1.6h-2.9zM356.6 69.6h6.8v1.6h-6.8zM364.4 69.6h8.1v1.6h-8.1zM374.8 69.6h4.2v1.6h-4.2zM384.0 69.6h4.2v1.6h-4.2zM360.5 70.9h1.6v1.6h-1.6zM342.2 72.3h2.9v1.6h-2.9zM347.4 72.3h4.2v1.6h-4.2zM368.3 72.3h1.6v1.6h-1.6zM374.8 72.3h1.6v1.6h-1.6zM378.8 72.3h1.6v1.6h-1.6zM386.6 72.3h1.6v1.6h-1.6zM340.9 75.1h1.6v1.6h-1.6zM344.8 75.1h2.9v1.6h-2.9zM350.0 75.1h1.6v1.6h-1.6zM354.0 75.1h1.6v1.6h-1.6zM359.2 75.1h2.9v1.6h-2.9zM367.0 75.1h4.2v1.6h-4.2zM372.2 75.1h1.6v1.6h-1.6zM377.5 75.1h1.6v1.6h-1.6zM382.7 75.1h1.6v1.6h-1.6zM342.2 76.5h2.9v1.6h-2.9zM354.0 76.5h1.6v1.6h-1.6zM357.9 76.5h2.9v1.6h-2.9zM364.4 76.5h2.9v1.6h-2.9zM373.5 76.5h1.6v1.6h-1.6zM380.1 76.5h1.6v1.6h-1.6zM382.7 76.5h1.6v1.6h-1.6zM347.4 79.2h1.6v1.6h-1.6zM350.0 79.2h1.6v1.6h-1.6zM377.5 79.2h1.6v1.6h-1.6zM386.6 79.2h1.6v1.6h-1.6zM340.9 80.6h1.6v1.6h-1.6zM369.6 82.0h1.6v1.6h-1.6zM355.3 83.3h1.6v1.6h-1.6zM359.2 83.3h1.6v1.6h-1.6zM363.1 83.3h1.6v1.6h-1.6zM368.3 83.3h2.9v1.6h-2.9zM373.5 83.3h1.6v1.6h-1.6zM340.9 86.1h2.9v1.6h-2.9zM363.1 86.1h1.6v1.6h-1.6zM367.0 86.1h2.9v1.6h-2.9zM377.5 86.1h1.6v1.6h-1.6zM340.9 87.5h2.9v1.6h-2.9zM342.2 88.9h1.6v1.6h-1.6zM342.2 90.2h1.6v1.6h-1.6zM340.9 91.6h2.9v1.6h-2.9zM340.9 94.4h2.9v1.6h-2.9zM340.9 98.5h1.6v1.6h-1.6zM340.9 99.9h1.6v1.6h-1.6zM340.9 108.2h1.6v1.6h-1.6zM359.2 113.7h1.6v1.6h-1.6zM378.8 122.0h1.6v1.6h-1.6zM372.2 123.4h1.6v1.6h-1.6zM340.9 138.5h2.9v1.6h-2.9zM342.2 139.9h1.6v1.6h-1.6z"/>
<path fill="#00ffff" d="M344.8 25.4h1.6v1.6h-1.6zM348.7 25.4h1.6v1.6h-1.6zM351.3 25.4h2.9v1.6h-2.9zM357.9 25.4h1.6v1.6h-1.6zM360.5 25.4h1.6v1.6h-1.6zM368.3 25.4h1.6v1.6h-1.6zM385.3 25.4h2.9v1.6h-2.9zM343.5 26.8h5.5v1.6h-5.5zM352.6 26.8h2.9v1.6h-2.9zM386.6 26.8h1.6v1.6h-1.6zM342.2 28.2h2.9v1.6h-2.9zM347.4 28.2h1.6v1.6h-1.6zM350.0 28.2h1.6v1.6h-1.6zM369.6 28.2h1.6v1.6h-1.6zM386.6 28.2h1.6v1.6h-1.6zM342.2 29.5h1.6v1.6h-1.6zM347.4 29.5h2.9v1.6h-2.9zM354.0 29.5h1.6v1.6h-1.6zM356.6 29.5h1.6v1.6h-1.6zM359.2 29.5h1.6v1.6h-1.6zM367.0 29.5h2.9v1.6h-2.9zM355.3 30.9h1.6v1.6h-1.6zM357.9 30.9h4.2v1.6h-4.2zM363.1 30.9h6.8v1.6h-6.8zM382.7 30.9h2.9v1.6h-2.9zM340.9 32.3h1.6v1.6h-1.6zM344.8 32.3h1.6v1.6h-1.6zM347.4 32.3h2.9v1.6h-2.9zM351.3 32.3h1.6v1.6h-1.6zM357.9 32.3h1.6v1.6h-1.6zM365.7 32.3h1.6v1.6h-1.6zM374.8 32.3h2.9v1.6h-2.9zM378.8 32.3h1.6v1.6h-1.6zM342.2 33.7h1.6v1.6h-1.6zM346.1 33.7h1.6v1.6h-1.6zM348.7 33.7h1.6v1.6h-1.6zM365.7 33.7h1.6v1.6h-1.6zM369.6 33.7h1.6v1.6h-1.6zM340.9 35.1h2.9v1.6h-2.9zM344.8 36.4h2.9v1.6h-2.9zM348.7 36.4h1.6v1.6h-1.6zM351.3 36.4h1.6v1.6h-1.6zM361.8 36.4h1.6v1.6h-1.6zM365.7 36.4h1.6v1.6h-1.6zM373.5 36.4h1.6v1.6h-1.6zM376.1 36.4h1.6v1.6h-1.6zM384.0 36.4h1.6v1.6h-1.6zM386.6 36.4h1.6v1.6h-1.6zM343.5 37.8h1.6v1.6h-1.6zM346.1 37.8h1.6v1.6h-1.6zM348.7 37.8h1.6v1.6h-1.6zM351.3 37.8h1.6v1.6h-1.6zM354.0 37.8h2.9v1.6h-2.9zM357.9 37.8h10.7v1.6h-10.7zM369.6 37.8h4.2v1.6h-4.2zM374.8 37.8h2.9v1.6h-2.9zM378.8 37.8h5.5v1.6h-5.5zM385.3 37.8h1.6v1.6h-1.6zM342.2 39.2h1.6v1.6h-1.6zM351.3 39.2h1.6v1.6h-1.6zM356.6 39.2h1.6v1.6h-1.6zM348.7 40.6h1.6v1.6h-1.6zM354.0 40.6h1.6v1.6h-1.6zM356.6 40.6h1.6v1.6h-1.6zM360.5 40.6h1.6v1.6h-1.6zM368.3 40.6h1.6v1.6h-1.6zM370.9 40.6h1.6v1.6h-1.6zM381.4 40.6h1.6v1.6h-1.6zM384.0 40.6h1.6v1.6h-1.6zM347.4 42.0h5.5v1.6h-5.5zM354.0 42.0h1.6v1.6h-1.6zM356.6 42.0h4.2v1.6h-4.2zM364.4 42.0h1.6v1.6h-1.6zM368.3 42.0h1.6v1.6h-1.6zM370.9 42.0h5.5v1.6h-5.5zM377.5 42.0h2.9v1.6h-2.9zM386.6 42.0h1.6v1.6h-1.6zM343.5 43.3h2.9v1.6h-2.9zM348.7 43.3h4.2v1.6h-4.2zM354.0 43.3h5.5v1.6h-5.5zM360.5 43.3h2.9v1.6h-2.9zM365.7 43.3h4.2v1.6h-4.2zM372.2 43.3h1.6v1.6h-1.6zM376.1 43.3h1.6v1.6h-1.6zM380.1 43.3h4.2v1.6h-4.2zM385.3 43.3h2.9v1.6h-2.9zM344.8 44.7h2.9v1.6h-2.9zM348.7 44.7h4.2v1.6h-4.2zM354.0 44.7h2.9v1.6h-2.9zM357.9 44.7h2.9v1.6h-2.9zM361.8 44.7h4.2v1.6h-4.2zM367.0 44.7h4.2v1.6h-4.2zM373.5 44.7h2.9v1.6h-2.9zM377.5 44.7h2.9v1.6h-2.9zM381.4 44.7h1.6v1.6h-1.6zM386.6 44.7h1.6v1.6h-1.6zM347.4 46.1h4.2v1.6h-4.2zM352.6 46.1h1.6v1.6h-1.6zM356.6 46.1h1.6v1.6h-1.6zM360.5 46.1h1.6v1.6h-1.6zM364.4 46.1h2.9v1.6h-2.9zM373.5 46.1h1.6v1.6h-1.6zM378.8 46.1h1.6v1.6h-1.6zM382.7 46.1h1.6v1.6h-1.6zM342.2 47.5h1.6v1.6h-1.6zM340.9 48.9h2.9v1.6h-2.9zM340.9 50.2h2.9v1.6h-2.9zM340.9 51.6h1.6v1.6h-1.6zM344.8 51.6h1.6v1.6h-1.6zM351.3 51.6h2.9v1.6h-2.9zM355.3 51.6h1.6v1.6h-1.6zM357.9 51.6h1.6v1.6h-1.6zM360.5 51.6h1.6v1.6h-1.6zM372.2 51.6h2.9v1.6h-2.9zM377.5 51.6h1.6v1.6h-1.6zM346.1 53.0h2.9v1.6h-2.9zM354.0 53.0h1.6v1.6h-1.6zM356.6 53.0h1.6v1.6h-1.6zM373.5 53.0h1.6v1.6h-1.6zM380.1 53.0h1.6v1.6h-1.6zM384.0 53.0h1.6v1.6h-1.6zM343.5 54.4h1.6v1.6h-1.6zM346.1 54.4h1.6v1.6h-1.6zM352.6 54.4h6.8v1.6h-6.8zM363.1 54.4h1.6v1.6h-1.6zM376.1 54.4h8.1v1.6h-8.1zM340.9 55.8h1.6v1.6h-1.6zM340.9 57.1h2.9v1.6h-2.9zM343.5 58.5h1.6v1.6h-1.6zM346.1 58.5h1.6v1.6h-1.6zM352.6 58.5h1.6v1.6h-1.6zM355.3 58.5h1.6v1.6h-1.6zM364.4 58.5h1.6v1.6h-1.6zM367.0 58.5h1.6v1.6h-1.6zM372.2 58.5h2.9v1.6h-2.9zM380.1 58.5h2.9v1.6h-2.9zM384.0 58.5h1.6v1.6h-1.6zM386.6 58.5h1.6v1.6h-1.6zM340.9 59.9h1.6v1.6h-1.6zM342.2 61.3h1.6v1.6h-1.6zM342.2 62.7h1.6v1.6h-1.6zM342.2 64.0h1.6v1.6h-1.6zM340.9 65.4h1.6v1.6h-1.6zM340.9 68.2h1.6v1.6h-1.6zM365.7 68.2h1.6v1.6h-1.6zM340.9 69.6h2.9v1.6h-2.9zM340.9 70.9h2.9v1.6h-2.9zM340.9 72.3h1.6v1.6h-1.6zM340.9 73.7h2.9v1.6h-2.9zM342.2 75.1h1.6v1.6h-1.6zM340.9 76.5h1.6v1.6h-1.6zM340.9 77.8h2.9v1.6h-2.9zM340.9 79.2h2.9v1.6h-2.9zM342.2 80.6h1.6v1.6h-1.6zM340.9 82.0h2.9v1.6h-2.9zM340.9 83.3h2.9v1.6h-2.9zM340.9 84.7h2.9v1.6h-2.9z"/>
<path fill="#19ffe5" d="M340.9 25.4h2.9v1.6h-2.9zM355.3 25.4h2.9v1.6h-2.9zM359.2 25.4h1.6v1.6h-1.6zM361.8 25.4h6.8v1.6h-6.8zM369.6 25.4h4.2v1.6h-4.2zM376.1 25.4h4.2v1.6h-4.2zM382.7 25.4h2.9v1.6h-2.9zM340.9 26.8h1.6v1.6h-1.6zM355.3 26.8h1.6v1.6h-1.6zM363.1 26.8h2.9v1.6h-2.9zM370.9 26.8h1.6v1.6h-1.6zM377.5 26.8h1.6v1.6h-1.6zM380.1 26.8h1.6v1.6h-1.6zM384.0 26.8h1.6v1.6h-1.6zM340.9 28.2h1.6v1.6h-1.6zM356.6 28.2h4.2v1.6h-4.2zM361.8 28.2h4.2v1.6h-4.2zM367.0 28.2h1.6v1.6h-1.6zM372.2 28.2h5.5v1.6h-5.5zM378.8 28.2h4.2v1.6h-4.2zM384.0 28.2h1.6v1.6h-1.6zM340.9 29.5h1.6v1.6h-1.6zM355.3 29.5h1.6v1.6h-1.6zM357.9 29.5h1.6v1.6h-1.6zM363.1 29.5h4.2v1.6h-4.2zM369.6 29.5h1.6v1.6h-1.6zM373.5 29.5h8.1v1.6h-8.1zM382.7 29.5h2.9v1.6h-2.9zM340.9 30.9h2.9v1.6h-2.9zM356.6 30.9h1.6v1.6h-1.6zM361.8 30.9h1.6v1.6h-1.6zM369.6 30.9h9.4v1.6h-9.4zM380.1 30.9h2.9v1.6h-2.9zM342.2 32.3h1.6v1.6h-1.6zM340.9 33.7h1.6v1.6h-1.6zM340.9 36.4h1.6v1.6h-1.6zM340.9 39.2h1.6v1.6h-1.6zM340.9 40.6h2.9v1.6h-2.9zM340.9 42.0h2.9v1.6h-2.9zM340.9 43.3h2.9v1.6h-2.9zM342.2 44.7h1.6v1.6h-1.6zM340.9 47.5h1.6v1.6h-1.6zM342.2 51.6h1.6v1.6h-1.6zM340.9 54.4h2.9v1.6h-2.9zM340.9 58.5h2.9v1.6h-2.9zM342.2 59.9h1.6v1.6h-1.6zM340.9 61.3h1.6v1.6h-1.6zM340.9 64.0h1.6v1.6h-1.6zM340.9 66.8h2.9v1.6h-2.9zM342.2 68.2h1.6v1.6h-1.6zM347.4 104.0h1.6v1.6h-1.6z"/>
<path fill="#32ffcc" d="M373.5 25.4h2.9v1.6h-2.9zM380.1 25.4h2.9v1.6h-2.9zM342.2 26.8h1.6v1.6h-1.6zM356.6 26.8h6.8v1.6h-6.8zM365.7 26.8h5.5v1.6h-5.5zM372.2 26.8h2.9v1.6h-2.9zM376.1 26.8h1.6v1.6h-1.6zM378.8 26.8h1.6v1.6h-1.6zM381.4 26.8h2.9v1.6h-2.9zM360.5 28.2h1.6v1.6h-1.6zM365.7 28.2h1.6v1.6h-1.6zM368.3 28.2h1.6v1.6h-1.6zM370.9 28.2h1.6v1.6h-1.6zM377.5 28.2h1.6v1.6h-1.6zM382.7 28.2h1.6v1.6h-1.6zM360.5 29.5h2.9v1.6h-2.9zM370.9 29.5h2.9v1.6h-2.9zM381.4 29.5h1.6v1.6h-1.6zM342.2 36.4h1.6v1.6h-1.6zM340.9 37.8h2.9v1.6h-2.9zM340.9 44.7h1.6v1.6h-1.6zM340.9 46.1h2.9v1.6h-2.9zM340.9 53.0h2.9v1.6h-2.9zM381.4 91.6h1.6v1.6h-1.6zM363.1 109.6h1.6v1.6h-1.6zM356.6 120.6h1.6v1.6h-1.6zM372.2 122.0h2.9v1.6h-2.9zM386.6 126.1h1.6v1.6h-1.6z"/>
<path fill="#4cffb2" d="M374.8 26.8h1.6v1.6h-1.6zM386.6 64.0h1.6v1.6h-1.6zM352.6 68.2h1.6v1.6h-1.6zM352.6 87.5h1.6v1.6h-1.6zM343.5 93.0h1.6v1.6h-1.6zM355.3 122.0h1.6v1.6h-1.6z"/>
<path fill="#65ff99" d="M364.4 86.1h1.6v1.6h-1.6z"/>
<path fill="#7fff7f" d="M381.4 32.3h1.6v1.6h-1.6zM352.6 105.4h1.6v1.6h-1.6zM352.6 122.0h1.6v1.6h-1.6z"/>
<path fill="#99ff65" d="M347.4 54.4h1.6v1.6h-1.6zM373.5 75.1h1.6v1.6h-1.6zM356.6 113.7h1.6v1.6h-1.6z"/>
<path fill="#b2ff4c" d="M378.8 30.9h1.6v1.6h-1.6z"/>
<path fill="#cbff33" d="M359.2 47.5h1.6v1.6h-1.6zM367.0 51.6h1.6v1.6h-1.6zM381.4 122.0h1.6v1.6h-1.6z"/>
<path fill="#e5ff19" d="M355.3 28.2h1.6v1.6h-1.6zM368.3 66.8h1.6v1.6h-1.6z"/>
<path fill="#ffcb00" d="M374.8 122.0h1.6v1.6h-1.6z"/>
<path fill="#ff7f00" d="M365.7 122.0h1.6v1.6h-1.6z"/>
<path fill="#ff0000" d="M363.1 122.0h1.6v1.6h-1.6z"/>
</g>
<defs><linearGradient id="jetg" x1="0" y1="0" x2="0" y2="1">
<stop offset="0.000" stop-color="#7f0000"/>
<stop offset="0.050" stop-color="#b20000"/>
<stop offset="0.100" stop-color="#e50000"/>
<stop offset="0.150" stop-color="#ff1900"/>
<stop offset="0.200" stop-color="#ff4c00"/>
<stop offset="0.250" stop-color="#ff7f00"/>
<stop offset="0.300" stop-color="#ffb200"/>
<stop offset="0.350" stop-color="#ffe500"/>
<stop offset="0.400" stop-color="#e5ff19"/>
<stop offset="0.450" stop-color="#b2ff4c"/>
<stop offset="0.500" stop-color="#7fff7f"/>
<stop offset="0.550" stop-color="#4cffb2"/>
<stop offset="0.600" stop-color="#19ffe5"/>
<stop offset="0.650" stop-color="#00e5ff"/>
<stop offset="0.700" stop-color="#00b2ff"/>
<stop offset="0.750" stop-color="#007fff"/>
<stop offset="0.800" stop-color="#004cff"/>
<stop offset="0.850" stop-color="#0019ff"/>
<stop offset="0.900" stop-color="#0000e5"/>
<stop offset="0.950" stop-color="#0000b2"/>
<stop offset="1.000" stop-color="#00007f"/>
</linearGradient></defs>
<rect x="285.1" y="25.4" width="3.9" height="115.9" fill="url(#jetg)"/>
<line x1="301.30" y1="22.30" x2="301.30" y2="143.60" stroke="#000" stroke-width="0.9" stroke-dasharray="2.2 2.6" />
<line x1="329.90" y1="22.30" x2="329.90" y2="143.60" stroke="#000" stroke-width="0.9" stroke-dasharray="2.2 2.6" />
<line x1="351.20" y1="22.30" x2="351.20" y2="143.60" stroke="#000" stroke-width="0.9" stroke-dasharray="2.2 2.6" />
<line x1="379.20" y1="22.30" x2="379.20" y2="143.60" stroke="#000" stroke-width="0.9" stroke-dasharray="2.2 2.6" />
<text x="282.80" y="31.20" font-size="11" text-anchor="end" fill="#000" font-weight="normal" textLength="17.1" lengthAdjust="spacingAndGlyphs" >120</text>
<text x="282.80" y="145.60" font-size="11" text-anchor="end" fill="#000" font-weight="normal" >-60</text>
<text x="302.50" y="18.60" font-size="11.4" text-anchor="start" fill="#000" font-weight="normal" textLength="26.8" lengthAdjust="spacingAndGlyphs" >AngII</text>
<text x="346.60" y="18.60" font-size="11.4" text-anchor="start" fill="#000" font-weight="normal" textLength="38.1" lengthAdjust="spacingAndGlyphs" >Ang1-7</text>
<text x="279.00" y="82.50" font-size="14" text-anchor="middle" fill="#000" font-weight="normal" transform="rotate(-90 279.00 82.50)" textLength="57" lengthAdjust="spacingAndGlyphs" >ΔF/F (%)</text>
<line x1="324.40" y1="154.30" x2="334.60" y2="154.30" stroke="#000" stroke-width="1.6" />
<text x="338.80" y="158.60" font-size="11.6" text-anchor="start" fill="#000" font-weight="normal" textLength="28.6" lengthAdjust="spacingAndGlyphs" >2 min</text>
<text x="255.00" y="15.10" font-size="16" text-anchor="start" fill="#000" font-weight="bold" >B</text>
<line x1="463.99" y1="18.60" x2="463.99" y2="140.40" stroke="#000" stroke-width="1.0" stroke-dasharray="1 1.1" />
<line x1="500.57" y1="18.60" x2="500.57" y2="140.40" stroke="#000" stroke-width="1.0" stroke-dasharray="1 1.1" />
<line x1="449.30" y1="116.10" x2="518.50" y2="116.10" stroke="#000" stroke-width="1.0" stroke-dasharray="2.6 2" />
<polyline points="453.0,111.9 453.8,111.6 454.5,112.2 455.2,112.3 456.0,112.7 456.7,114.1 457.5,114.7 458.2,113.9 458.9,115.3 459.7,115.7 460.4,114.7 461.2,115.8 461.9,115.3 462.7,115.9 463.4,115.6 464.1,116.3 464.9,115.4 465.6,115.0 466.4,115.5 467.1,115.3 467.9,115.5 468.6,116.7 469.3,115.9 470.1,116.6 470.8,117.5 471.6,118.5 472.3,117.6 473.0,118.8 473.8,118.8 474.5,119.0 475.3,119.5 476.0,119.4 476.8,120.4 477.5,119.8 478.2,120.3 479.0,119.5 479.7,119.5 480.5,120.7 481.2,120.6 481.9,120.5 482.7,119.4 483.4,120.5 484.2,120.4 484.9,121.4 485.7,121.5 486.4,122.2 487.1,122.7 487.9,122.9 488.6,123.3 489.4,123.2 490.1,123.9 490.9,123.8 491.6,124.0 492.3,123.9 493.1,124.4 493.8,125.1 494.6,123.9 495.3,123.7 496.0,123.7 496.8,124.3 497.5,124.2 498.3,125.2 499.0,124.4 499.8,125.2 500.5,126.1 501.2,127.0 502.0,126.2 502.7,126.5 503.5,128.4 504.2,127.7 504.9,128.7 505.7,129.4 506.4,129.3 507.2,128.6 507.9,128.5 508.7,129.7 509.4,128.8 510.1,129.6 510.9,128.5 511.6,129.1 512.4,128.3 513.1,128.3 513.9,129.3 514.6,128.8 515.3,130.4 516.1,131.2" fill="none" stroke="#c4c4c4" stroke-width="3.6" stroke-linejoin="round" stroke-linecap="round" />
<polyline points="453.0,111.9 453.8,111.6 454.5,112.2 455.2,112.3 456.0,112.7 456.7,114.1 457.5,114.7 458.2,113.9 458.9,115.3 459.7,115.7 460.4,114.7 461.2,115.8 461.9,115.3 462.7,115.9 463.4,115.6 464.1,116.3 464.9,115.4 465.6,115.0 466.4,115.5 467.1,115.3 467.9,115.5 468.6,116.7 469.3,115.9 470.1,116.6 470.8,117.5 471.6,118.5 472.3,117.6 473.0,118.8 473.8,118.8 474.5,119.0 475.3,119.5 476.0,119.4 476.8,120.4 477.5,119.8 478.2,120.3 479.0,119.5 479.7,119.5 480.5,120.7 481.2,120.6 481.9,120.5 482.7,119.4 483.4,120.5 484.2,120.4 484.9,121.4 485.7,121.5 486.4,122.2 487.1,122.7 487.9,122.9 488.6,123.3 489.4,123.2 490.1,123.9 490.9,123.8 491.6,124.0 492.3,123.9 493.1,124.4 493.8,125.1 494.6,123.9 495.3,123.7 496.0,123.7 496.8,124.3 497.5,124.2 498.3,125.2 499.0,124.4 499.8,125.2 500.5,126.1 501.2,127.0 502.0,126.2 502.7,126.5 503.5,128.4 504.2,127.7 504.9,128.7 505.7,129.4 506.4,129.3 507.2,128.6 507.9,128.5 508.7,129.7 509.4,128.8 510.1,129.6 510.9,128.5 511.6,129.1 512.4,128.3 513.1,128.3 513.9,129.3 514.6,128.8 515.3,130.4 516.1,131.2" fill="none" stroke="#8e8e8e" stroke-width="1.7" stroke-linejoin="round" stroke-linecap="round" />
<polyline points="453.0,110.3 453.4,110.6 453.8,110.9 454.1,111.3 454.5,111.6 454.9,111.9 455.2,112.2 455.6,112.6 456.0,112.9 456.3,113.2 456.7,113.5 457.1,113.8 457.5,114.1 457.8,114.4 458.2,114.7 458.6,115.1 458.9,115.4 459.3,115.7 459.7,116.0 460.1,116.3 460.4,116.6 460.8,117.0 461.2,117.3 461.5,117.7 461.9,118.1 462.3,118.4 462.7,118.8 463.0,119.2 463.4,119.5 463.8,119.9 464.1,120.3 464.5,120.8 464.9,121.3 465.3,121.8 465.6,122.3 466.0,122.9 466.4,123.4 466.7,123.9 467.1,124.4 467.5,124.9 467.9,125.4 468.2,125.9 468.6,126.3 469.0,126.8 469.3,127.2 469.7,127.7 470.1,128.1 470.4,128.6 470.8,129.0 471.2,129.5 471.6,129.9 471.9,130.1 472.3,130.2 472.7,130.4 473.0,130.5 473.4,130.7 473.8,130.8 474.2,130.9 474.5,131.1 474.9,130.7 475.3,130.4 475.6,130.0 476.0,129.7 476.4,129.3 476.8,129.0 477.1,127.4 477.5,125.8 477.9,124.1 478.2,122.5 478.6,118.8 479.0,115.0 479.4,111.3 479.7,105.4 480.1,99.5 480.5,93.6 480.8,89.5 481.2,85.5 481.6,81.5 481.9,77.5 482.3,73.4 482.7,69.4 483.1,67.4 483.4,65.4 483.8,63.4 484.2,61.4 484.5,59.3 484.9,57.3 485.3,55.3 485.7,53.3 486.0,51.3 486.4,49.3 486.8,48.3 487.1,47.4 487.5,46.4 487.9,45.4 488.3,44.5 488.6,43.5 489.0,42.5 489.4,41.6 489.7,40.6 490.1,39.6 490.5,39.1 490.9,38.7 491.2,38.2 491.6,37.7 492.0,37.2 492.3,36.7 492.7,36.2 493.1,35.8 493.4,35.3 493.8,34.8 494.2,34.6 494.6,34.4 494.9,34.2 495.3,33.9 495.7,33.7 496.0,33.5 496.4,34.1 496.8,34.7 497.2,35.4 497.5,36.0 497.9,36.6 498.3,37.2 498.6,38.3 499.0,39.4 499.4,40.5 499.8,41.6 500.1,42.7 500.5,43.9 500.9,45.0 501.2,46.1 501.6,47.5 502.0,49.0 502.4,50.4 502.7,51.9 503.1,53.3 503.5,54.8 503.8,56.2 504.2,57.7 504.6,59.1 504.9,60.6 505.3,62.5 505.7,64.4 506.1,66.4 506.4,68.3 506.8,70.2 507.2,72.1 507.5,74.1 507.9,76.0 508.3,77.9 508.7,79.9 509.0,82.6 509.4,85.3 509.8,88.0 510.1,90.7 510.5,93.5 510.9,96.2 511.3,98.9 511.6,101.6 512.0,103.2 512.4,104.8 512.7,106.4 513.1,108.0 513.5,109.7 513.9,111.3 514.2,112.5 514.6,113.7 515.0,114.9 515.3,116.1 515.7,117.3 516.1,118.5" fill="none" stroke="#000" stroke-width="0.7" stroke-linejoin="round" stroke-linecap="round" />
<polyline points="453.0,111.6 453.4,111.9 453.8,112.2 454.1,112.6 454.5,112.9 454.9,113.2 455.2,113.5 455.6,113.8 456.0,114.2 456.3,114.5 456.7,114.8 457.1,115.2 457.5,115.5 457.8,115.8 458.2,116.2 458.6,116.5 458.9,116.8 459.3,117.2 459.7,117.5 460.1,117.9 460.4,118.2 460.8,118.6 461.2,119.0 461.5,119.4 461.9,119.8 462.3,120.2 462.7,120.6 463.0,121.0 463.4,121.4 463.8,121.8 464.1,122.2 464.5,122.8 464.9,123.3 465.3,123.9 465.6,124.4 466.0,125.0 466.4,125.5 466.7,126.0 467.1,126.6 467.5,127.1 467.9,127.7 468.2,128.2 468.6,128.7 469.0,129.2 469.3,129.8 469.7,130.3 470.1,130.8 470.4,131.3 470.8,131.8 471.2,132.3 471.6,132.8 471.9,133.0 472.3,133.2 472.7,133.4 473.0,133.6 473.4,133.7 473.8,133.9 474.2,134.1 474.5,134.3 474.9,133.9 475.3,133.6 475.6,133.2 476.0,132.9 476.4,132.5 476.8,132.2 477.1,130.6 477.5,129.0 477.9,127.4 478.2,125.8 478.6,122.0 479.0,118.2 479.4,114.5 479.7,109.7 480.1,104.8 480.5,100.0 480.8,97.0 481.2,94.1 481.6,91.1 481.9,88.2 482.3,85.2 482.7,82.3 483.1,80.9 483.4,79.6 483.8,78.2 484.2,76.8 484.5,75.4 484.9,74.1 485.3,72.7 485.7,71.3 486.0,70.0 486.4,68.6 486.8,67.8 487.1,67.0 487.5,66.2 487.9,65.4 488.3,64.6 488.6,63.8 489.0,63.0 489.4,62.2 489.7,61.4 490.1,60.6 490.5,60.3 490.9,60.0 491.2,59.7 491.6,59.4 492.0,59.1 492.3,58.8 492.7,58.5 493.1,58.2 493.4,57.9 493.8,57.7 494.2,57.6 494.6,57.5 494.9,57.5 495.3,57.4 495.7,57.4 496.0,57.3 496.4,58.0 496.8,58.7 497.2,59.3 497.5,60.0 497.9,60.7 498.3,61.4 498.6,62.5 499.0,63.6 499.4,64.7 499.8,65.8 500.1,66.9 500.5,68.0 500.9,69.1 501.2,70.2 501.6,71.4 502.0,72.6 502.4,73.8 502.7,75.0 503.1,76.3 503.5,77.5 503.8,78.7 504.2,79.9 504.6,81.1 504.9,82.3 505.3,83.9 505.7,85.5 506.1,87.1 506.4,88.7 506.8,90.3 507.2,92.0 507.5,93.6 507.9,95.2 508.3,96.8 508.7,98.4 509.0,100.8 509.4,103.2 509.8,105.6 510.1,108.0 510.5,110.5 510.9,112.9 511.3,115.3 511.6,117.7 512.0,119.1 512.4,120.4 512.7,121.7 513.1,123.1 513.5,124.4 513.9,125.8 514.2,126.7 514.6,127.6 515.0,128.6 515.3,129.5 515.7,130.5 516.1,131.4" fill="none" stroke="#000" stroke-width="0.7" stroke-linejoin="round" stroke-linecap="round" />
<polyline points="453.0,110.9 453.4,111.3 453.8,111.6 454.1,111.9 454.5,112.2 454.9,112.6 455.2,112.9 455.6,113.2 456.0,113.5 456.3,113.8 456.7,114.2 457.1,114.5 457.5,114.8 457.8,115.1 458.2,115.5 458.6,115.8 458.9,116.1 459.3,116.4 459.7,116.7 460.1,117.1 460.4,117.4 460.8,117.8 461.2,118.2 461.5,118.5 461.9,118.9 462.3,119.3 462.7,119.7 463.0,120.1 463.4,120.5 463.8,120.9 464.1,121.3 464.5,121.8 464.9,122.3 465.3,122.8 465.6,123.4 466.0,123.9 466.4,124.4 466.7,125.0 467.1,125.5 467.5,126.0 467.9,126.6 468.2,127.0 468.6,127.5 469.0,128.0 469.3,128.5 469.7,129.0 470.1,129.5 470.4,129.9 470.8,130.4 471.2,130.9 471.6,131.4 471.9,131.6 472.3,131.7 472.7,131.9 473.0,132.0 473.4,132.2 473.8,132.4 474.2,132.5 474.5,132.7 474.9,132.3 475.3,132.0 475.6,131.6 476.0,131.3 476.4,130.9 476.8,130.6 477.1,129.0 477.5,127.4 477.9,125.8 478.2,124.1 478.6,120.4 479.0,116.6 479.4,112.9 479.7,107.5 480.1,102.1 480.5,96.8 480.8,93.3 481.2,89.8 481.6,86.3 481.9,82.8 482.3,79.3 482.7,75.8 483.1,74.2 483.4,72.5 483.8,70.8 484.2,69.1 484.5,67.4 484.9,65.7 485.3,64.0 485.7,62.3 486.0,60.6 486.4,58.9 486.8,58.1 487.1,57.2 487.5,56.3 487.9,55.4 488.3,54.5 488.6,53.6 489.0,52.7 489.4,51.9 489.7,51.0 490.1,50.1 490.5,49.7 490.9,49.3 491.2,48.9 491.6,48.5 492.0,48.1 492.3,47.7 492.7,47.3 493.1,46.9 493.4,46.5 493.8,46.1 494.2,46.0 494.6,46.0 494.9,46.0 495.3,46.0 495.7,45.9 496.0,45.9 496.4,46.5 496.8,47.0 497.2,47.6 497.5,48.2 497.9,48.7 498.3,49.3 498.6,50.4 499.0,51.5 499.4,52.6 499.8,53.7 500.1,54.8 500.5,55.9 500.9,57.0 501.2,58.1 501.6,59.4 502.0,60.7 502.4,62.0 502.7,63.3 503.1,64.6 503.5,65.9 503.8,67.2 504.2,68.4 504.6,69.7 504.9,71.0 505.3,72.8 505.7,74.6 506.1,76.3 506.4,78.1 506.8,79.9 507.2,81.6 507.5,83.4 507.9,85.2 508.3,87.0 508.7,88.7 509.0,91.3 509.4,94.0 509.8,96.6 510.1,99.2 510.5,101.8 510.9,104.4 511.3,107.0 511.6,109.7 512.0,111.0 512.4,112.3 512.7,113.7 513.1,115.0 513.5,116.4 513.9,117.7 514.2,118.9 514.6,120.1 515.0,121.3 515.3,122.5 515.7,123.7 516.1,125.0" fill="none" stroke="#000" stroke-width="2.3" stroke-linejoin="round" stroke-linecap="round" />
<rect x="466.8" y="98.6" width="39.6" height="13.2" fill="#fff"/>
<text x="467.80" y="109.30" font-size="11.6" text-anchor="start" fill="#858585" font-weight="normal" textLength="36.6" lengthAdjust="spacingAndGlyphs" >Ang1-7</text>
<line x1="449.30" y1="18.80" x2="449.30" y2="141.00" stroke="#000" stroke-width="1.25" />
<line x1="448.70" y1="140.40" x2="517.00" y2="140.40" stroke="#000" stroke-width="1.25" />
<line x1="443.70" y1="19.50" x2="449.30" y2="19.50" stroke="#000" stroke-width="1.25" />
<text x="442.70" y="24.20" font-size="13.6" text-anchor="end" fill="#000" font-weight="normal" >60</text>
<line x1="443.70" y1="43.65" x2="449.30" y2="43.65" stroke="#000" stroke-width="1.25" />
<text x="442.70" y="48.35" font-size="13.6" text-anchor="end" fill="#000" font-weight="normal" >45</text>
<line x1="443.70" y1="67.80" x2="449.30" y2="67.80" stroke="#000" stroke-width="1.25" />
<text x="442.70" y="72.50" font-size="13.6" text-anchor="end" fill="#000" font-weight="normal" >30</text>
<line x1="443.70" y1="91.95" x2="449.30" y2="91.95" stroke="#000" stroke-width="1.25" />
<text x="442.70" y="96.65" font-size="13.6" text-anchor="end" fill="#000" font-weight="normal" >15</text>
<line x1="443.70" y1="116.10" x2="449.30" y2="116.10" stroke="#000" stroke-width="1.25" />
<text x="442.70" y="120.80" font-size="13.6" text-anchor="end" fill="#000" font-weight="normal" >0</text>
<line x1="443.70" y1="140.25" x2="449.30" y2="140.25" stroke="#000" stroke-width="1.25" />
<text x="442.70" y="144.95" font-size="13.6" text-anchor="end" fill="#000" font-weight="normal" >-15</text>
<line x1="449.30" y1="140.40" x2="449.30" y2="146.20" stroke="#000" stroke-width="1.25" />
<text x="449.30" y="157.80" font-size="13.6" text-anchor="middle" fill="#000" font-weight="normal" >0</text>
<line x1="471.56" y1="140.40" x2="471.56" y2="146.20" stroke="#000" stroke-width="1.25" />
<text x="471.56" y="157.80" font-size="13.6" text-anchor="middle" fill="#000" font-weight="normal" >3</text>
<line x1="493.82" y1="140.40" x2="493.82" y2="146.20" stroke="#000" stroke-width="1.25" />
<text x="493.82" y="157.80" font-size="13.6" text-anchor="middle" fill="#000" font-weight="normal" >6</text>
<line x1="516.08" y1="140.40" x2="516.08" y2="146.20" stroke="#000" stroke-width="1.25" />
<text x="516.08" y="157.80" font-size="13.6" text-anchor="middle" fill="#000" font-weight="normal" >9</text>
<text x="449.90" y="171.80" font-size="14.5" text-anchor="start" fill="#000" font-weight="normal" textLength="68.8" lengthAdjust="spacingAndGlyphs" >Time (min)</text>
<text x="419.30" y="82.00" font-size="14" text-anchor="middle" fill="#000" font-weight="normal" transform="rotate(-90 419.30 82.00)" textLength="56" lengthAdjust="spacingAndGlyphs" >ΔF/F (%)</text>
<text x="468.30" y="18.60" font-size="11.6" text-anchor="start" fill="#000" font-weight="normal" textLength="26.6" lengthAdjust="spacingAndGlyphs" >AngII</text>
<text x="408.60" y="14.70" font-size="15" text-anchor="start" fill="#000" font-weight="bold" >C</text>
<line x1="251.50" y1="188.00" x2="251.50" y2="339.90" stroke="#000" stroke-width="0.9" stroke-dasharray="2.4 2.2" />
<line x1="293.60" y1="188.00" x2="293.60" y2="236.50" stroke="#000" stroke-width="0.9" stroke-dasharray="2.4 2.2" />
<line x1="293.60" y1="254.00" x2="293.60" y2="339.90" stroke="#000" stroke-width="0.9" stroke-dasharray="2.4 2.2" />
<polyline points="224.1,232.2 224.6,232.4 225.1,232.2 225.7,232.4 226.2,232.2 226.7,232.2 227.2,232.2 227.7,232.1 228.3,232.3 228.8,232.3 229.3,232.4 229.8,232.4 230.3,232.2 230.9,232.0 231.4,232.3 231.9,232.4 232.4,232.7 232.9,232.6 233.5,232.2 234.0,232.0 234.5,231.9 235.0,232.2 235.5,232.1 236.1,232.4 236.6,232.5 237.1,232.5 237.6,232.2 238.1,232.2 238.7,232.5 239.2,232.7 239.7,232.8 240.2,232.7 240.7,232.5 241.3,232.5 241.8,232.2 242.3,232.2 242.8,232.2 243.3,232.5 243.9,232.7 244.4,232.7 244.9,232.7 245.4,232.5 245.9,232.5 246.5,232.4 247.0,232.8 247.5,232.6 248.0,232.4 248.5,232.4 249.1,232.7 249.6,233.1 250.1,232.9 250.6,232.9 251.1,232.9 251.7,232.9 252.2,232.5 252.7,232.3 253.2,232.3 253.7,232.4 254.3,232.6 254.8,232.5 255.3,232.7 255.8,232.4 256.3,232.2 256.9,232.2 257.4,232.2 257.9,232.4 258.4,232.3 258.9,232.4 259.5,232.2 260.0,231.8 260.5,231.9 261.0,232.0 261.5,231.9 262.1,231.7 262.6,231.6 263.1,231.8 263.6,231.5 264.1,231.3 264.7,230.6 265.2,229.7 265.7,229.0 266.2,228.9 266.7,229.2 267.3,230.1 267.8,230.7 268.3,231.1 268.8,230.7 269.3,230.2 269.9,229.9 270.4,229.5 270.9,228.6 271.4,227.0 271.9,225.4 272.5,223.4 273.0,221.6 273.5,219.7 274.0,217.6 274.5,215.5 275.1,212.9 275.6,210.9 276.1,208.2 276.6,205.9 277.1,203.5 277.7,201.8 278.2,200.5 278.7,198.9 279.2,197.5 279.7,196.0 280.3,194.7 280.8,193.9 281.3,193.3 281.8,192.8 282.3,192.3 282.9,191.7 283.4,191.8 283.9,191.7 284.4,192.3 284.9,192.8 285.5,193.2 286.0,193.7 286.5,193.3 287.0,194.1 287.5,194.7 288.1,195.5 288.6,195.3 289.1,195.3 289.6,196.1 290.1,196.4 290.7,196.9 291.2,196.9 291.7,197.6 292.2,198.3 292.7,199.0 293.3,200.3 293.8,201.3 294.3,202.6 294.8,203.2 295.3,204.4 295.9,205.4 296.4,206.3 296.9,206.9 297.4,207.4 297.9,208.3 298.5,208.5 299.0,209.5 299.5,209.7 300.0,210.8 300.5,211.4 301.1,211.9 301.6,212.3 302.1,212.7 302.6,213.6 303.1,214.1 303.7,214.5 304.2,214.4 304.7,214.6 305.2,215.1 305.7,215.6 306.3,216.4 306.8,216.6 307.3,217.4 307.8,217.4 308.3,217.9 308.9,217.6 309.4,218.0 309.9,217.6 310.4,217.3 310.9,217.5 311.5,218.2 312.0,219.1 312.5,219.6 313.0,219.4 313.5,219.4 314.1,219.1 314.6,219.5 315.1,219.9 315.6,220.3 316.1,220.6 316.7,220.8 317.2,220.9 317.7,221.3 318.2,221.1 318.7,221.7 319.3,221.7 319.8,221.7 320.3,221.0 320.8,220.4 321.3,220.6 321.9,221.4 322.4,222.1 322.9,222.9 323.4,222.7 323.9,223.1 324.5,223.0 325.0,223.3 325.5,223.3 326.0,223.8 326.5,224.1 327.1,223.8 327.6,223.7 328.1,223.8 328.6,223.9 329.1,223.6 329.7,223.7 330.2,224.3 330.7,224.4 331.2,223.8 331.7,222.8 332.3,222.4 332.8,222.1 333.3,222.4 333.8,222.1 334.3,222.2 334.9,221.8 335.4,221.9 335.9,221.8 336.4,222.5 336.9,223.1" fill="none" stroke="#c8f23c" stroke-width="0.8" stroke-linejoin="round" stroke-linecap="round" />
<polyline points="224.1,232.9 224.6,233.0 225.1,232.8 225.7,233.0 226.2,232.9 226.7,232.8 227.2,232.8 227.7,232.8 228.3,232.9 228.8,233.0 229.3,233.1 229.8,233.0 230.3,232.8 230.9,232.7 231.4,233.0 231.9,233.1 232.4,233.4 232.9,233.2 233.5,232.9 234.0,232.7 234.5,232.5 235.0,232.8 235.5,232.7 236.1,233.1 236.6,233.1 237.1,233.2 237.6,232.9 238.1,232.8 238.7,233.1 239.2,233.3 239.7,233.4 240.2,233.4 240.7,233.1 241.3,233.1 241.8,232.8 242.3,232.8 242.8,232.9 243.3,233.1 243.9,233.3 244.4,233.4 244.9,233.3 245.4,233.2 245.9,233.1 246.5,233.0 247.0,233.4 247.5,233.2 248.0,233.1 248.5,233.0 249.1,233.3 249.6,233.7 250.1,233.6 250.6,233.6 251.1,233.6 251.7,233.6 252.2,233.1 252.7,232.9 253.2,233.0 253.7,233.1 254.3,233.2 254.8,233.1 255.3,233.3 255.8,233.1 256.3,232.8 256.9,232.9 257.4,232.9 257.9,233.0 258.4,233.0 258.9,233.1 259.5,232.9 260.0,232.5 260.5,232.5 261.0,232.6 261.5,232.6 262.1,232.4 262.6,232.2 263.1,232.4 263.6,232.2 264.1,231.9 264.7,231.2 265.2,230.3 265.7,229.7 266.2,229.5 266.7,229.9 267.3,230.7 267.8,231.3 268.3,231.8 268.8,231.4 269.3,231.4 269.9,231.7 270.4,231.8 270.9,231.6 271.4,230.5 271.9,229.4 272.5,228.1 273.0,226.8 273.5,225.5 274.0,223.9 274.5,222.4 275.1,220.3 275.6,218.9 276.1,216.8 276.6,215.1 277.1,213.2 277.7,211.6 278.2,210.3 278.7,208.6 279.2,207.1 279.7,205.6 280.3,204.2 280.8,203.3 281.3,202.7 281.8,202.2 282.3,201.6 282.9,200.9 283.4,201.0 283.9,200.8 284.4,201.4 284.9,201.8 285.5,202.1 286.0,202.5 286.5,202.1 287.0,202.9 287.5,203.4 288.1,204.1 288.6,203.9 289.1,203.9 289.6,204.6 290.1,204.8 290.7,205.3 291.2,205.2 291.7,205.9 292.2,206.5 292.7,207.1 293.3,208.4 293.8,209.4 294.3,210.6 294.8,211.1 295.3,212.2 295.9,213.2 296.4,214.0 296.9,214.6 297.4,215.0 297.9,215.9 298.5,216.0 299.0,216.9 299.5,217.1 300.0,218.1 300.5,218.7 301.1,219.1 301.6,219.5 302.1,219.8 302.6,220.7 303.1,221.1 303.7,221.5 304.2,221.3 304.7,221.4 305.2,221.9 305.7,222.3 306.3,223.1 306.8,223.2 307.3,224.0 307.8,223.9 308.3,224.3 308.9,224.0 309.4,224.3 309.9,223.9 310.4,223.5 310.9,223.6 311.5,224.3 312.0,225.1 312.5,225.5 313.0,225.3 313.5,225.2 314.1,224.9 314.6,225.2 315.1,225.6 315.6,226.0 316.1,226.2 316.7,226.3 317.2,226.4 317.7,226.7 318.2,226.5 318.7,227.0 319.3,227.0 319.8,226.9 320.3,226.1 320.8,225.5 321.3,225.6 321.9,226.4 322.4,227.0 322.9,227.8 323.4,227.5 323.9,227.8 324.5,227.7 325.0,227.9 325.5,227.9 326.0,228.3 326.5,228.6 327.1,228.2 327.6,228.1 328.1,228.1 328.6,228.1 329.1,227.8 329.7,227.8 330.2,228.4 330.7,228.4 331.2,227.8 331.7,226.7 332.3,226.3 332.8,225.9 333.3,226.1 333.8,225.7 334.3,225.9 334.9,225.5 335.4,225.5 335.9,225.4 336.4,226.2 336.9,226.8" fill="none" stroke="#c8f23c" stroke-width="0.8" stroke-linejoin="round" stroke-linecap="round" />
<polyline points="224.1,232.6 224.6,232.7 225.1,232.5 225.7,232.7 226.2,232.5 226.7,232.5 227.2,232.5 227.7,232.5 228.3,232.6 228.8,232.6 229.3,232.7 229.8,232.7 230.3,232.5 230.9,232.4 231.4,232.6 231.9,232.7 232.4,233.0 232.9,232.9 233.5,232.6 234.0,232.3 234.5,232.2 235.0,232.5 235.5,232.4 236.1,232.7 236.6,232.8 237.1,232.8 237.6,232.5 238.1,232.5 238.7,232.8 239.2,233.0 239.7,233.1 240.2,233.0 240.7,232.8 241.3,232.8 241.8,232.5 242.3,232.5 242.8,232.6 243.3,232.8 243.9,233.0 244.4,233.0 244.9,233.0 245.4,232.8 245.9,232.8 246.5,232.7 247.0,233.1 247.5,232.9 248.0,232.7 248.5,232.7 249.1,233.0 249.6,233.4 250.1,233.2 250.6,233.3 251.1,233.2 251.7,233.3 252.2,232.8 252.7,232.6 253.2,232.6 253.7,232.8 254.3,232.9 254.8,232.8 255.3,233.0 255.8,232.7 256.3,232.5 256.9,232.6 257.4,232.6 257.9,232.7 258.4,232.6 258.9,232.8 259.5,232.6 260.0,232.1 260.5,232.2 261.0,232.3 261.5,232.2 262.1,232.0 262.6,231.9 263.1,232.1 263.6,231.9 264.1,231.6 264.7,230.9 265.2,230.0 265.7,229.3 266.2,229.2 266.7,229.6 267.3,230.4 267.8,231.0 268.3,231.5 268.8,231.1 269.3,230.8 269.9,230.8 270.4,230.7 270.9,230.1 271.4,228.8 271.9,227.4 272.5,225.7 273.0,224.2 273.5,222.6 274.0,220.8 274.5,219.0 275.1,216.6 275.6,214.9 276.1,212.5 276.6,210.5 277.1,208.4 277.7,206.7 278.2,205.4 278.7,203.7 279.2,202.3 279.7,200.8 280.3,199.5 280.8,198.6 281.3,198.0 281.8,197.5 282.3,197.0 282.9,196.3 283.4,196.4 283.9,196.2 284.4,196.9 284.9,197.3 285.5,197.7 286.0,198.1 286.5,197.7 287.0,198.5 287.5,199.0 288.1,199.8 288.6,199.6 289.1,199.6 289.6,200.3 290.1,200.6 290.7,201.1 291.2,201.0 291.7,201.8 292.2,202.4 292.7,203.1 293.3,204.3 293.8,205.3 294.3,206.6 294.8,207.2 295.3,208.3 295.9,209.3 296.4,210.2 296.9,210.7 297.4,211.2 297.9,212.1 298.5,212.3 299.0,213.2 299.5,213.4 300.0,214.4 300.5,215.0 301.1,215.5 301.6,215.9 302.1,216.2 302.6,217.2 303.1,217.6 303.7,218.0 304.2,217.9 304.7,218.0 305.2,218.5 305.7,218.9 306.3,219.8 306.8,219.9 307.3,220.7 307.8,220.7 308.3,221.1 308.9,220.8 309.4,221.1 309.9,220.8 310.4,220.4 310.9,220.5 311.5,221.3 312.0,222.1 312.5,222.5 313.0,222.4 313.5,222.3 314.1,222.0 314.6,222.3 315.1,222.8 315.6,223.1 316.1,223.4 316.7,223.6 317.2,223.6 317.7,224.0 318.2,223.8 318.7,224.4 319.3,224.4 319.8,224.3 320.3,223.6 320.8,223.0 321.3,223.1 321.9,223.9 322.4,224.6 322.9,225.3 323.4,225.1 323.9,225.4 324.5,225.4 325.0,225.6 325.5,225.6 326.0,226.1 326.5,226.4 327.1,226.0 327.6,225.9 328.1,225.9 328.6,226.0 329.1,225.7 329.7,225.8 330.2,226.3 330.7,226.4 331.2,225.8 331.7,224.7 332.3,224.3 332.8,224.0 333.3,224.3 333.8,223.9 334.3,224.1 334.9,223.7 335.4,223.7 335.9,223.6 336.4,224.3 336.9,224.9" fill="none" stroke="#10e010" stroke-width="1.8" stroke-linejoin="round" stroke-linecap="round" />
<polyline points="224.1,289.1 224.6,288.8 225.1,288.4 225.7,287.9 226.2,287.4 226.7,287.3 227.2,287.5 227.7,288.1 228.3,288.6 228.8,289.2 229.3,289.7 229.8,290.6 230.3,291.6 230.9,293.0 231.4,294.3 231.9,295.6 232.4,296.4 232.9,296.5 233.5,296.1 234.0,295.7 234.5,295.0 235.0,294.0 235.5,292.6 236.1,291.3 236.6,290.0 237.1,288.6 237.6,287.3 238.1,286.8 238.7,287.2 239.2,288.4 239.7,289.6 240.2,290.8 240.7,291.9 241.3,293.0 241.8,294.0 242.3,294.9 242.8,295.9 243.3,296.4 243.9,296.4 244.4,295.8 244.9,295.2 245.4,294.7 245.9,294.1 246.5,293.5 247.0,292.9 247.5,292.1 248.0,291.2 248.5,290.4 249.1,289.5 249.6,288.7 250.1,287.8 250.6,287.4 251.1,287.4 251.7,287.9 252.2,288.4 252.7,288.7 253.2,289.2 253.7,289.8 254.3,290.4 254.8,290.7 255.3,291.1 255.8,291.2 256.3,291.2 256.9,291.2 257.4,292.0 257.9,292.6 258.4,293.4 258.9,293.5 259.5,293.7 260.0,293.6 260.5,293.7 261.0,294.2 261.5,294.9 262.1,295.8 262.6,296.3 263.1,296.3 263.6,296.5 264.1,296.9 264.7,296.9 265.2,296.6 265.7,296.0 266.2,295.8 266.7,294.9 267.3,295.0 267.8,295.0 268.3,295.0 268.8,294.5 269.3,294.6 269.9,295.1 270.4,295.4 270.9,295.1 271.4,294.5 271.9,294.4 272.5,294.6 273.0,294.7 273.5,294.4 274.0,293.8 274.5,293.4 275.1,292.9 275.6,292.9 276.1,293.3 276.6,294.3 277.1,294.8 277.7,295.5 278.2,295.7 278.7,296.4 279.2,296.5 279.7,296.9 280.3,297.1 280.8,297.5 281.3,298.3 281.8,299.2 282.3,299.9 282.9,300.1 283.4,300.6 283.9,302.1 284.4,303.2 284.9,304.2 285.5,304.7 286.0,305.3 286.5,305.8 287.0,306.7 287.5,307.7 288.1,308.3 288.6,308.7 289.1,309.3 289.6,310.1 290.1,311.2 290.7,312.1 291.2,313.3 291.7,314.3 292.2,314.8 292.7,315.1 293.3,315.4 293.8,314.9 294.3,314.7 294.8,313.4 295.3,312.5 295.9,310.6 296.4,309.7 296.9,309.1 297.4,309.6 297.9,309.7 298.5,310.1 299.0,310.0 299.5,309.4 300.0,309.3 300.5,308.9 301.1,308.2 301.6,307.4 302.1,306.7 302.6,306.2 303.1,305.3 303.7,303.9 304.2,302.8 304.7,302.9 305.2,303.8 305.7,305.8 306.3,307.7 306.8,310.0 307.3,311.1 307.8,312.0 308.3,312.9 308.9,313.9 309.4,314.2 309.9,313.7 310.4,313.1 310.9,312.1 311.5,311.9 312.0,311.7 312.5,311.6 313.0,311.4 313.5,310.9 314.1,310.9 314.6,310.6 315.1,310.1 315.6,309.8 316.1,310.3 316.7,311.4 317.2,313.0 317.7,313.7 318.2,314.9 318.7,316.1 319.3,317.1 319.8,318.1 320.3,318.9 320.8,320.2 321.3,320.5 321.9,320.8 322.4,321.2 322.9,322.1 323.4,322.7 323.9,323.2 324.5,323.0 325.0,322.4 325.5,321.2 326.0,321.2 326.5,321.0 327.1,321.3 327.6,320.9 328.1,321.3 328.6,321.4 329.1,321.1 329.7,320.4 330.2,319.5 330.7,318.4 331.2,317.7 331.7,316.5 332.3,316.3 332.8,315.3 333.3,315.2 333.8,314.2 334.3,313.4 334.9,312.3 335.4,312.0 335.9,311.0 336.4,310.1 336.9,309.1" fill="none" stroke="#ff22ff" stroke-width="1.6" stroke-linejoin="round" stroke-linecap="round" />
<line x1="224.10" y1="186.20" x2="224.10" y2="251.90" stroke="#000" stroke-width="1.0" />
<line x1="221.50" y1="186.60" x2="224.10" y2="186.60" stroke="#000" stroke-width="1.0" />
<text x="221.20" y="191.00" font-size="12.4" text-anchor="end" fill="#000" font-weight="normal" >160</text>
<line x1="221.50" y1="219.05" x2="224.10" y2="219.05" stroke="#000" stroke-width="1.0" />
<text x="221.20" y="223.45" font-size="12.4" text-anchor="end" fill="#000" font-weight="normal" >80</text>
<line x1="221.50" y1="251.50" x2="224.10" y2="251.50" stroke="#000" stroke-width="1.0" />
<text x="221.20" y="255.90" font-size="12.4" text-anchor="end" fill="#000" font-weight="normal" >0</text>
<line x1="222.60" y1="202.82" x2="224.10" y2="202.82" stroke="#000" stroke-width="1.0" />
<line x1="222.60" y1="235.28" x2="224.10" y2="235.28" stroke="#000" stroke-width="1.0" />
<line x1="224.10" y1="275.00" x2="224.10" y2="340.30" stroke="#000" stroke-width="1.0" />
<line x1="223.70" y1="339.90" x2="353.60" y2="339.90" stroke="#000" stroke-width="1.0" />
<line x1="221.50" y1="290.30" x2="224.10" y2="290.30" stroke="#000" stroke-width="1.0" />
<text x="221.20" y="294.70" font-size="12.4" text-anchor="end" fill="#000" font-weight="normal" >6</text>
<line x1="221.50" y1="323.50" x2="224.10" y2="323.50" stroke="#000" stroke-width="1.0" />
<text x="221.20" y="327.90" font-size="12.4" text-anchor="end" fill="#000" font-weight="normal" >5</text>
<line x1="224.10" y1="339.90" x2="224.10" y2="342.60" stroke="#000" stroke-width="1.0" />
<text x="223.80" y="355.60" font-size="12.4" text-anchor="middle" fill="#000" font-weight="normal" >0</text>
<line x1="265.70" y1="339.90" x2="265.70" y2="342.60" stroke="#000" stroke-width="1.0" />
<text x="262.50" y="355.60" font-size="12.4" text-anchor="middle" fill="#000" font-weight="normal" >4</text>
<line x1="307.30" y1="339.90" x2="307.30" y2="342.60" stroke="#000" stroke-width="1.0" />
<text x="303.90" y="355.60" font-size="12.4" text-anchor="middle" fill="#000" font-weight="normal" >8</text>
<line x1="348.90" y1="339.90" x2="348.90" y2="342.60" stroke="#000" stroke-width="1.0" />
<text x="347.20" y="355.60" font-size="12.4" text-anchor="middle" fill="#000" font-weight="normal" >12</text>
<text x="251.20" y="370.20" font-size="14.5" text-anchor="start" fill="#000" font-weight="normal" textLength="68.8" lengthAdjust="spacingAndGlyphs" >Time (min)</text>
<text x="192.20" y="218.00" font-size="13.6" text-anchor="middle" fill="#000" font-weight="normal" transform="rotate(-90 192.20 218.00)" textLength="61.5" lengthAdjust="spacingAndGlyphs" >Fluo (a.u.)</text>
<text x="192.80" y="310.00" font-size="14" text-anchor="middle" fill="#000" font-weight="normal" transform="rotate(-90 192.80 310.00)" textLength="88" lengthAdjust="spacingAndGlyphs" >Diameter (<tspan font-family="Liberation Serif,DejaVu Sans,serif" font-style="normal">μ</tspan>m)</text>
<text x="259.50" y="184.60" font-size="12.2" text-anchor="start" fill="#000" font-weight="normal" textLength="28.6" lengthAdjust="spacingAndGlyphs" >AngII</text>
<text x="284.60" y="246.70" font-size="12.4" text-anchor="start" fill="#10e010" font-weight="normal" >Pericyte [Ca<tspan font-size="8" dy="-4">2+</tspan><tspan dy="4">]i</tspan></text>
<text x="271.80" y="283.40" font-size="12.4" text-anchor="start" fill="#ff22ff" font-weight="normal" textLength="99.8" lengthAdjust="spacingAndGlyphs" >Capillary diameter</text>
<text x="161.20" y="191.80" font-size="15" text-anchor="start" fill="#000" font-weight="bold" >E</text>
<line x1="453.50" y1="218.15" x2="487.40" y2="253.79" stroke="#000" stroke-width="1.15" />
<line x1="453.50" y1="218.55" x2="487.40" y2="254.19" stroke="#000" stroke-width="1.15" />
<line x1="453.50" y1="226.49" x2="487.40" y2="264.96" stroke="#000" stroke-width="1.15" />
<line x1="453.50" y1="231.46" x2="487.40" y2="239.40" stroke="#000" stroke-width="1.15" />
<line x1="453.50" y1="262.40" x2="487.40" y2="264.96" stroke="#000" stroke-width="1.15" />
<line x1="453.50" y1="262.40" x2="487.40" y2="270.87" stroke="#000" stroke-width="1.15" />
<line x1="453.50" y1="269.66" x2="487.40" y2="277.06" stroke="#000" stroke-width="1.15" />
<line x1="453.50" y1="274.37" x2="487.40" y2="270.87" stroke="#000" stroke-width="1.15" />
<line x1="453.50" y1="277.73" x2="487.40" y2="285.13" stroke="#000" stroke-width="1.15" />
<line x1="453.50" y1="279.75" x2="487.40" y2="277.06" stroke="#000" stroke-width="1.15" />
<line x1="453.50" y1="281.77" x2="487.40" y2="289.17" stroke="#000" stroke-width="1.15" />
<line x1="453.50" y1="283.79" x2="487.40" y2="281.10" stroke="#000" stroke-width="1.15" />
<line x1="453.50" y1="286.48" x2="487.40" y2="294.55" stroke="#000" stroke-width="1.15" />
<line x1="453.50" y1="287.82" x2="487.40" y2="287.15" stroke="#000" stroke-width="1.15" />
<line x1="453.50" y1="290.11" x2="487.40" y2="291.86" stroke="#000" stroke-width="1.15" />
<line x1="453.50" y1="292.53" x2="487.40" y2="301.27" stroke="#000" stroke-width="1.15" />
<line x1="453.50" y1="293.87" x2="487.40" y2="289.17" stroke="#000" stroke-width="1.15" />
<line x1="453.50" y1="296.56" x2="487.40" y2="295.22" stroke="#000" stroke-width="1.15" />
<line x1="453.50" y1="299.25" x2="487.40" y2="303.96" stroke="#000" stroke-width="1.15" />
<line x1="453.50" y1="300.60" x2="487.40" y2="295.22" stroke="#000" stroke-width="1.15" />
<line x1="453.50" y1="303.96" x2="487.40" y2="301.27" stroke="#000" stroke-width="1.15" />
<line x1="453.50" y1="306.11" x2="487.40" y2="315.80" stroke="#000" stroke-width="1.15" />
<line x1="453.50" y1="309.61" x2="487.40" y2="312.16" stroke="#000" stroke-width="1.15" />
<line x1="453.50" y1="306.65" x2="487.40" y2="303.96" stroke="#000" stroke-width="1.15" />
<circle cx="453.5" cy="218.15" r="2.55" fill="#fff" stroke="#000" stroke-width="1.2"/>
<circle cx="487.4" cy="253.79" r="2.55" fill="#fff" stroke="#000" stroke-width="1.2"/>
<circle cx="453.5" cy="218.55" r="2.55" fill="#fff" stroke="#000" stroke-width="1.2"/>
<circle cx="487.4" cy="254.19" r="2.55" fill="#fff" stroke="#000" stroke-width="1.2"/>
<circle cx="453.5" cy="226.49" r="2.55" fill="#fff" stroke="#000" stroke-width="1.2"/>
<circle cx="487.4" cy="264.96" r="2.55" fill="#fff" stroke="#000" stroke-width="1.2"/>
<circle cx="453.5" cy="231.46" r="2.55" fill="#fff" stroke="#000" stroke-width="1.2"/>
<circle cx="487.4" cy="239.40" r="2.55" fill="#fff" stroke="#000" stroke-width="1.2"/>
<circle cx="453.5" cy="262.40" r="2.55" fill="#fff" stroke="#000" stroke-width="1.2"/>
<circle cx="487.4" cy="264.96" r="2.55" fill="#fff" stroke="#000" stroke-width="1.2"/>
<circle cx="453.5" cy="262.40" r="2.55" fill="#fff" stroke="#000" stroke-width="1.2"/>
<circle cx="487.4" cy="270.87" r="2.55" fill="#fff" stroke="#000" stroke-width="1.2"/>
<circle cx="453.5" cy="269.66" r="2.55" fill="#fff" stroke="#000" stroke-width="1.2"/>
<circle cx="487.4" cy="277.06" r="2.55" fill="#fff" stroke="#000" stroke-width="1.2"/>
<circle cx="453.5" cy="274.37" r="2.55" fill="#fff" stroke="#000" stroke-width="1.2"/>
<circle cx="487.4" cy="270.87" r="2.55" fill="#fff" stroke="#000" stroke-width="1.2"/>
<circle cx="453.5" cy="277.73" r="2.55" fill="#fff" stroke="#000" stroke-width="1.2"/>
<circle cx="487.4" cy="285.13" r="2.55" fill="#fff" stroke="#000" stroke-width="1.2"/>
<circle cx="453.5" cy="279.75" r="2.55" fill="#fff" stroke="#000" stroke-width="1.2"/>
<circle cx="487.4" cy="277.06" r="2.55" fill="#fff" stroke="#000" stroke-width="1.2"/>
<circle cx="453.5" cy="281.77" r="2.55" fill="#fff" stroke="#000" stroke-width="1.2"/>
<circle cx="487.4" cy="289.17" r="2.55" fill="#fff" stroke="#000" stroke-width="1.2"/>
<circle cx="453.5" cy="283.79" r="2.55" fill="#fff" stroke="#000" stroke-width="1.2"/>
<circle cx="487.4" cy="281.10" r="2.55" fill="#fff" stroke="#000" stroke-width="1.2"/>
<circle cx="453.5" cy="286.48" r="2.55" fill="#fff" stroke="#000" stroke-width="1.2"/>
<circle cx="487.4" cy="294.55" r="2.55" fill="#fff" stroke="#000" stroke-width="1.2"/>
<circle cx="453.5" cy="287.82" r="2.55" fill="#fff" stroke="#000" stroke-width="1.2"/>
<circle cx="487.4" cy="287.15" r="2.55" fill="#fff" stroke="#000" stroke-width="1.2"/>
<circle cx="453.5" cy="290.11" r="2.55" fill="#fff" stroke="#000" stroke-width="1.2"/>
<circle cx="487.4" cy="291.86" r="2.55" fill="#fff" stroke="#000" stroke-width="1.2"/>
<circle cx="453.5" cy="292.53" r="2.55" fill="#fff" stroke="#000" stroke-width="1.2"/>
<circle cx="487.4" cy="301.27" r="2.55" fill="#fff" stroke="#000" stroke-width="1.2"/>
<circle cx="453.5" cy="293.87" r="2.55" fill="#fff" stroke="#000" stroke-width="1.2"/>
<circle cx="487.4" cy="289.17" r="2.55" fill="#fff" stroke="#000" stroke-width="1.2"/>
<circle cx="453.5" cy="296.56" r="2.55" fill="#fff" stroke="#000" stroke-width="1.2"/>
<circle cx="487.4" cy="295.22" r="2.55" fill="#fff" stroke="#000" stroke-width="1.2"/>
<circle cx="453.5" cy="299.25" r="2.55" fill="#fff" stroke="#000" stroke-width="1.2"/>
<circle cx="487.4" cy="303.96" r="2.55" fill="#fff" stroke="#000" stroke-width="1.2"/>
<circle cx="453.5" cy="300.60" r="2.55" fill="#fff" stroke="#000" stroke-width="1.2"/>
<circle cx="487.4" cy="295.22" r="2.55" fill="#fff" stroke="#000" stroke-width="1.2"/>
<circle cx="453.5" cy="303.96" r="2.55" fill="#fff" stroke="#000" stroke-width="1.2"/>
<circle cx="487.4" cy="301.27" r="2.55" fill="#fff" stroke="#000" stroke-width="1.2"/>
<circle cx="453.5" cy="306.11" r="2.55" fill="#fff" stroke="#000" stroke-width="1.2"/>
<circle cx="487.4" cy="315.80" r="2.55" fill="#fff" stroke="#000" stroke-width="1.2"/>
<circle cx="453.5" cy="309.61" r="2.55" fill="#fff" stroke="#000" stroke-width="1.2"/>
<circle cx="487.4" cy="312.16" r="2.55" fill="#fff" stroke="#000" stroke-width="1.2"/>
<circle cx="453.5" cy="306.65" r="2.55" fill="#fff" stroke="#000" stroke-width="1.2"/>
<circle cx="487.4" cy="303.96" r="2.55" fill="#fff" stroke="#000" stroke-width="1.2"/>
<line x1="453.50" y1="274.64" x2="487.40" y2="283.25" stroke="#ff55ff" stroke-width="1.2" />
<line x1="453.50" y1="268.59" x2="453.50" y2="280.69" stroke="#ff55ff" stroke-width="1.1" />
<line x1="450.10" y1="268.59" x2="456.90" y2="268.59" stroke="#ff55ff" stroke-width="1.1" />
<line x1="450.10" y1="280.69" x2="456.90" y2="280.69" stroke="#ff55ff" stroke-width="1.1" />
<circle cx="453.5" cy="274.64" r="3.5" fill="#ff55ff"/>
<line x1="487.40" y1="278.54" x2="487.40" y2="287.95" stroke="#ff55ff" stroke-width="1.1" />
<line x1="484.00" y1="278.54" x2="490.80" y2="278.54" stroke="#ff55ff" stroke-width="1.1" />
<line x1="484.00" y1="287.95" x2="490.80" y2="287.95" stroke="#ff55ff" stroke-width="1.1" />
<circle cx="487.4" cy="283.25" r="3.5" fill="#ff55ff"/>
<line x1="436.90" y1="211.90" x2="436.90" y2="347.60" stroke="#000" stroke-width="1.25" />
<line x1="436.30" y1="347.00" x2="504.20" y2="347.00" stroke="#000" stroke-width="1.25" />
<line x1="432.50" y1="212.50" x2="436.90" y2="212.50" stroke="#000" stroke-width="1.25" />
<text x="432.00" y="217.10" font-size="12.8" text-anchor="end" fill="#000" font-weight="normal" >10</text>
<line x1="432.50" y1="239.40" x2="436.90" y2="239.40" stroke="#000" stroke-width="1.25" />
<text x="432.00" y="244.00" font-size="12.8" text-anchor="end" fill="#000" font-weight="normal" >8</text>
<line x1="432.50" y1="266.30" x2="436.90" y2="266.30" stroke="#000" stroke-width="1.25" />
<text x="432.00" y="270.90" font-size="12.8" text-anchor="end" fill="#000" font-weight="normal" >6</text>
<line x1="432.50" y1="293.20" x2="436.90" y2="293.20" stroke="#000" stroke-width="1.25" />
<text x="432.00" y="297.80" font-size="12.8" text-anchor="end" fill="#000" font-weight="normal" >4</text>
<line x1="432.50" y1="320.10" x2="436.90" y2="320.10" stroke="#000" stroke-width="1.25" />
<text x="432.00" y="324.70" font-size="12.8" text-anchor="end" fill="#000" font-weight="normal" >2</text>
<line x1="432.50" y1="347.00" x2="436.90" y2="347.00" stroke="#000" stroke-width="1.25" />
<text x="432.00" y="351.60" font-size="12.8" text-anchor="end" fill="#000" font-weight="normal" >0</text>
<line x1="453.50" y1="347.00" x2="453.50" y2="352.60" stroke="#000" stroke-width="1.25" />
<line x1="487.40" y1="347.00" x2="487.40" y2="352.60" stroke="#000" stroke-width="1.25" />
<polyline points="453.5,210.4 453.5,201.8 487.4,201.8 487.4,232.0" fill="none" stroke="#000" stroke-width="0.9"/>
<text x="469.60" y="198.20" font-size="11" text-anchor="middle" fill="#000" font-weight="normal" font-family="DejaVu Sans" style="font-family:DejaVu Sans,sans-serif">∗</text>
<text x="455.00" y="341.00" font-size="11.8" text-anchor="start" fill="#000" font-weight="normal" textLength="31.2" lengthAdjust="spacingAndGlyphs" >~8.4%</text>
<line x1="490.60" y1="331.60" x2="490.60" y2="340.00" stroke="#000" stroke-width="1.1" />
<polygon points="487.9,337.2 493.3,337.2 490.6,342.2" fill="#000"/>
<text x="410.20" y="275.60" font-size="13.7" text-anchor="middle" fill="#000" font-weight="normal" transform="rotate(-90 410.20 275.60)" textLength="142" lengthAdjust="spacingAndGlyphs" >Capillary diameter (<tspan font-family="Liberation Serif,DejaVu Sans,serif">μ</tspan>m)</text>
<text x="457.40" y="357.20" font-size="12.0" text-anchor="end" fill="#000" font-weight="normal" transform="rotate(-48 457.40 357.20)" >3G</text>
<text x="490.60" y="356.50" font-size="12.0" text-anchor="end" fill="#000" font-weight="normal" transform="rotate(-48 490.60 356.50)" >AngII</text>
<text x="381.20" y="191.70" font-size="14.5" text-anchor="start" fill="#000" font-weight="bold" >F</text>
<line x1="66.80" y1="408.50" x2="66.80" y2="544.60" stroke="#222" stroke-width="0.9" stroke-dasharray="2.4 1.7" />
<line x1="126.90" y1="408.50" x2="126.90" y2="544.60" stroke="#222" stroke-width="0.9" stroke-dasharray="2.4 1.7" />
<polyline points="50.3,518.7 51.2,517.8 52.1,518.2 52.9,518.5 53.8,519.7 54.6,521.6 55.5,521.8 56.3,521.0 57.2,522.4 58.1,520.8 58.9,521.6 59.8,522.3 60.6,523.5 61.5,520.9 62.4,519.8 63.2,518.4 64.1,518.2 64.9,520.3 65.8,520.9 66.7,520.7 67.5,521.9 68.4,519.8 69.2,520.3 70.1,521.5 70.9,520.0 71.8,521.4 72.7,519.5 73.5,519.7 74.4,519.5 75.2,520.2 76.1,520.2 77.0,521.3 77.8,522.7 78.7,520.8 79.5,521.6 80.4,520.2 81.2,521.2 82.1,519.2 83.0,517.8 83.8,517.3 84.7,516.8 85.5,517.1 86.4,514.9 87.3,505.5 88.1,501.9 89.0,500.1 89.8,496.6 90.7,489.1 91.5,493.0 92.4,485.5 93.3,481.3 94.1,477.5 95.0,475.8 95.8,469.8 96.7,469.5 97.6,466.9 98.4,462.7 99.3,460.4 100.1,461.6 101.0,452.8 101.8,452.1 102.7,447.9 103.6,448.3 104.4,441.2 105.3,440.8 106.1,444.1 107.0,440.7 107.9,447.4 108.7,440.1 109.6,439.3 110.4,445.2 111.3,444.3 112.2,448.0 113.0,442.2 113.9,441.6 114.7,446.0 115.6,442.8 116.4,446.7 117.3,442.8 118.2,442.3 119.0,446.5 119.9,444.2 120.7,448.5 121.6,448.7 122.5,452.0 123.3,455.8 124.2,451.8 125.0,452.0 125.9,455.6 126.7,451.2 127.6,460.2 128.5,463.4 129.3,463.6 130.2,459.2 131.0,462.7 131.9,464.6 132.8,469.0 133.6,469.3 134.5,467.8 135.3,469.2" fill="none" stroke="#000" stroke-width="1.0" stroke-linejoin="round" stroke-linecap="round" />
<polyline points="50.3,519.6 51.2,518.3 52.1,519.4 52.9,518.4 53.8,519.2 54.6,518.2 55.5,518.9 56.3,520.4 57.2,520.3 58.1,520.6 58.9,518.6 59.8,519.2 60.6,519.0 61.5,518.6 62.4,516.8 63.2,518.5 64.1,518.0 64.9,518.0 65.8,517.1 66.7,515.5 67.5,516.7 68.4,516.2 69.2,516.5 70.1,516.5 70.9,518.5 71.8,517.2 72.7,515.6 73.5,516.6 74.4,517.5 75.2,515.8 76.1,517.7 77.0,519.3 77.8,520.7 78.7,518.9 79.5,517.8 80.4,518.0 81.2,517.5 82.1,519.4 83.0,518.6 83.8,518.7 84.7,518.5 85.5,518.8 86.4,519.0 87.3,519.8 88.1,521.2 89.0,520.8 89.8,521.2 90.7,519.8 91.5,518.2 92.4,517.3 93.3,517.6 94.1,518.7 95.0,515.1 95.8,507.0 96.7,508.2 97.6,502.5 98.4,496.8 99.3,493.1 100.1,488.6 101.0,486.1 101.8,482.6 102.7,482.3 103.6,475.6 104.4,478.1 105.3,474.4 106.1,473.7 107.0,471.7 107.9,464.0 108.7,464.3 109.6,460.2 110.4,462.6 111.3,458.2 112.2,458.4 113.0,454.6 113.9,450.6 114.7,451.8 115.6,452.1 116.4,453.0 117.3,449.3 118.2,447.5 119.0,450.7 119.9,449.7 120.7,445.2 121.6,447.2 122.5,445.5 123.3,448.6 124.2,449.4 125.0,451.0 125.9,450.7 126.7,453.8 127.6,449.5 128.5,455.4 129.3,449.4 130.2,455.3 131.0,454.5 131.9,456.0 132.8,450.9 133.6,449.9 134.5,455.1 135.3,455.2" fill="none" stroke="#000" stroke-width="1.0" stroke-linejoin="round" stroke-linecap="round" />
<polyline points="50.3,514.9 51.2,514.6 52.1,514.8 52.9,513.8 53.8,514.7 54.6,515.7 55.5,516.2 56.3,516.8 57.2,516.0 58.1,514.4 58.9,516.2 59.8,517.7 60.6,517.1 61.5,516.1 62.4,517.1 63.2,517.6 64.1,518.8 64.9,519.9 65.8,519.0 66.7,517.6 67.5,516.5 68.4,517.6 69.2,518.6 70.1,516.3 70.9,516.0 71.8,516.2 72.7,515.3 73.5,514.5 74.4,514.5 75.2,516.3 76.1,514.9 77.0,516.0 77.8,517.6 78.7,517.7 79.5,517.1 80.4,516.3 81.2,517.3 82.1,516.1 83.0,516.0 83.8,517.1 84.7,515.5 85.5,514.3 86.4,513.0 87.3,512.8 88.1,514.3 89.0,513.5 89.8,512.3 90.7,512.8 91.5,511.8 92.4,510.7 93.3,505.9 94.1,501.5 95.0,503.1 95.8,497.5 96.7,492.9 97.6,489.2 98.4,486.1 99.3,483.3 100.1,481.3 101.0,476.6 101.8,479.8 102.7,476.8 103.6,469.6 104.4,472.0 105.3,469.2 106.1,468.8 107.0,464.5 107.9,459.1 108.7,457.1 109.6,460.3 110.4,457.6 111.3,453.1 112.2,451.8 113.0,453.3 113.9,452.6 114.7,452.4 115.6,455.3 116.4,450.0 117.3,448.1 118.2,446.1 119.0,451.3 119.9,451.9 120.7,452.4 121.6,453.4 122.5,451.6 123.3,452.7 124.2,455.9 125.0,454.2 125.9,455.8 126.7,454.6 127.6,452.8 128.5,456.0 129.3,455.3 130.2,454.0 131.0,456.6 131.9,461.0 132.8,459.0 133.6,459.8 134.5,462.2 135.3,466.4" fill="none" stroke="#000" stroke-width="1.0" stroke-linejoin="round" stroke-linecap="round" />
<polyline points="50.3,516.9 51.2,516.2 52.1,516.7 52.9,517.8 53.8,518.9 54.6,520.0 55.5,518.5 56.3,518.4 57.2,519.4 58.1,517.3 58.9,516.6 59.8,518.3 60.6,517.1 61.5,516.6 62.4,516.7 63.2,516.6 64.1,514.8 64.9,515.6 65.8,515.2 66.7,514.9 67.5,515.7 68.4,516.4 69.2,515.4 70.1,515.1 70.9,515.5 71.8,515.6 72.7,516.8 73.5,515.6 74.4,517.5 75.2,516.8 76.1,516.8 77.0,517.8 77.8,517.2 78.7,516.7 79.5,518.1 80.4,517.8 81.2,518.8 82.1,517.2 83.0,517.6 83.8,518.0 84.7,518.7 85.5,519.9 86.4,521.2 87.3,511.2 88.1,512.4 89.0,507.8 89.8,500.1 90.7,497.7 91.5,497.5 92.4,491.6 93.3,492.0 94.1,484.2 95.0,481.8 95.8,482.8 96.7,476.4 97.6,474.5 98.4,475.1 99.3,468.8 100.1,469.7 101.0,466.6 101.8,458.9 102.7,458.5 103.6,460.1 104.4,456.5 105.3,455.3 106.1,459.4 107.0,459.8 107.9,455.1 108.7,458.7 109.6,457.5 110.4,460.0 111.3,456.2 112.2,457.4 113.0,458.1 113.9,458.7 114.7,459.2 115.6,461.0 116.4,458.6 117.3,463.2 118.2,464.8 119.0,462.3 119.9,462.5 120.7,461.0 121.6,460.1 122.5,462.8 123.3,459.6 124.2,461.8 125.0,460.7 125.9,464.6 126.7,461.0 127.6,460.1 128.5,464.2 129.3,463.0 130.2,460.9 131.0,467.1 131.9,468.2 132.8,466.8 133.6,467.4 134.5,466.3 135.3,466.1" fill="none" stroke="#000" stroke-width="1.0" stroke-linejoin="round" stroke-linecap="round" />
<polyline points="50.3,513.6 51.2,514.0 52.1,513.4 52.9,514.3 53.8,515.7 54.6,515.8 55.5,516.8 56.3,518.2 57.2,518.9 58.1,518.1 58.9,516.3 59.8,517.6 60.6,516.4 61.5,517.4 62.4,516.7 63.2,517.0 64.1,516.6 64.9,515.3 65.8,515.4 66.7,515.6 67.5,514.4 68.4,515.8 69.2,516.1 70.1,514.9 70.9,513.5 71.8,511.8 72.7,513.2 73.5,512.9 74.4,513.9 75.2,513.2 76.1,512.1 77.0,513.9 77.8,514.5 78.7,512.8 79.5,513.6 80.4,513.2 81.2,512.2 82.1,513.5 83.0,512.5 83.8,514.7 84.7,515.2 85.5,516.3 86.4,516.4 87.3,517.0 88.1,518.3 89.0,516.3 89.8,517.1 90.7,516.2 91.5,515.6 92.4,514.0 93.3,512.7 94.1,512.6 95.0,514.1 95.8,513.8 96.7,507.4 97.6,506.0 98.4,500.0 99.3,495.9 100.1,495.3 101.0,493.2 101.8,487.7 102.7,487.9 103.6,479.3 104.4,479.1 105.3,479.2 106.1,472.6 107.0,469.9 107.9,471.2 108.7,468.4 109.6,470.1 110.4,468.3 111.3,470.0 112.2,468.6 113.0,463.9 113.9,462.5 114.7,462.4 115.6,461.8 116.4,460.8 117.3,458.7 118.2,462.3 119.0,461.6 119.9,459.8 120.7,464.3 121.6,466.0 122.5,465.3 123.3,467.0 124.2,471.5 125.0,471.7 125.9,472.1 126.7,468.8 127.6,468.8 128.5,471.5 129.3,469.5 130.2,470.4 131.0,470.0 131.9,473.7 132.8,473.8 133.6,476.2 134.5,476.2 135.3,476.2" fill="none" stroke="#000" stroke-width="1.0" stroke-linejoin="round" stroke-linecap="round" />
<polyline points="50.3,516.1 51.2,517.7 52.1,518.2 52.9,516.2 53.8,517.4 54.6,517.1 55.5,516.2 56.3,516.3 57.2,516.1 58.1,514.5 58.9,513.8 59.8,515.4 60.6,515.9 61.5,516.3 62.4,515.7 63.2,515.2 64.1,516.4 64.9,515.7 65.8,516.2 66.7,518.1 67.5,518.6 68.4,518.6 69.2,519.4 70.1,518.2 70.9,516.0 71.8,514.5 72.7,514.5 73.5,513.5 74.4,514.2 75.2,514.4 76.1,513.3 77.0,515.6 77.8,516.4 78.7,516.9 79.5,517.4 80.4,517.5 81.2,519.0 82.1,517.9 83.0,515.9 83.8,517.0 84.7,518.1 85.5,518.5 86.4,517.0 87.3,517.9 88.1,516.7 89.0,517.9 89.8,517.3 90.7,511.6 91.5,506.6 92.4,502.8 93.3,496.5 94.1,494.9 95.0,489.4 95.8,489.2 96.7,484.5 97.6,481.2 98.4,475.8 99.3,475.1 100.1,474.4 101.0,475.2 101.8,473.5 102.7,469.2 103.6,466.6 104.4,469.4 105.3,466.2 106.1,462.2 107.0,466.4 107.9,466.2 108.7,469.4 109.6,467.2 110.4,465.8 111.3,464.8 112.2,467.0 113.0,468.7 113.9,471.2 114.7,472.0 115.6,470.8 116.4,468.0 117.3,471.0 118.2,469.9 119.0,473.4 119.9,472.1 120.7,474.9 121.6,472.8 122.5,479.2 123.3,476.0 124.2,477.6 125.0,475.1 125.9,481.1 126.7,480.3 127.6,483.8 128.5,484.7 129.3,483.6 130.2,483.0 131.0,482.5 131.9,486.9 132.8,485.9 133.6,482.8 134.5,487.5 135.3,491.0" fill="none" stroke="#000" stroke-width="1.0" stroke-linejoin="round" stroke-linecap="round" />
<polyline points="50.3,516.6 51.2,515.8 52.1,515.8 52.9,514.4 53.8,515.7 54.6,517.5 55.5,517.1 56.3,517.9 57.2,515.9 58.1,514.5 58.9,514.3 59.8,513.6 60.6,515.2 61.5,515.6 62.4,516.3 63.2,517.0 64.1,517.5 64.9,517.5 65.8,516.8 66.7,518.6 67.5,518.1 68.4,519.3 69.2,517.1 70.1,516.8 70.9,516.5 71.8,517.3 72.7,516.5 73.5,515.8 74.4,514.5 75.2,514.7 76.1,516.0 77.0,515.7 77.8,517.6 78.7,516.6 79.5,517.4 80.4,516.5 81.2,518.0 82.1,517.4 83.0,518.5 83.8,520.0 84.7,520.3 85.5,518.3 86.4,516.9 87.3,509.1 88.1,507.4 89.0,502.1 89.8,500.7 90.7,497.4 91.5,492.6 92.4,490.3 93.3,487.3 94.1,485.2 95.0,481.5 95.8,480.0 96.7,476.8 97.6,474.1 98.4,477.0 99.3,475.3 100.1,475.0 101.0,470.3 101.8,469.3 102.7,470.3 103.6,469.7 104.4,469.3 105.3,468.5 106.1,470.0 107.0,469.4 107.9,468.0 108.7,466.1 109.6,469.4 110.4,469.1 111.3,469.6 112.2,473.1 113.0,473.0 113.9,471.7 114.7,473.6 115.6,474.2 116.4,472.9 117.3,472.7 118.2,473.1 119.0,476.9 119.9,472.7 120.7,473.4 121.6,472.3 122.5,477.7 123.3,476.6 124.2,477.8 125.0,475.5 125.9,478.7 126.7,476.7 127.6,475.9 128.5,475.0 129.3,472.4 130.2,474.0 131.0,475.1 131.9,475.1 132.8,475.0 133.6,475.4 134.5,474.8 135.3,476.0" fill="none" stroke="#000" stroke-width="1.0" stroke-linejoin="round" stroke-linecap="round" />
<polyline points="50.3,516.0 51.2,515.2 52.1,514.2 52.9,514.1 53.8,516.2 54.6,515.4 55.5,517.3 56.3,517.7 57.2,518.7 58.1,517.1 58.9,518.0 59.8,516.7 60.6,518.1 61.5,518.7 62.4,517.3 63.2,515.3 64.1,517.0 64.9,516.3 65.8,516.5 66.7,515.8 67.5,517.4 68.4,518.8 69.2,519.7 70.1,517.4 70.9,517.1 71.8,516.3 72.7,517.6 73.5,516.5 74.4,514.8 75.2,516.0 76.1,514.9 77.0,513.7 77.8,512.2 78.7,512.6 79.5,512.7 80.4,513.8 81.2,513.1 82.1,514.3 83.0,514.1 83.8,513.9 84.7,512.4 85.5,511.9 86.4,514.2 87.3,515.6 88.1,516.2 89.0,513.1 89.8,512.0 90.7,510.6 91.5,507.0 92.4,504.3 93.3,498.8 94.1,499.9 95.0,494.7 95.8,494.2 96.7,495.2 97.6,491.5 98.4,488.4 99.3,485.2 100.1,484.7 101.0,486.0 101.8,483.5 102.7,482.1 103.6,481.2 104.4,481.6 105.3,480.9 106.1,479.4 107.0,475.1 107.9,477.1 108.7,475.1 109.6,474.3 110.4,476.6 111.3,477.2 112.2,475.4 113.0,478.6 113.9,477.0 114.7,477.5 115.6,479.8 116.4,477.7 117.3,479.3 118.2,479.2 119.0,479.6 119.9,477.9 120.7,476.4 121.6,475.4 122.5,477.4 123.3,480.7 124.2,479.1 125.0,478.4 125.9,483.1 126.7,482.6 127.6,484.9 128.5,483.5 129.3,488.6 130.2,488.8 131.0,486.1 131.9,484.7 132.8,489.9 133.6,487.7 134.5,489.8 135.3,487.5" fill="none" stroke="#000" stroke-width="1.0" stroke-linejoin="round" stroke-linecap="round" />
<polyline points="50.3,520.0 51.2,521.2 52.1,521.1 52.9,521.3 53.8,519.5 54.6,520.1 55.5,521.7 56.3,522.7 57.2,520.9 58.1,519.8 58.9,521.4 59.8,519.6 60.6,520.4 61.5,519.8 62.4,519.8 63.2,518.8 64.1,519.3 64.9,521.4 65.8,521.2 66.7,519.9 67.5,520.5 68.4,519.4 69.2,520.0 70.1,520.8 70.9,521.4 71.8,522.4 72.7,522.2 73.5,520.2 74.4,520.1 75.2,519.3 76.1,520.9 77.0,521.5 77.8,521.1 78.7,521.6 79.5,523.4 80.4,521.6 81.2,522.9 82.1,522.0 83.0,520.0 83.8,521.1 84.7,522.0 85.5,522.4 86.4,522.1 87.3,520.1 88.1,521.7 89.0,522.5 89.8,520.8 90.7,521.7 91.5,521.0 92.4,520.2 93.3,522.3 94.1,523.9 95.0,522.4 95.8,517.9 96.7,518.2 97.6,516.0 98.4,515.1 99.3,511.3 100.1,511.1 101.0,511.4 101.8,506.9 102.7,507.2 103.6,505.2 104.4,502.0 105.3,500.7 106.1,497.3 107.0,497.1 107.9,496.1 108.7,494.3 109.6,495.7 110.4,494.8 111.3,492.9 112.2,491.3 113.0,489.4 113.9,490.4 114.7,488.1 115.6,489.0 116.4,487.4 117.3,487.3 118.2,485.8 119.0,479.9 119.9,483.1 120.7,479.4 121.6,481.7 122.5,482.4 123.3,481.5 124.2,481.3 125.0,481.1 125.9,482.1 126.7,481.0 127.6,478.9 128.5,476.6 129.3,479.3 130.2,476.5 131.0,477.0 131.9,475.7 132.8,478.9 133.6,480.2 134.5,479.9 135.3,478.9" fill="none" stroke="#000" stroke-width="1.0" stroke-linejoin="round" stroke-linecap="round" />
<polyline points="50.3,520.2 51.2,520.7 52.1,519.3 52.9,520.6 53.8,518.7 54.6,517.2 55.5,516.5 56.3,518.0 57.2,519.0 58.1,519.1 58.9,518.6 59.8,517.1 60.6,519.3 61.5,520.8 62.4,519.2 63.2,520.9 64.1,519.1 64.9,520.2 65.8,518.2 66.7,518.4 67.5,518.1 68.4,517.1 69.2,516.2 70.1,517.1 70.9,517.6 71.8,516.8 72.7,518.1 73.5,519.0 74.4,517.6 75.2,516.4 76.1,515.7 77.0,516.9 77.8,517.9 78.7,519.6 79.5,518.2 80.4,520.1 81.2,521.0 82.1,522.4 83.0,521.9 83.8,519.4 84.7,520.9 85.5,521.5 86.4,521.8 87.3,520.5 88.1,520.7 89.0,521.6 89.8,520.3 90.7,518.6 91.5,519.9 92.4,521.3 93.3,517.6 94.1,517.9 95.0,511.3 95.8,510.4 96.7,506.7 97.6,505.5 98.4,500.5 99.3,495.7 100.1,495.9 101.0,491.9 101.8,491.3 102.7,486.5 103.6,486.3 104.4,485.7 105.3,485.2 106.1,486.4 107.0,484.6 107.9,484.2 108.7,482.7 109.6,484.9 110.4,483.1 111.3,482.1 112.2,482.3 113.0,479.7 113.9,481.8 114.7,479.0 115.6,481.4 116.4,482.7 117.3,486.6 118.2,483.7 119.0,485.3 119.9,483.3 120.7,488.1 121.6,483.7 122.5,488.1 123.3,487.7 124.2,489.4 125.0,488.4 125.9,488.0 126.7,484.8 127.6,486.6 128.5,488.1 129.3,486.0 130.2,485.4 131.0,489.9 131.9,490.4 132.8,491.5 133.6,489.5 134.5,492.7 135.3,491.4" fill="none" stroke="#000" stroke-width="1.0" stroke-linejoin="round" stroke-linecap="round" />
<polyline points="50.3,520.0 51.2,520.0 52.1,518.5 52.9,519.0 53.8,517.2 54.6,518.1 55.5,518.2 56.3,517.3 57.2,516.0 58.1,515.2 58.9,516.2 59.8,516.8 60.6,518.6 61.5,518.4 62.4,517.3 63.2,518.7 64.1,519.4 64.9,520.8 65.8,520.6 66.7,520.2 67.5,518.1 68.4,517.5 69.2,516.2 70.1,517.8 70.9,518.2 71.8,517.5 72.7,519.3 73.5,518.9 74.4,518.4 75.2,520.2 76.1,521.0 77.0,519.4 77.8,520.5 78.7,519.6 79.5,519.7 80.4,519.9 81.2,518.2 82.1,518.7 83.0,517.2 83.8,516.3 84.7,516.6 85.5,518.5 86.4,516.2 87.3,516.3 88.1,514.9 89.0,511.7 89.8,511.8 90.7,507.6 91.5,504.8 92.4,504.6 93.3,502.4 94.1,500.3 95.0,501.1 95.8,497.2 96.7,498.5 97.6,495.8 98.4,495.7 99.3,495.8 100.1,492.3 101.0,491.1 101.8,493.2 102.7,489.6 103.6,487.9 104.4,486.0 105.3,488.5 106.1,489.8 107.0,485.7 107.9,484.4 108.7,485.5 109.6,488.8 110.4,489.3 111.3,488.4 112.2,490.5 113.0,490.8 113.9,489.1 114.7,487.5 115.6,486.4 116.4,489.1 117.3,490.1 118.2,489.9 119.0,491.0 119.9,491.0 120.7,489.2 121.6,491.0 122.5,490.5 123.3,489.5 124.2,490.5 125.0,491.9 125.9,493.8 126.7,491.8 127.6,494.0 128.5,491.5 129.3,492.4 130.2,493.2 131.0,494.8 131.9,496.3 132.8,495.2 133.6,495.0 134.5,497.5 135.3,496.7" fill="none" stroke="#000" stroke-width="1.0" stroke-linejoin="round" stroke-linecap="round" />
<polyline points="50.3,512.6 51.2,512.9 52.1,514.2 52.9,513.2 53.8,514.5 54.6,516.1 55.5,516.2 56.3,514.9 57.2,514.3 58.1,514.6 58.9,515.9 59.8,516.8 60.6,515.9 61.5,515.6 62.4,515.2 63.2,514.1 64.1,513.9 64.9,512.6 65.8,511.3 66.7,511.8 67.5,512.8 68.4,513.1 69.2,514.3 70.1,515.5 70.9,514.4 71.8,514.6 72.7,516.3 73.5,516.3 74.4,516.6 75.2,517.8 76.1,518.9 77.0,517.5 77.8,515.7 78.7,514.2 79.5,513.8 80.4,514.9 81.2,514.3 82.1,515.1 83.0,516.0 83.8,516.3 84.7,517.2 85.5,518.1 86.4,516.5 87.3,511.4 88.1,511.0 89.0,509.3 89.8,507.9 90.7,506.6 91.5,506.7 92.4,505.5 93.3,507.0 94.1,504.5 95.0,505.9 95.8,504.2 96.7,506.0 97.6,504.8 98.4,503.5 99.3,500.4 100.1,499.2 101.0,499.6 101.8,497.8 102.7,495.9 103.6,493.6 104.4,494.1 105.3,494.2 106.1,492.5 107.0,490.1 107.9,489.3 108.7,489.9 109.6,491.9 110.4,491.6 111.3,492.9 112.2,489.7 113.0,490.3 113.9,490.8 114.7,490.9 115.6,491.0 116.4,491.3 117.3,489.5 118.2,490.5 119.0,489.6 119.9,491.6 120.7,492.6 121.6,490.6 122.5,490.7 123.3,494.3 124.2,495.8 125.0,493.1 125.9,496.0 126.7,495.0 127.6,498.1 128.5,500.1 129.3,500.6 130.2,499.9 131.0,500.8 131.9,501.0 132.8,502.0 133.6,502.7 134.5,503.8 135.3,504.7" fill="none" stroke="#000" stroke-width="1.0" stroke-linejoin="round" stroke-linecap="round" />
<polyline points="50.3,521.7 51.2,521.6 52.1,522.8 52.9,522.4 53.8,520.9 54.6,521.7 55.5,520.3 56.3,521.2 57.2,519.9 58.1,521.6 58.9,522.8 59.8,524.1 60.6,523.1 61.5,524.3 62.4,522.8 63.2,522.7 64.1,520.7 64.9,521.1 65.8,519.7 66.7,518.9 67.5,519.7 68.4,518.8 69.2,518.8 70.1,518.8 70.9,519.4 71.8,520.9 72.7,520.8 73.5,520.6 74.4,520.9 75.2,519.0 76.1,520.5 77.0,519.0 77.8,519.1 78.7,520.9 79.5,520.6 80.4,521.7 81.2,521.5 82.1,521.4 83.0,520.2 83.8,518.7 84.7,520.7 85.5,519.2 86.4,517.8 87.3,519.7 88.1,521.4 89.0,521.4 89.8,523.0 90.7,523.9 91.5,523.2 92.4,523.7 93.3,522.7 94.1,523.4 95.0,521.8 95.8,521.2 96.7,516.7 97.6,517.5 98.4,517.0 99.3,516.1 100.1,513.7 101.0,510.8 101.8,508.1 102.7,509.8 103.6,507.6 104.4,508.3 105.3,506.0 106.1,506.1 107.0,505.9 107.9,503.0 108.7,501.9 109.6,501.9 110.4,500.7 111.3,500.3 112.2,501.4 113.0,500.4 113.9,500.2 114.7,499.2 115.6,496.9 116.4,495.9 117.3,495.9 118.2,497.7 119.0,497.2 119.9,494.6 120.7,494.4 121.6,495.7 122.5,496.3 123.3,494.5 124.2,494.9 125.0,495.0 125.9,495.8 126.7,493.9 127.6,497.1 128.5,495.7 129.3,496.7 130.2,498.7 131.0,500.4 131.9,499.2 132.8,498.2 133.6,500.8 134.5,501.6 135.3,502.2" fill="none" stroke="#000" stroke-width="1.0" stroke-linejoin="round" stroke-linecap="round" />
<polyline points="50.3,519.6 51.2,519.9 52.1,520.7 52.9,521.3 53.8,521.2 54.6,521.8 55.5,521.5 56.3,520.9 57.2,522.6 58.1,523.2 58.9,522.6 59.8,521.5 60.6,521.0 61.5,520.0 62.4,520.3 63.2,518.8 64.1,518.1 64.9,518.6 65.8,518.7 66.7,517.9 67.5,519.2 68.4,520.3 69.2,520.3 70.1,520.3 70.9,522.0 71.8,521.7 72.7,519.9 73.5,518.6 74.4,518.8 75.2,518.4 76.1,519.3 77.0,521.1 77.8,519.8 78.7,519.8 79.5,519.5 80.4,519.3 81.2,517.7 82.1,519.0 83.0,519.0 83.8,518.4 84.7,518.1 85.5,517.1 86.4,519.5 87.3,518.5 88.1,520.7 89.0,521.3 89.8,521.7 90.7,519.0 91.5,517.9 92.4,517.0 93.3,515.3 94.1,516.0 95.0,515.5 95.8,514.5 96.7,511.0 97.6,510.2 98.4,509.3 99.3,507.4 100.1,507.8 101.0,505.5 101.8,503.3 102.7,504.0 103.6,501.5 104.4,500.3 105.3,498.3 106.1,500.0 107.0,500.2 107.9,499.5 108.7,499.8 109.6,497.8 110.4,497.2 111.3,496.2 112.2,494.0 113.0,497.0 113.9,494.7 114.7,494.7 115.6,494.4 116.4,494.6 117.3,496.5 118.2,495.4 119.0,495.4 119.9,495.3 120.7,496.1 121.6,497.9 122.5,497.8 123.3,498.0 124.2,496.7 125.0,496.8 125.9,496.9 126.7,496.7 127.6,495.8 128.5,495.6 129.3,496.5 130.2,497.0 131.0,497.8 131.9,500.7 132.8,501.8 133.6,502.6 134.5,502.8 135.3,504.2" fill="none" stroke="#000" stroke-width="1.0" stroke-linejoin="round" stroke-linecap="round" />
<polyline points="50.3,515.2 51.2,515.8 52.1,514.1 52.9,513.7 53.8,515.7 54.6,517.2 55.5,516.9 56.3,515.5 57.2,515.7 58.1,515.5 58.9,516.8 59.8,516.1 60.6,516.2 61.5,516.5 62.4,517.4 63.2,516.6 64.1,515.1 64.9,515.0 65.8,514.6 66.7,514.5 67.5,513.9 68.4,513.4 69.2,515.6 70.1,513.8 70.9,514.1 71.8,516.0 72.7,515.0 73.5,514.0 74.4,514.8 75.2,514.5 76.1,516.4 77.0,515.2 77.8,514.6 78.7,513.5 79.5,514.0 80.4,512.6 81.2,513.5 82.1,515.7 83.0,517.1 83.8,517.4 84.7,518.0 85.5,518.4 86.4,519.3 87.3,517.9 88.1,515.9 89.0,514.2 89.8,514.9 90.7,515.0 91.5,514.9 92.4,514.6 93.3,513.8 94.1,514.4 95.0,516.3 95.8,516.8 96.7,518.3 97.6,517.0 98.4,514.9 99.3,514.7 100.1,513.0 101.0,511.4 101.8,510.6 102.7,510.7 103.6,509.1 104.4,508.8 105.3,511.5 106.1,508.2 107.0,509.9 107.9,507.3 108.7,504.7 109.6,505.3 110.4,503.3 111.3,504.0 112.2,504.8 113.0,504.1 113.9,502.3 114.7,499.2 115.6,501.1 116.4,501.1 117.3,500.9 118.2,498.7 119.0,499.4 119.9,500.4 120.7,498.6 121.6,498.6 122.5,496.0 123.3,496.7 124.2,496.6 125.0,496.6 125.9,496.0 126.7,494.1 127.6,495.1 128.5,496.1 129.3,498.5 130.2,499.8 131.0,501.8 131.9,499.9 132.8,500.1 133.6,501.5 134.5,502.1 135.3,505.0" fill="none" stroke="#000" stroke-width="1.0" stroke-linejoin="round" stroke-linecap="round" />
<polyline points="50.3,521.9 51.2,523.4 52.1,523.2 52.9,521.6 53.8,522.7 54.6,523.1 55.5,523.2 56.3,523.7 57.2,521.7 58.1,520.3 58.9,521.8 59.8,520.9 60.6,519.4 61.5,521.4 62.4,521.7 63.2,523.2 64.1,523.4 64.9,524.3 65.8,523.7 66.7,524.2 67.5,522.6 68.4,522.7 69.2,523.8 70.1,523.0 70.9,522.7 71.8,521.4 72.7,520.3 73.5,521.3 74.4,521.6 75.2,520.6 76.1,518.8 77.0,519.0 77.8,518.9 78.7,519.9 79.5,520.3 80.4,521.0 81.2,521.0 82.1,521.7 83.0,522.2 83.8,523.6 84.7,524.6 85.5,522.4 86.4,522.6 87.3,520.5 88.1,521.5 89.0,521.8 89.8,520.1 90.7,520.4 91.5,519.8 92.4,518.9 93.3,519.7 94.1,521.0 95.0,522.8 95.8,521.0 96.7,518.7 97.6,515.1 98.4,514.9 99.3,512.9 100.1,514.2 101.0,512.8 101.8,509.0 102.7,507.5 103.6,505.3 104.4,505.1 105.3,506.0 106.1,506.8 107.0,505.7 107.9,503.7 108.7,503.3 109.6,504.4 110.4,503.9 111.3,502.4 112.2,501.6 113.0,502.3 113.9,503.4 114.7,502.3 115.6,500.6 116.4,500.6 117.3,501.8 118.2,500.3 119.0,501.6 119.9,504.5 120.7,503.6 121.6,504.3 122.5,504.9 123.3,504.2 124.2,503.3 125.0,501.4 125.9,501.7 126.7,500.7 127.6,502.7 128.5,502.2 129.3,501.7 130.2,503.5 131.0,504.0 131.9,503.9 132.8,503.9 133.6,501.9 134.5,504.2 135.3,503.3" fill="none" stroke="#000" stroke-width="1.0" stroke-linejoin="round" stroke-linecap="round" />
<polyline points="50.3,515.9 51.2,517.0 52.1,517.2 52.9,515.7 53.8,516.7 54.6,516.5 55.5,516.3 56.3,514.9 57.2,514.1 58.1,513.5 58.9,514.6 59.8,514.1 60.6,513.1 61.5,515.3 62.4,514.7 63.2,515.2 64.1,515.8 64.9,515.4 65.8,514.4 66.7,513.3 67.5,512.8 68.4,511.9 69.2,511.4 70.1,512.4 70.9,512.5 71.8,511.7 72.7,512.3 73.5,514.7 74.4,515.4 75.2,514.9 76.1,517.0 77.0,518.4 77.8,516.7 78.7,515.9 79.5,517.8 80.4,516.5 81.2,516.0 82.1,516.6 83.0,516.0 83.8,517.6 84.7,518.7 85.5,517.5 86.4,516.6 87.3,516.1 88.1,516.4 89.0,517.5 89.8,518.7 90.7,516.6 91.5,517.3 92.4,517.5 93.3,517.2 94.1,518.9 95.0,519.1 95.8,519.7 96.7,520.5 97.6,517.6 98.4,516.3 99.3,512.6 100.1,510.9 101.0,510.1 101.8,507.2 102.7,505.0 103.6,506.2 104.4,504.3 105.3,503.9 106.1,505.7 107.0,504.4 107.9,503.9 108.7,504.5 109.6,504.6 110.4,505.0 111.3,506.4 112.2,507.0 113.0,508.2 113.9,508.4 114.7,508.1 115.6,505.7 116.4,508.3 117.3,506.5 118.2,507.7 119.0,508.2 119.9,506.4 120.7,505.6 121.6,504.5 122.5,507.2 123.3,505.4 124.2,507.4 125.0,507.2 125.9,507.7 126.7,508.6 127.6,508.5 128.5,510.5 129.3,509.1 130.2,508.3 131.0,510.0 131.9,510.2 132.8,511.3 133.6,511.1 134.5,511.0 135.3,511.1" fill="none" stroke="#000" stroke-width="1.0" stroke-linejoin="round" stroke-linecap="round" />
<polyline points="50.3,514.4 51.2,515.4 52.1,516.0 52.9,516.8 53.8,518.2 54.6,519.3 55.5,520.2 56.3,520.4 57.2,520.1 58.1,519.6 58.9,518.9 59.8,517.0 60.6,517.2 61.5,517.0 62.4,515.6 63.2,515.8 64.1,515.0 64.9,513.3 65.8,512.3 66.7,513.8 67.5,512.9 68.4,511.9 69.2,513.6 70.1,515.4 70.9,514.6 71.8,514.2 72.7,515.6 73.5,513.8 74.4,514.3 75.2,512.8 76.1,513.3 77.0,513.0 77.8,514.9 78.7,513.9 79.5,514.5 80.4,515.7 81.2,516.0 82.1,515.3 83.0,514.0 83.8,513.3 84.7,512.2 85.5,511.9 86.4,513.1 87.3,514.9 88.1,513.5 89.0,514.2 89.8,512.1 90.7,511.2 91.5,512.7 92.4,512.4 93.3,512.1 94.1,513.9 95.0,514.0 95.8,514.2 96.7,514.5 97.6,511.7 98.4,510.8 99.3,510.1 100.1,511.4 101.0,512.2 101.8,511.9 102.7,511.7 103.6,510.7 104.4,510.5 105.3,511.1 106.1,511.3 107.0,508.9 107.9,509.8 108.7,509.8 109.6,508.7 110.4,507.0 111.3,505.3 112.2,507.3 113.0,508.0 113.9,506.4 114.7,507.4 115.6,505.9 116.4,506.7 117.3,506.4 118.2,508.3 119.0,506.8 119.9,505.5 120.7,507.6 121.6,506.8 122.5,506.8 123.3,505.8 124.2,505.6 125.0,506.0 125.9,507.9 126.7,508.7 127.6,510.8 128.5,512.2 129.3,513.6 130.2,511.5 131.0,513.0 131.9,514.3 132.8,515.8 133.6,513.3 134.5,512.3 135.3,514.0" fill="none" stroke="#000" stroke-width="1.0" stroke-linejoin="round" stroke-linecap="round" />
<polyline points="50.3,515.9 51.2,515.7 52.1,516.5 52.9,516.9 53.8,516.1 54.6,516.4 55.5,517.3 56.3,517.6 57.2,518.9 58.1,518.7 58.9,516.4 59.8,516.0 60.6,516.8 61.5,516.6 62.4,516.3 63.2,517.4 64.1,516.9 64.9,517.5 65.8,518.5 66.7,518.9 67.5,518.9 68.4,517.4 69.2,518.7 70.1,518.1 70.9,517.3 71.8,515.6 72.7,516.9 73.5,515.6 74.4,516.2 75.2,517.4 76.1,516.4 77.0,515.4 77.8,513.6 78.7,514.9 79.5,514.2 80.4,512.8 81.2,513.2 82.1,512.9 83.0,514.9 83.8,515.8 84.7,516.1 85.5,517.2 86.4,518.3 87.3,518.2 88.1,517.1 89.0,516.8 89.8,516.4 90.7,516.2 91.5,515.1 92.4,514.3 93.3,515.2 94.1,516.7 95.0,517.8 95.8,517.7 96.7,516.5 97.6,516.6 98.4,515.1 99.3,514.4 100.1,515.2 101.0,516.2 101.8,516.5 102.7,514.7 103.6,515.8 104.4,513.9 105.3,514.5 106.1,514.0 107.0,513.7 107.9,513.4 108.7,513.3 109.6,514.2 110.4,514.1 111.3,513.5 112.2,513.5 113.0,513.9 113.9,513.9 114.7,512.5 115.6,512.3 116.4,513.6 117.3,511.5 118.2,511.0 119.0,509.9 119.9,511.1 120.7,510.0 121.6,511.9 122.5,510.3 123.3,509.1 124.2,508.0 125.0,507.4 125.9,509.5 126.7,508.7 127.6,510.6 128.5,508.5 129.3,509.1 130.2,510.7 131.0,510.3 131.9,511.9 132.8,513.7 133.6,514.8 134.5,514.5 135.3,514.0" fill="none" stroke="#000" stroke-width="1.0" stroke-linejoin="round" stroke-linecap="round" />
<polyline points="50.3,514.2 51.2,513.4 52.1,514.8 52.9,516.2 53.8,515.0 54.6,516.1 55.5,516.0 56.3,516.1 57.2,515.6 58.1,513.9 58.9,515.2 59.8,516.8 60.6,515.5 61.5,516.5 62.4,516.1 63.2,516.8 64.1,515.1 64.9,514.7 65.8,513.6 66.7,514.5 67.5,515.8 68.4,515.1 69.2,516.3 70.1,517.8 70.9,515.4 71.8,514.1 72.7,515.9 73.5,516.1 74.4,517.5 75.2,518.7 76.1,517.7 77.0,516.1 77.8,514.2 78.7,513.0 79.5,513.8 80.4,515.9 81.2,515.2 82.1,515.3 83.0,516.7 83.8,517.4 84.7,518.3 85.5,516.1 86.4,516.6 87.3,514.6 88.1,514.5 89.0,513.8 89.8,513.1 90.7,514.6 91.5,513.4 92.4,512.2 93.3,514.3 94.1,515.1 95.0,513.8 95.8,513.9 96.7,513.6 97.6,514.0 98.4,513.6 99.3,513.9 100.1,514.9 101.0,515.5 101.8,513.2 102.7,514.6 103.6,514.1 104.4,515.7 105.3,513.7 106.1,515.1 107.0,515.5 107.9,514.5 108.7,514.8 109.6,514.8 110.4,513.0 111.3,513.1 112.2,512.8 113.0,511.1 113.9,509.7 114.7,509.0 115.6,511.2 116.4,511.5 117.3,509.4 118.2,509.9 119.0,509.0 119.9,507.7 120.7,507.5 121.6,508.2 122.5,509.4 123.3,509.9 124.2,510.1 125.0,510.0 125.9,509.0 126.7,510.4 127.6,511.2 128.5,513.0 129.3,513.4 130.2,513.7 131.0,511.9 131.9,513.3 132.8,514.2 133.6,515.1 134.5,515.6 135.3,516.4" fill="none" stroke="#000" stroke-width="1.0" stroke-linejoin="round" stroke-linecap="round" />
<polyline points="50.3,521.4 51.2,522.6 52.1,522.2 52.9,521.3 53.8,521.0 54.6,520.0 55.5,518.8 56.3,518.1 57.2,518.9 58.1,518.7 58.9,518.7 59.8,518.3 60.6,517.8 61.5,517.1 62.4,517.9 63.2,517.4 64.1,518.2 64.9,517.4 65.8,518.2 66.7,517.4 67.5,519.4 68.4,518.0 69.2,520.2 70.1,518.4 70.9,517.9 71.8,520.0 72.7,520.8 73.5,521.7 74.4,521.7 75.2,522.5 76.1,523.4 77.0,522.7 77.8,521.4 78.7,521.9 79.5,523.3 80.4,524.4 81.2,525.5 82.1,522.7 83.0,521.5 83.8,522.3 84.7,520.5 85.5,522.4 86.4,520.3 87.3,522.2 88.1,523.0 89.0,524.1 89.8,522.4 90.7,523.1 91.5,523.0 92.4,523.0 93.3,522.2 94.1,520.7 95.0,520.3 95.8,521.8 96.7,523.2 97.6,522.0 98.4,521.9 99.3,521.7 100.1,522.7 101.0,520.0 101.8,520.3 102.7,518.2 103.6,518.6 104.4,519.1 105.3,517.0 106.1,514.9 107.0,514.8 107.9,515.3 108.7,516.6 109.6,516.5 110.4,516.6 111.3,516.9 112.2,515.5 113.0,515.2 113.9,515.3 114.7,514.5 115.6,515.5 116.4,515.4 117.3,514.1 118.2,514.4 119.0,514.7 119.9,516.2 120.7,516.4 121.6,515.1 122.5,514.9 123.3,515.3 124.2,513.6 125.0,514.2 125.9,512.9 126.7,511.7 127.6,511.2 128.5,510.5 129.3,511.5 130.2,512.1 131.0,514.3 131.9,513.8 132.8,514.9 133.6,516.9 134.5,515.9 135.3,515.8" fill="none" stroke="#000" stroke-width="1.0" stroke-linejoin="round" stroke-linecap="round" />
<polyline points="50.3,519.6 51.2,521.8 52.1,523.2 52.9,521.9 53.8,521.6 54.6,522.9 55.5,521.2 56.3,522.6 57.2,522.5 58.1,521.6 58.9,520.4 59.8,519.8 60.6,520.1 61.5,521.7 62.4,522.6 63.2,522.1 64.1,521.9 64.9,522.5 65.8,520.4 66.7,519.6 67.5,518.3 68.4,520.0 69.2,518.5 70.1,517.4 70.9,518.0 71.8,517.0 72.7,516.1 73.5,515.5 74.4,517.6 75.2,519.4 76.1,521.5 77.0,519.9 77.8,521.5 78.7,521.5 79.5,523.2 80.4,521.8 81.2,520.3 82.1,518.9 83.0,520.2 83.8,521.6 84.7,520.7 85.5,520.7 86.4,522.2 87.3,521.6 88.1,521.9 89.0,521.0 89.8,520.2 90.7,520.9 91.5,522.1 92.4,523.6 93.3,521.6 94.1,523.4 95.0,522.5 95.8,521.6 96.7,519.8 97.6,519.5 98.4,518.0 99.3,516.6 100.1,517.2 101.0,518.1 101.8,518.0 102.7,516.4 103.6,516.6 104.4,516.7 105.3,515.4 106.1,517.5 107.0,518.1 107.9,518.5 108.7,519.2 109.6,518.2 110.4,518.3 111.3,518.1 112.2,517.1 113.0,517.3 113.9,517.5 114.7,516.3 115.6,517.3 116.4,515.9 117.3,514.9 118.2,516.9 119.0,516.1 119.9,514.6 120.7,513.8 121.6,513.3 122.5,514.4 123.3,513.2 124.2,514.9 125.0,513.9 125.9,512.8 126.7,515.0 127.6,516.6 128.5,517.6 129.3,515.7 130.2,516.5 131.0,517.0 131.9,516.3 132.8,516.9 133.6,517.9 134.5,519.6 135.3,518.4" fill="none" stroke="#000" stroke-width="1.0" stroke-linejoin="round" stroke-linecap="round" />
<polyline points="50.3,517.1 51.2,517.0 52.1,518.5 52.9,519.1 53.8,516.2 54.6,517.4 55.5,516.8 56.3,516.4 57.2,518.6 58.1,519.1 58.9,516.5 59.8,517.1 60.6,517.8 61.5,519.0 62.4,516.8 63.2,519.3 64.1,516.8 64.9,516.3 65.8,518.1 66.7,518.3 67.5,516.7 68.4,519.0 69.2,518.5 70.1,516.6 70.9,518.4 71.8,517.3 72.7,517.4 73.5,517.1 74.4,518.6 75.2,518.3 76.1,518.1 77.0,516.3 77.8,518.9 78.7,517.1 79.5,516.8 80.4,516.2 81.2,518.9 82.1,518.9 83.0,517.5 83.8,516.7 84.7,450.6 85.5,476.2 86.4,474.8 87.3,487.1 88.1,485.0 89.0,463.0 89.8,475.6 90.7,477.7 91.5,477.0 92.4,473.1 93.3,472.0 94.1,472.7 95.0,469.8 95.8,470.3 96.7,469.4 97.6,468.6 98.4,464.8 99.3,466.5 100.1,464.3 101.0,461.5 101.8,463.1 102.7,458.4 103.6,459.9 104.4,458.4 105.3,456.5 106.1,457.3 107.0,453.9 107.9,452.6 108.7,452.4 109.6,450.9 110.4,451.7 111.3,449.2 112.2,447.6 113.0,449.6 113.9,450.2 114.7,451.3 115.6,450.7 116.4,451.1 117.3,450.8 118.2,451.6 119.0,453.8 119.9,454.6 120.7,453.5 121.6,453.8 122.5,456.3 123.3,456.3 124.2,458.9 125.0,459.8 125.9,458.3 126.7,458.7 127.6,459.8 128.5,460.3 129.3,461.9 130.2,463.4 131.0,465.1 131.9,462.8 132.8,463.8 133.6,467.1 134.5,463.9 135.3,465.1 136.0,528.4" fill="none" stroke="#000" stroke-width="1.0" stroke-linejoin="round" stroke-linecap="round" />
<line x1="45.80" y1="410.00" x2="45.80" y2="544.90" stroke="#000" stroke-width="1.0" />
<line x1="45.40" y1="544.50" x2="136.60" y2="544.50" stroke="#000" stroke-width="1.0" />
<line x1="43.20" y1="410.30" x2="45.80" y2="410.30" stroke="#000" stroke-width="1.0" />
<text x="42.60" y="414.60" font-size="12" text-anchor="end" fill="#000" font-weight="normal" >400</text>
<line x1="43.20" y1="437.15" x2="45.80" y2="437.15" stroke="#000" stroke-width="1.0" />
<text x="42.60" y="441.45" font-size="12" text-anchor="end" fill="#000" font-weight="normal" >300</text>
<line x1="43.20" y1="464.00" x2="45.80" y2="464.00" stroke="#000" stroke-width="1.0" />
<text x="42.60" y="468.30" font-size="12" text-anchor="end" fill="#000" font-weight="normal" >200</text>
<line x1="43.20" y1="490.85" x2="45.80" y2="490.85" stroke="#000" stroke-width="1.0" />
<text x="42.60" y="495.15" font-size="12" text-anchor="end" fill="#000" font-weight="normal" >100</text>
<line x1="43.20" y1="517.70" x2="45.80" y2="517.70" stroke="#000" stroke-width="1.0" />
<text x="42.60" y="522.00" font-size="12" text-anchor="end" fill="#000" font-weight="normal" >0</text>
<line x1="43.20" y1="544.55" x2="45.80" y2="544.55" stroke="#000" stroke-width="1.0" />
<text x="42.60" y="548.85" font-size="12" text-anchor="end" fill="#000" font-weight="normal" >-100</text>
<line x1="47.00" y1="544.50" x2="47.00" y2="547.20" stroke="#000" stroke-width="1.0" />
<text x="47.00" y="561.70" font-size="12.4" text-anchor="middle" fill="#000" font-weight="normal" >0</text>
<line x1="77.30" y1="544.50" x2="77.30" y2="547.20" stroke="#000" stroke-width="1.0" />
<text x="77.30" y="561.70" font-size="12.4" text-anchor="middle" fill="#000" font-weight="normal" >3</text>
<line x1="107.60" y1="544.50" x2="107.60" y2="547.20" stroke="#000" stroke-width="1.0" />
<text x="107.60" y="561.70" font-size="12.4" text-anchor="middle" fill="#000" font-weight="normal" >6</text>
<text x="54.80" y="579.00" font-size="14.5" text-anchor="start" fill="#000" font-weight="normal" textLength="68.6" lengthAdjust="spacingAndGlyphs" >Time (min)</text>
<text x="18.60" y="479.00" font-size="14" text-anchor="middle" fill="#000" font-weight="normal" transform="rotate(-90 18.60 479.00)" textLength="55" lengthAdjust="spacingAndGlyphs" >ΔF/F (%)</text>
<text x="84.40" y="421.00" font-size="12.2" text-anchor="start" fill="#000" font-weight="normal" textLength="28.6" lengthAdjust="spacingAndGlyphs" >AngII</text>
<text x="3.20" y="399.40" font-size="17" text-anchor="start" fill="#000" font-weight="bold" textLength="11.9" lengthAdjust="spacingAndGlyphs" >G</text>
<line x1="174.20" y1="400.00" x2="174.20" y2="544.60" stroke="#222" stroke-width="0.9" stroke-dasharray="2.4 1.7" />
<line x1="206.34" y1="423.40" x2="206.34" y2="544.60" stroke="#222" stroke-width="0.9" stroke-dasharray="2.4 1.7" />
<line x1="246.03" y1="400.00" x2="246.03" y2="544.60" stroke="#222" stroke-width="0.9" stroke-dasharray="2.4 1.7" />
<polyline points="148.5,517.2 149.6,517.4 150.7,518.8 151.8,518.5 152.8,519.8 153.9,519.1 155.0,519.8 156.1,518.8 157.1,518.1 158.2,518.5 159.3,518.2 160.4,518.6 161.5,519.3 162.5,518.9 163.6,519.0 164.7,518.8 165.8,518.9 166.8,518.2 167.9,518.7 169.0,519.3 170.1,518.7 171.2,518.5 172.2,518.7 173.3,519.6 174.4,520.0 175.5,520.6 176.5,519.9 177.6,519.6 178.7,520.7 179.8,521.3 180.9,522.0 181.9,522.9 183.0,522.3 184.1,523.2 185.2,522.9 186.2,523.4 187.3,523.8 188.4,523.6 189.5,524.3 190.6,525.3 191.6,525.9 192.7,525.4 193.8,526.4 194.9,527.2 196.0,527.9 197.0,528.6 198.1,528.2 199.2,529.0 200.3,529.3 201.3,529.9 202.4,530.1 203.5,530.7 204.6,529.9 205.7,530.6 206.7,530.1 207.8,530.8 208.9,530.8 210.0,531.0 211.0,532.5 212.1,533.3 213.2,533.9 214.3,532.9 215.4,532.8 216.4,532.2 217.5,532.8 218.6,532.2 219.7,533.0 220.7,532.9 221.8,532.6 222.9,532.2 224.0,532.5 225.1,532.9 226.1,532.4 227.2,531.8 228.3,532.4 229.4,533.3 230.4,533.6 231.5,533.3 232.6,533.4 233.7,533.4 234.8,533.7 235.8,533.8 236.9,533.3 238.0,533.2 239.1,533.5 240.2,534.1 241.2,533.9 242.3,533.4 243.4,533.6 244.5,533.0 245.5,532.6 246.6,533.3 247.7,533.3 248.8,533.4 249.9,533.0 250.9,532.1 252.0,532.6 253.1,533.4 254.2,533.1 255.2,532.3" fill="none" stroke="#000" stroke-width="1.0" stroke-linejoin="round" stroke-linecap="round" />
<polyline points="148.5,517.6 149.6,517.6 150.7,518.3 151.8,517.9 152.8,518.4 153.9,519.3 155.0,519.5 156.1,520.0 157.1,520.4 158.2,520.3 159.3,520.0 160.4,519.8 161.5,518.7 162.5,518.7 163.6,518.4 164.7,519.5 165.8,519.1 166.8,520.0 167.9,520.0 169.0,521.2 170.1,521.4 171.2,522.4 172.2,522.1 173.3,522.7 174.4,522.3 175.5,522.4 176.5,523.6 177.6,524.6 178.7,524.5 179.8,525.4 180.9,526.2 181.9,527.4 183.0,526.9 184.1,526.9 185.2,527.9 186.2,527.4 187.3,528.5 188.4,529.3 189.5,529.9 190.6,530.7 191.6,531.7 192.7,532.2 193.8,531.5 194.9,532.4 196.0,532.3 197.0,531.6 198.1,532.4 199.2,532.1 200.3,531.4 201.3,532.2 202.4,531.4 203.5,531.2 204.6,531.6 205.7,530.9 206.7,530.9 207.8,530.4 208.9,530.2 210.0,531.0 211.0,531.8 212.1,532.6 213.2,532.9 214.3,533.3 215.4,532.3 216.4,532.6 217.5,532.1 218.6,532.8 219.7,533.1 220.7,533.3 221.8,533.4 222.9,532.9 224.0,532.6 225.1,532.8 226.1,531.7 227.2,531.1 228.3,531.9 229.4,531.6 230.4,531.8 231.5,531.4 232.6,532.0 233.7,532.3 234.8,532.6 235.8,532.2 236.9,532.2 238.0,532.2 239.1,531.5 240.2,530.8 241.2,531.8 242.3,532.4 243.4,532.1 244.5,532.2 245.5,532.7 246.6,532.2 247.7,531.6 248.8,531.9 249.9,531.3 250.9,532.1 252.0,531.3 253.1,531.2 254.2,531.2 255.2,531.0" fill="none" stroke="#000" stroke-width="1.0" stroke-linejoin="round" stroke-linecap="round" />
<polyline points="148.5,515.5 149.6,515.5 150.7,515.2 151.8,516.0 152.8,516.2 153.9,516.7 155.0,516.5 156.1,516.1 157.1,516.5 158.2,517.0 159.3,516.2 160.4,516.5 161.5,516.7 162.5,516.4 163.6,515.8 164.7,515.4 165.8,515.4 166.8,515.0 167.9,516.1 169.0,516.8 170.1,516.9 171.2,517.9 172.2,518.9 173.3,518.6 174.4,519.6 175.5,520.7 176.5,522.1 177.6,522.5 178.7,523.5 179.8,523.0 180.9,523.0 181.9,523.9 183.0,524.7 184.1,525.9 185.2,525.8 186.2,527.5 187.3,528.8 188.4,529.8 189.5,530.4 190.6,531.1 191.6,530.7 192.7,531.1 193.8,530.6 194.9,530.3 196.0,529.9 197.0,530.9 198.1,530.0 199.2,530.1 200.3,530.9 201.3,530.3 202.4,530.0 203.5,530.4 204.6,529.9 205.7,530.2 206.7,530.2 207.8,530.3 208.9,529.8 210.0,529.4 211.0,529.9 212.1,529.3 213.2,529.1 214.3,529.1 215.4,529.1 216.4,529.6 217.5,529.7 218.6,529.4 219.7,529.2 220.7,529.7 221.8,530.7 222.9,530.5 224.0,530.8 225.1,530.9 226.1,531.0 227.2,530.9 228.3,530.7 229.4,530.0 230.4,529.7 231.5,530.1 232.6,529.5 233.7,530.1 234.8,529.9 235.8,529.7 236.9,530.0 238.0,529.7 239.1,529.2 240.2,529.2 241.2,529.6 242.3,530.5 243.4,530.1 244.5,530.0 245.5,530.0 246.6,530.9 247.7,531.5 248.8,531.8 249.9,532.1 250.9,530.7 252.0,530.7 253.1,529.9 254.2,530.2 255.2,529.7" fill="none" stroke="#000" stroke-width="1.0" stroke-linejoin="round" stroke-linecap="round" />
<polyline points="148.5,516.9 149.6,517.8 150.7,519.1 151.8,518.7 152.8,519.0 153.9,519.0 155.0,519.0 156.1,518.5 157.1,519.3 158.2,519.6 159.3,519.7 160.4,519.5 161.5,519.9 162.5,520.0 163.6,520.5 164.7,519.6 165.8,520.3 166.8,520.7 167.9,521.2 169.0,520.3 170.1,521.0 171.2,521.1 172.2,521.0 173.3,520.7 174.4,521.1 175.5,521.3 176.5,522.2 177.6,523.0 178.7,522.0 179.8,522.2 180.9,522.1 181.9,523.1 183.0,523.0 184.1,522.8 185.2,523.1 186.2,522.7 187.3,522.4 188.4,523.7 189.5,524.6 190.6,524.9 191.6,525.7 192.7,525.7 193.8,526.2 194.9,526.9 196.0,527.4 197.0,528.0 198.1,528.1 199.2,528.0 200.3,527.7 201.3,528.5 202.4,527.7 203.5,527.4 204.6,527.4 205.7,527.9 206.7,528.9 207.8,529.6 208.9,529.9 210.0,529.6 211.0,528.7 212.1,529.3 213.2,528.7 214.3,528.1 215.4,528.0 216.4,528.7 217.5,528.6 218.6,528.3 219.7,528.0 220.7,527.9 221.8,527.5 222.9,527.5 224.0,528.1 225.1,528.9 226.1,529.7 227.2,529.7 228.3,529.1 229.4,529.8 230.4,528.9 231.5,528.5 232.6,529.3 233.7,528.8 234.8,528.7 235.8,529.3 236.9,529.3 238.0,529.2 239.1,529.4 240.2,529.4 241.2,530.1 242.3,530.1 243.4,529.4 244.5,529.0 245.5,528.4 246.6,528.7 247.7,528.8 248.8,529.2 249.9,528.5 250.9,528.3 252.0,528.3 253.1,529.0 254.2,528.8 255.2,528.3" fill="none" stroke="#000" stroke-width="1.0" stroke-linejoin="round" stroke-linecap="round" />
<polyline points="148.5,516.4 149.6,517.3 150.7,517.8 151.8,517.9 152.8,517.3 153.9,516.3 155.0,515.6 156.1,515.9 157.1,515.5 158.2,515.7 159.3,516.5 160.4,516.4 161.5,516.6 162.5,516.0 163.6,516.5 164.7,517.4 165.8,518.2 166.8,518.1 167.9,518.2 169.0,518.6 170.1,518.4 171.2,518.6 172.2,518.8 173.3,519.9 174.4,520.1 175.5,520.3 176.5,521.7 177.6,522.8 178.7,523.0 179.8,523.0 180.9,523.8 181.9,524.4 183.0,525.0 184.1,525.0 185.2,524.6 186.2,525.9 187.3,526.2 188.4,526.8 189.5,527.1 190.6,528.2 191.6,527.8 192.7,527.8 193.8,528.0 194.9,528.8 196.0,529.3 197.0,529.3 198.1,529.7 199.2,529.7 200.3,529.1 201.3,528.0 202.4,528.8 203.5,529.2 204.6,529.0 205.7,528.4 206.7,528.9 207.8,528.8 208.9,529.3 210.0,528.1 211.0,528.2 212.1,528.2 213.2,528.8 214.3,529.1 215.4,528.7 216.4,529.1 217.5,529.4 218.6,529.8 219.7,529.9 220.7,529.3 221.8,529.1 222.9,529.2 224.0,529.1 225.1,529.6 226.1,529.5 227.2,528.7 228.3,528.5 229.4,527.8 230.4,528.5 231.5,527.6 232.6,526.9 233.7,527.9 234.8,528.3 235.8,527.6 236.9,528.3 238.0,528.1 239.1,527.8 240.2,528.6 241.2,528.5 242.3,527.8 243.4,527.7 244.5,527.2 245.5,526.9 246.6,527.3 247.7,528.3 248.8,527.7 249.9,527.1 250.9,527.0 252.0,526.9 253.1,526.9 254.2,527.4 255.2,528.0" fill="none" stroke="#000" stroke-width="1.0" stroke-linejoin="round" stroke-linecap="round" />
<polyline points="148.5,517.2 149.6,517.3 150.7,517.3 151.8,517.9 152.8,518.7 153.9,518.7 155.0,518.8 156.1,519.1 157.1,518.7 158.2,518.6 159.3,519.1 160.4,518.2 161.5,517.9 162.5,517.8 163.6,518.8 164.7,518.5 165.8,517.7 166.8,518.6 167.9,517.8 169.0,518.6 170.1,518.6 171.2,519.1 172.2,518.5 173.3,519.0 174.4,518.5 175.5,519.0 176.5,520.0 177.6,520.0 178.7,520.8 179.8,521.0 180.9,521.3 181.9,521.9 183.0,522.0 184.1,521.4 185.2,521.7 186.2,521.0 187.3,520.6 188.4,521.9 189.5,521.8 190.6,521.7 191.6,522.6 192.7,523.3 193.8,523.8 194.9,523.2 196.0,524.1 197.0,523.9 198.1,523.8 199.2,524.8 200.3,524.5 201.3,524.3 202.4,524.6 203.5,525.0 204.6,524.8 205.7,525.3 206.7,525.6 207.8,524.9 208.9,524.8 210.0,525.4 211.0,525.8 212.1,527.0 213.2,527.3 214.3,527.9 215.4,528.3 216.4,528.0 217.5,527.1 218.6,526.4 219.7,527.1 220.7,527.7 221.8,528.4 222.9,528.0 224.0,527.1 225.1,526.3 226.1,526.1 227.2,525.6 228.3,525.7 229.4,526.3 230.4,526.9 231.5,526.9 232.6,526.2 233.7,526.8 234.8,527.4 235.8,526.5 236.9,526.4 238.0,526.2 239.1,526.3 240.2,525.8 241.2,527.0 242.3,527.1 243.4,526.5 244.5,526.5 245.5,526.9 246.6,526.3 247.7,526.9 248.8,526.4 249.9,526.2 250.9,526.0 252.0,525.8 253.1,526.9 254.2,527.4 255.2,527.6" fill="none" stroke="#000" stroke-width="1.0" stroke-linejoin="round" stroke-linecap="round" />
<polyline points="148.5,512.8 149.6,513.3 150.7,514.1 151.8,514.1 152.8,513.8 153.9,514.2 155.0,514.2 156.1,514.6 157.1,515.3 158.2,514.8 159.3,515.4 160.4,514.2 161.5,514.5 162.5,514.0 163.6,513.9 164.7,513.6 165.8,513.9 166.8,514.8 167.9,515.0 169.0,514.7 170.1,514.2 171.2,514.6 172.2,514.1 173.3,514.0 174.4,513.7 175.5,513.5 176.5,514.1 177.6,513.9 178.7,515.3 179.8,516.0 180.9,517.0 181.9,516.7 183.0,517.7 184.1,517.8 185.2,518.7 186.2,518.0 187.3,518.0 188.4,517.8 189.5,518.4 190.6,519.3 191.6,519.9 192.7,519.8 193.8,519.4 194.9,519.8 196.0,520.4 197.0,520.9 198.1,520.7 199.2,520.4 200.3,520.7 201.3,522.0 202.4,522.5 203.5,522.8 204.6,523.3 205.7,523.6 206.7,524.1 207.8,525.0 208.9,525.2 210.0,524.5 211.0,525.5 212.1,525.2 213.2,526.0 214.3,525.8 215.4,526.8 216.4,526.6 217.5,526.7 218.6,526.3 219.7,526.9 220.7,526.4 221.8,526.0 222.9,526.4 224.0,527.1 225.1,526.0 226.1,526.1 227.2,526.4 228.3,525.8 229.4,526.4 230.4,525.5 231.5,525.2 232.6,526.3 233.7,527.0 234.8,526.9 235.8,527.3 236.9,527.0 238.0,526.1 239.1,526.2 240.2,526.0 241.2,526.9 242.3,526.8 243.4,526.0 244.5,525.7 245.5,526.5 246.6,526.6 247.7,526.7 248.8,527.2 249.9,526.7 250.9,525.9 252.0,525.4 253.1,524.8 254.2,526.0 255.2,525.6" fill="none" stroke="#000" stroke-width="1.0" stroke-linejoin="round" stroke-linecap="round" />
<polyline points="148.5,516.4 149.6,516.8 150.7,516.6 151.8,516.9 152.8,517.4 153.9,516.6 155.0,516.1 156.1,516.6 157.1,517.3 158.2,516.8 159.3,516.3 160.4,515.8 161.5,515.4 162.5,515.8 163.6,515.2 164.7,516.1 165.8,515.9 166.8,516.5 167.9,515.9 169.0,517.2 170.1,517.0 171.2,517.3 172.2,518.7 173.3,519.0 174.4,519.2 175.5,519.6 176.5,520.3 177.6,522.0 178.7,521.9 179.8,523.0 180.9,524.1 181.9,524.2 183.0,525.0 184.1,525.8 185.2,526.2 186.2,525.1 187.3,525.7 188.4,525.9 189.5,525.3 190.6,524.9 191.6,525.7 192.7,525.2 193.8,525.1 194.9,525.2 196.0,524.9 197.0,525.4 198.1,525.7 199.2,525.4 200.3,525.3 201.3,524.9 202.4,525.6 203.5,526.0 204.6,525.1 205.7,524.9 206.7,524.9 207.8,524.2 208.9,524.5 210.0,525.0 211.0,525.2 212.1,525.7 213.2,525.5 214.3,524.9 215.4,525.6 216.4,525.7 217.5,525.6 218.6,525.8 219.7,526.0 220.7,525.5 221.8,525.8 222.9,526.3 224.0,525.1 225.1,524.7 226.1,524.1 227.2,525.1 228.3,525.4 229.4,525.2 230.4,524.6 231.5,525.5 232.6,524.8 233.7,524.8 234.8,524.0 235.8,524.3 236.9,525.3 238.0,525.4 239.1,524.8 240.2,525.0 241.2,524.9 242.3,524.8 243.4,524.8 244.5,525.6 245.5,525.9 246.6,525.0 247.7,524.8 248.8,525.0 249.9,525.7 250.9,524.9 252.0,525.6 253.1,526.0 254.2,525.4 255.2,525.6" fill="none" stroke="#000" stroke-width="1.0" stroke-linejoin="round" stroke-linecap="round" />
<polyline points="148.5,516.4 149.6,516.3 150.7,515.9 151.8,516.7 152.8,517.9 153.9,518.0 155.0,518.1 156.1,517.9 157.1,517.7 158.2,517.1 159.3,517.4 160.4,518.3 161.5,518.0 162.5,517.3 163.6,518.1 164.7,518.0 165.8,517.5 166.8,518.2 167.9,518.2 169.0,518.4 170.1,518.9 171.2,519.6 172.2,520.1 173.3,519.9 174.4,520.5 175.5,521.2 176.5,520.1 177.6,520.0 178.7,520.8 179.8,520.3 180.9,520.1 181.9,519.9 183.0,519.8 184.1,520.5 185.2,521.6 186.2,521.9 187.3,522.4 188.4,522.5 189.5,523.1 190.6,522.9 191.6,523.1 192.7,523.9 193.8,524.6 194.9,525.0 196.0,525.4 197.0,524.8 198.1,523.7 199.2,524.5 200.3,524.3 201.3,524.0 202.4,524.4 203.5,523.5 204.6,524.3 205.7,523.5 206.7,523.3 207.8,522.7 208.9,523.2 210.0,522.7 211.0,523.7 212.1,523.8 213.2,523.2 214.3,523.7 215.4,523.8 216.4,523.7 217.5,523.6 218.6,523.0 219.7,523.3 220.7,523.6 221.8,524.0 222.9,524.8 224.0,523.9 225.1,524.7 226.1,524.3 227.2,525.0 228.3,524.3 229.4,524.5 230.4,524.7 231.5,524.8 232.6,524.7 233.7,523.9 234.8,523.2 235.8,523.9 236.9,524.3 238.0,523.6 239.1,523.5 240.2,524.3 241.2,524.2 242.3,525.0 243.4,525.0 244.5,525.2 245.5,525.3 246.6,525.6 247.7,525.2 248.8,525.4 249.9,524.2 250.9,524.0 252.0,523.5 253.1,524.3 254.2,524.7 255.2,524.6" fill="none" stroke="#000" stroke-width="1.0" stroke-linejoin="round" stroke-linecap="round" />
<polyline points="148.5,514.7 149.6,515.1 150.7,515.4 151.8,515.9 152.8,515.8 153.9,516.0 155.0,516.7 156.1,516.0 157.1,516.0 158.2,516.7 159.3,516.5 160.4,516.3 161.5,516.9 162.5,516.9 163.6,516.0 164.7,515.8 165.8,515.3 166.8,515.3 167.9,515.2 169.0,514.9 170.1,514.8 171.2,515.2 172.2,515.6 173.3,516.2 174.4,517.5 175.5,518.3 176.5,519.4 177.6,520.1 178.7,520.1 179.8,520.9 180.9,521.4 181.9,521.7 183.0,522.5 184.1,522.3 185.2,521.7 186.2,522.5 187.3,523.1 188.4,523.7 189.5,523.7 190.6,522.7 191.6,522.1 192.7,521.8 193.8,521.7 194.9,522.8 196.0,523.0 197.0,523.2 198.1,523.5 199.2,522.6 200.3,522.3 201.3,522.0 202.4,522.9 203.5,522.8 204.6,522.2 205.7,522.5 206.7,522.5 207.8,523.4 208.9,523.0 210.0,523.1 211.0,522.8 212.1,522.5 213.2,522.4 214.3,522.7 215.4,522.3 216.4,523.2 217.5,523.9 218.6,524.1 219.7,524.3 220.7,524.0 221.8,523.8 222.9,524.1 224.0,523.0 225.1,522.7 226.1,523.3 227.2,522.5 228.3,522.4 229.4,521.9 230.4,522.6 231.5,522.4 232.6,522.8 233.7,522.4 234.8,521.8 235.8,521.3 236.9,521.6 238.0,522.6 239.1,522.2 240.2,521.6 241.2,522.1 242.3,522.6 243.4,522.8 244.5,523.3 245.5,523.4 246.6,523.5 247.7,523.2 248.8,523.1 249.9,522.9 250.9,522.8 252.0,522.2 253.1,523.2 254.2,522.4 255.2,523.3" fill="none" stroke="#000" stroke-width="1.0" stroke-linejoin="round" stroke-linecap="round" />
<polyline points="148.5,514.2 149.6,514.9 150.7,515.1 151.8,514.6 152.8,515.0 153.9,515.6 155.0,515.7 156.1,515.3 157.1,516.0 158.2,516.2 159.3,515.9 160.4,516.4 161.5,516.3 162.5,516.7 163.6,516.7 164.7,515.8 165.8,516.3 166.8,515.9 167.9,516.0 169.0,515.5 170.1,515.8 171.2,515.3 172.2,514.8 173.3,515.1 174.4,515.7 175.5,516.5 176.5,516.0 177.6,515.8 178.7,516.4 179.8,517.2 180.9,517.8 181.9,516.9 183.0,516.6 184.1,516.9 185.2,516.8 186.2,517.1 187.3,516.5 188.4,517.2 189.5,518.0 190.6,518.5 191.6,518.0 192.7,519.0 193.8,518.7 194.9,518.5 196.0,519.0 197.0,518.9 198.1,518.7 199.2,519.8 200.3,520.1 201.3,520.6 202.4,520.7 203.5,520.3 204.6,520.7 205.7,520.0 206.7,520.6 207.8,521.2 208.9,520.4 210.0,520.4 211.0,519.9 212.1,519.8 213.2,520.5 214.3,520.7 215.4,520.3 216.4,520.5 217.5,521.6 218.6,522.3 219.7,521.9 220.7,522.1 221.8,521.9 222.9,522.5 224.0,522.9 225.1,523.3 226.1,522.7 227.2,521.6 228.3,521.2 229.4,520.8 230.4,521.1 231.5,521.1 232.6,521.3 233.7,522.1 234.8,522.5 235.8,521.9 236.9,521.1 238.0,520.8 239.1,521.5 240.2,521.4 241.2,522.2 242.3,522.3 243.4,522.9 244.5,521.9 245.5,522.4 246.6,522.5 247.7,521.5 248.8,521.8 249.9,522.3 250.9,522.2 252.0,522.1 253.1,522.6 254.2,521.9 255.2,522.4" fill="none" stroke="#000" stroke-width="1.0" stroke-linejoin="round" stroke-linecap="round" />
<polyline points="148.5,517.7 149.6,518.2 150.7,517.8 151.8,518.4 152.8,518.7 153.9,518.2 155.0,518.5 156.1,519.1 157.1,518.4 158.2,518.0 159.3,517.9 160.4,517.5 161.5,518.0 162.5,517.8 163.6,519.0 164.7,519.7 165.8,519.2 166.8,518.8 167.9,519.6 169.0,519.4 170.1,519.9 171.2,520.4 172.2,520.0 173.3,519.7 174.4,519.0 175.5,519.8 176.5,519.4 177.6,519.9 178.7,519.3 179.8,519.6 180.9,519.8 181.9,520.5 183.0,519.6 184.1,519.8 185.2,519.9 186.2,520.3 187.3,520.4 188.4,520.9 189.5,520.9 190.6,521.1 191.6,521.3 192.7,520.8 193.8,521.6 194.9,521.2 196.0,521.9 197.0,521.4 198.1,521.3 199.2,520.5 200.3,520.1 201.3,520.4 202.4,521.1 203.5,520.9 204.6,521.2 205.7,521.1 206.7,520.2 207.8,520.2 208.9,520.4 210.0,521.3 211.0,521.4 212.1,521.8 213.2,522.0 214.3,521.4 215.4,521.2 216.4,520.9 217.5,521.4 218.6,521.8 219.7,520.9 220.7,521.1 221.8,521.8 222.9,521.6 224.0,521.5 225.1,521.7 226.1,521.1 227.2,520.5 228.3,520.1 229.4,519.7 230.4,519.7 231.5,519.5 232.6,519.3 233.7,520.6 234.8,520.9 235.8,520.5 236.9,519.9 238.0,519.8 239.1,520.1 240.2,521.0 241.2,520.4 242.3,520.9 243.4,520.8 244.5,521.0 245.5,520.4 246.6,520.3 247.7,519.7 248.8,519.5 249.9,519.4 250.9,519.7 252.0,520.0 253.1,520.7 254.2,521.3 255.2,520.3" fill="none" stroke="#000" stroke-width="1.0" stroke-linejoin="round" stroke-linecap="round" />
<polyline points="148.5,516.9 149.6,517.3 150.7,516.9 151.8,516.9 152.8,518.3 153.9,518.8 155.0,518.0 156.1,517.9 157.1,518.8 158.2,518.6 159.3,519.2 160.4,518.7 161.5,519.0 162.5,518.1 163.6,517.5 164.7,517.1 165.8,517.5 166.8,517.5 167.9,517.9 169.0,518.6 170.1,517.9 171.2,517.6 172.2,517.3 173.3,517.6 174.4,517.4 175.5,518.4 176.5,518.3 177.6,518.8 178.7,518.9 179.8,518.0 180.9,518.3 181.9,518.8 183.0,519.5 184.1,518.8 185.2,518.9 186.2,518.3 187.3,517.9 188.4,518.8 189.5,518.2 190.6,519.1 191.6,519.4 192.7,519.0 193.8,519.8 194.9,519.5 196.0,518.6 197.0,519.1 198.1,519.9 199.2,519.1 200.3,518.6 201.3,519.4 202.4,519.9 203.5,519.8 204.6,519.5 205.7,519.5 206.7,520.0 207.8,520.6 208.9,521.0 210.0,520.3 211.0,519.4 212.1,520.3 213.2,520.2 214.3,520.0 215.4,519.8 216.4,520.2 217.5,519.8 218.6,520.2 219.7,520.6 220.7,521.1 221.8,521.1 222.9,521.1 224.0,520.7 225.1,519.5 226.1,519.2 227.2,519.6 228.3,519.5 229.4,519.4 230.4,518.8 231.5,518.3 232.6,519.4 233.7,520.2 234.8,519.3 235.8,519.0 236.9,519.6 238.0,520.0 239.1,519.9 240.2,519.3 241.2,519.6 242.3,519.1 243.4,519.0 244.5,519.7 245.5,519.8 246.6,519.8 247.7,519.7 248.8,520.3 249.9,520.4 250.9,521.0 252.0,521.4 253.1,521.2 254.2,520.7 255.2,520.0" fill="none" stroke="#000" stroke-width="1.0" stroke-linejoin="round" stroke-linecap="round" />
<polyline points="148.5,517.4 149.6,517.4 150.7,517.3 151.8,517.9 152.8,518.6 153.9,519.2 155.0,519.4 156.1,519.9 157.1,518.9 158.2,518.8 159.3,519.4 160.4,519.7 161.5,519.6 162.5,519.5 163.6,520.0 164.7,518.8 165.8,518.9 166.8,518.1 167.9,518.0 169.0,517.7 170.1,517.4 171.2,517.8 172.2,518.2 173.3,518.9 174.4,519.4 175.5,519.0 176.5,519.3 177.6,519.4 178.7,519.5 179.8,518.6 180.9,517.9 181.9,518.3 183.0,518.4 184.1,518.9 185.2,518.5 186.2,518.3 187.3,519.2 188.4,518.3 189.5,518.6 190.6,519.1 191.6,519.3 192.7,518.4 193.8,518.2 194.9,518.7 196.0,518.5 197.0,518.0 198.1,518.2 199.2,518.0 200.3,518.7 201.3,517.9 202.4,517.4 203.5,518.5 204.6,518.8 205.7,518.1 206.7,518.5 207.8,517.8 208.9,518.3 210.0,519.0 211.0,518.2 212.1,518.6 213.2,517.9 214.3,517.7 215.4,517.6 216.4,517.2 217.5,518.0 218.6,513.6 219.7,513.3 220.7,514.0 221.8,514.4 222.9,515.0 224.0,514.9 225.1,514.9 226.1,518.6 227.2,519.1 228.3,518.8 229.4,519.0 230.4,518.8 231.5,519.0 232.6,518.8 233.7,519.5 234.8,519.2 235.8,518.6 236.9,517.9 238.0,518.1 239.1,517.9 240.2,517.7 241.2,518.5 242.3,518.0 243.4,517.7 244.5,517.7 245.5,517.9 246.6,517.4 247.7,516.9 248.8,516.9 249.9,516.7 250.9,517.5 252.0,518.5 253.1,518.0 254.2,517.7 255.2,517.4" fill="none" stroke="#000" stroke-width="1.0" stroke-linejoin="round" stroke-linecap="round" />
<polyline points="148.5,517.5 149.6,518.3 150.7,518.4 151.8,518.5 152.8,518.6 153.9,517.9 155.0,518.6 156.1,518.2 157.1,517.6 158.2,517.2 159.3,517.9 160.4,518.5 161.5,519.3 162.5,518.9 163.6,519.5 164.7,519.8 165.8,518.7 166.8,519.3 167.9,518.3 169.0,518.6 170.1,519.2 171.2,519.4 172.2,518.6 173.3,518.3 174.4,519.1 175.5,518.8 176.5,518.6 177.6,518.7 178.7,512.7 179.8,513.1 180.9,512.0 181.9,511.4 183.0,511.1 184.1,510.8 185.2,510.8 186.2,517.2 187.3,516.9 188.4,516.8 189.5,517.5 190.6,517.2 191.6,517.0 192.7,517.6 193.8,517.8 194.9,517.8 196.0,517.1 197.0,517.0 198.1,516.7 199.2,517.4 200.3,516.7 201.3,516.4 202.4,516.5 203.5,516.4 204.6,516.2 205.7,516.5 206.7,517.0 207.8,517.1 208.9,518.0 210.0,518.4 211.0,518.1 212.1,517.7 213.2,516.9 214.3,517.2 215.4,516.7 216.4,516.7 217.5,516.7 218.6,516.3 219.7,516.2 220.7,517.0 221.8,516.5 222.9,517.2 224.0,517.9 225.1,518.1 226.1,518.1 227.2,517.3 228.3,517.7 229.4,517.3 230.4,516.9 231.5,517.7 232.6,517.1 233.7,517.5 234.8,517.9 235.8,518.4 236.9,517.8 238.0,518.6 239.1,517.9 240.2,517.3 241.2,518.2 242.3,518.5 243.4,517.9 244.5,518.0 245.5,518.6 246.6,517.6 247.7,516.9 248.8,517.3 249.9,518.1 250.9,518.8 252.0,518.1 253.1,517.3 254.2,518.3 255.2,518.1" fill="none" stroke="#000" stroke-width="1.0" stroke-linejoin="round" stroke-linecap="round" />
<polyline points="148.5,514.7 149.6,515.5 150.7,515.8 151.8,515.7 152.8,516.8 153.9,516.2 155.0,516.2 156.1,516.0 157.1,516.0 158.2,516.5 159.3,516.8 160.4,516.7 161.5,517.3 162.5,517.5 163.6,516.8 164.7,517.6 165.8,517.6 166.8,517.8 167.9,518.2 169.0,517.3 170.1,517.8 171.2,517.3 172.2,517.5 173.3,517.8 174.4,517.8 175.5,518.3 176.5,518.1 177.6,518.2 178.7,518.2 179.8,517.2 180.9,517.3 181.9,517.8 183.0,517.3 184.1,516.9 185.2,516.4 186.2,515.8 187.3,516.2 188.4,516.1 189.5,515.7 190.6,515.7 191.6,515.9 192.7,516.2 193.8,516.3 194.9,516.3 196.0,517.2 197.0,516.6 198.1,515.9 199.2,516.9 200.3,517.1 201.3,516.6 202.4,516.5 203.5,516.6 204.6,515.9 205.7,515.6 206.7,515.2 207.8,515.1 208.9,515.0 210.0,516.0 211.0,516.6 212.1,515.8 213.2,515.7 214.3,516.9 215.4,517.5 216.4,517.0 217.5,517.2 218.6,516.9 219.7,516.7 220.7,516.7 221.8,516.1 222.9,516.9 224.0,516.9 225.1,517.4 226.1,517.1 227.2,517.4 228.3,517.7 229.4,517.0 230.4,517.4 231.5,517.8 232.6,517.6 233.7,517.9 234.8,518.4 235.8,517.7 236.9,518.3 238.0,517.9 239.1,517.9 240.2,518.2 241.2,518.0 242.3,518.4 243.4,518.8 244.5,518.7 245.5,518.4 246.6,517.4 247.7,517.5 248.8,517.5 249.9,516.6 250.9,516.2 252.0,516.8 253.1,516.8 254.2,517.2 255.2,516.8" fill="none" stroke="#000" stroke-width="1.0" stroke-linejoin="round" stroke-linecap="round" />
<polyline points="148.5,515.5 149.6,516.2 150.7,516.1 151.8,515.5 152.8,515.8 153.9,516.2 155.0,515.4 156.1,514.8 157.1,515.6 158.2,515.2 159.3,514.6 160.4,514.0 161.5,513.6 162.5,514.0 163.6,515.0 164.7,515.0 165.8,515.9 166.8,515.3 167.9,514.8 169.0,515.3 170.1,515.9 171.2,515.5 172.2,516.3 173.3,515.9 174.4,517.2 175.5,517.4 176.5,517.7 177.6,518.8 178.7,519.5 179.8,519.9 180.9,519.7 181.9,520.4 183.0,520.9 184.1,521.0 185.2,520.9 186.2,520.8 187.3,521.6 188.4,521.2 189.5,520.8 190.6,520.8 191.6,521.6 192.7,522.4 193.8,522.8 194.9,523.8 196.0,524.1 197.0,523.4 198.1,523.8 199.2,524.5 200.3,524.8 201.3,525.3 202.4,525.5 203.5,525.2 204.6,525.7 205.7,525.1 206.7,526.2 207.8,526.9 208.9,526.8 210.0,526.8 211.0,525.9 212.1,526.4 213.2,525.5 214.3,525.9 215.4,525.6 216.4,526.0 217.5,525.4 218.6,526.0 219.7,525.8 220.7,526.2 221.8,525.7 222.9,526.4 224.0,526.3 225.1,526.9 226.1,526.0 227.2,526.1 228.3,525.5 229.4,526.3 230.4,526.5 231.5,526.9 232.6,526.0 233.7,526.4 234.8,526.5 235.8,526.5 236.9,525.7 238.0,525.7 239.1,526.0 240.2,525.5 241.2,525.8 242.3,526.4 243.4,526.5 244.5,526.8 245.5,526.5 246.6,526.4 247.7,525.5 248.8,524.8 249.9,524.8 250.9,525.4 252.0,525.9 253.1,525.6 254.2,525.2 255.2,526.0" fill="none" stroke="#000" stroke-width="1.0" stroke-linejoin="round" stroke-linecap="round" />
<polyline points="148.5,516.0 149.6,516.1 150.7,517.1 151.8,516.3 152.8,516.4 153.9,516.7 155.0,516.2 156.1,515.6 157.1,515.4 158.2,516.0 159.3,516.2 160.4,516.3 161.5,516.0 162.5,516.0 163.6,515.9 164.7,516.1 165.8,515.7 166.8,515.9 167.9,515.6 169.0,516.0 170.1,515.4 171.2,515.1 172.2,515.8 173.3,516.7 174.4,517.4 175.5,517.1 176.5,517.3 177.6,517.0 178.7,518.3 179.8,518.8 180.9,519.3 181.9,519.6 183.0,520.1 184.1,519.7 185.2,520.7 186.2,520.7 187.3,520.2 188.4,520.2 189.5,520.1 190.6,521.0 191.6,520.9 192.7,522.2 193.8,521.8 194.9,521.7 196.0,522.2 197.0,522.6 198.1,522.9 199.2,523.7 200.3,523.2 201.3,523.9 202.4,523.5 203.5,523.8 204.6,523.7 205.7,523.0 206.7,523.0 207.8,523.3 208.9,523.6 210.0,523.2 211.0,523.6 212.1,522.7 213.2,523.6 214.3,523.5 215.4,523.8 216.4,523.2 217.5,523.7 218.6,524.3 219.7,523.2 220.7,522.7 221.8,523.0 222.9,523.2 224.0,523.7 225.1,522.7 226.1,523.3 227.2,523.1 228.3,522.3 229.4,522.4 230.4,522.7 231.5,523.6 232.6,524.1 233.7,524.1 234.8,523.1 235.8,523.9 236.9,523.3 238.0,523.9 239.1,524.5 240.2,524.5 241.2,524.8 242.3,524.6 243.4,524.0 244.5,524.5 245.5,523.5 246.6,522.5 247.7,522.4 248.8,522.0 249.9,522.7 250.9,523.3 252.0,523.0 253.1,523.0 254.2,522.4 255.2,522.3" fill="none" stroke="#000" stroke-width="1.0" stroke-linejoin="round" stroke-linecap="round" />
<line x1="144.40" y1="410.00" x2="144.40" y2="544.90" stroke="#000" stroke-width="1.0" />
<line x1="144.00" y1="544.50" x2="255.60" y2="544.50" stroke="#000" stroke-width="1.0" />
<line x1="141.80" y1="410.30" x2="144.40" y2="410.30" stroke="#000" stroke-width="1.0" />
<line x1="141.80" y1="437.15" x2="144.40" y2="437.15" stroke="#000" stroke-width="1.0" />
<line x1="141.80" y1="464.00" x2="144.40" y2="464.00" stroke="#000" stroke-width="1.0" />
<line x1="141.80" y1="490.85" x2="144.40" y2="490.85" stroke="#000" stroke-width="1.0" />
<line x1="141.80" y1="517.70" x2="144.40" y2="517.70" stroke="#000" stroke-width="1.0" />
<line x1="141.80" y1="544.55" x2="144.40" y2="544.55" stroke="#000" stroke-width="1.0" />
<line x1="145.00" y1="544.50" x2="145.00" y2="547.20" stroke="#000" stroke-width="1.0" />
<text x="145.00" y="561.70" font-size="12.4" text-anchor="middle" fill="#000" font-weight="normal" >0</text>
<line x1="174.40" y1="544.50" x2="174.40" y2="547.20" stroke="#000" stroke-width="1.0" />
<text x="174.40" y="561.70" font-size="12.4" text-anchor="middle" fill="#000" font-weight="normal" >3</text>
<line x1="203.80" y1="544.50" x2="203.80" y2="547.20" stroke="#000" stroke-width="1.0" />
<text x="203.80" y="561.70" font-size="12.4" text-anchor="middle" fill="#000" font-weight="normal" >6</text>
<line x1="233.20" y1="544.50" x2="233.20" y2="547.20" stroke="#000" stroke-width="1.0" />
<text x="233.20" y="561.70" font-size="12.4" text-anchor="middle" fill="#000" font-weight="normal" >9</text>
<text x="174.70" y="579.00" font-size="14.5" text-anchor="start" fill="#000" font-weight="normal" textLength="68.6" lengthAdjust="spacingAndGlyphs" >Time (min)</text>
<text x="189.60" y="404.60" font-size="12.4" text-anchor="start" fill="#000" font-weight="normal" textLength="44.8" lengthAdjust="spacingAndGlyphs" >losartan</text>
<text x="212.20" y="421.00" font-size="12.2" text-anchor="start" fill="#000" font-weight="normal" textLength="28.6" lengthAdjust="spacingAndGlyphs" >AngII</text>
<line x1="327.30" y1="526.30" x2="391.00" y2="526.30" stroke="#000" stroke-width="0.95" stroke-dasharray="3 2.2" />
<polygon points="345.15,429.86 344.90,438.28 344.50,449.76 344.20,461.24 343.95,472.72 343.65,484.20 343.40,491.86 342.90,499.51 342.00,507.16 340.80,511.76 339.60,514.82 338.20,517.50 337.00,519.79 336.60,521.71 337.00,524.00 338.40,526.30 340.20,528.21 342.60,530.13 344.50,531.66 345.10,532.81 345.15,537.40 345.65,537.40 345.70,532.81 346.30,531.66 348.20,530.13 350.60,528.21 352.40,526.30 353.80,524.00 354.20,521.71 353.80,519.79 352.60,517.50 351.20,514.82 350.00,511.76 348.80,507.16 347.90,499.51 347.40,491.86 347.15,484.20 346.85,472.72 346.60,461.24 346.30,449.76 345.90,438.28 345.65,429.86" fill="#fff" stroke="#000" stroke-width="1.1" stroke-linejoin="round"/>
<line x1="340.80" y1="516.27" x2="350.00" y2="516.27" stroke="#000" stroke-width="0.95" stroke-dasharray="3.4 1.6" />
<line x1="337.20" y1="522.28" x2="353.60" y2="522.28" stroke="#000" stroke-width="0.95" stroke-dasharray="1.1 1.2" />
<line x1="344.50" y1="502.57" x2="346.30" y2="502.57" stroke="#000" stroke-width="0.9" />
<polygon points="372.10,509.65 371.40,510.61 372.00,511.37 371.95,514.82 371.10,515.97 371.90,517.12 371.70,519.79 370.70,521.71 367.80,523.05 364.80,524.00 363.10,524.96 364.80,525.73 368.30,526.30 371.30,526.87 372.10,527.26 372.50,527.26 373.30,526.87 376.30,526.30 379.80,525.73 381.50,524.96 379.80,524.00 376.80,523.05 373.90,521.71 372.90,519.79 372.70,517.12 373.50,515.97 372.65,514.82 372.60,511.37 373.20,510.61 372.50,509.65" fill="#fff" stroke="#000" stroke-width="1.1" stroke-linejoin="round"/>
<line x1="366.30" y1="524.58" x2="378.30" y2="524.58" stroke="#000" stroke-width="0.8" stroke-dasharray="2 1" />
<line x1="364.30" y1="525.34" x2="380.30" y2="525.34" stroke="#000" stroke-width="0.8" stroke-dasharray="1 1" />
<circle cx="372.3" cy="525.15" r="1.6" fill="#999" stroke="#000" stroke-width="0.7"/>
<line x1="327.30" y1="410.70" x2="327.30" y2="546.10" stroke="#000" stroke-width="1.25" />
<line x1="326.70" y1="545.50" x2="390.20" y2="545.50" stroke="#000" stroke-width="1.25" />
<line x1="321.90" y1="411.49" x2="327.30" y2="411.49" stroke="#000" stroke-width="1.25" />
<text x="320.70" y="415.99" font-size="12.6" text-anchor="end" fill="#000" font-weight="normal" >3000</text>
<line x1="321.90" y1="449.76" x2="327.30" y2="449.76" stroke="#000" stroke-width="1.25" />
<text x="320.70" y="454.26" font-size="12.6" text-anchor="end" fill="#000" font-weight="normal" >2000</text>
<line x1="321.90" y1="488.03" x2="327.30" y2="488.03" stroke="#000" stroke-width="1.25" />
<text x="320.70" y="492.53" font-size="12.6" text-anchor="end" fill="#000" font-weight="normal" >1000</text>
<line x1="321.90" y1="526.30" x2="327.30" y2="526.30" stroke="#000" stroke-width="1.25" />
<text x="320.70" y="530.80" font-size="12.6" text-anchor="end" fill="#000" font-weight="normal" >0</text>
<line x1="345.40" y1="545.50" x2="345.40" y2="551.00" stroke="#000" stroke-width="1.25" />
<line x1="372.30" y1="545.50" x2="372.30" y2="551.00" stroke="#000" stroke-width="1.25" />
<polyline points="345.4,421.5 345.4,413.8 372.5,413.8 372.5,501.8" fill="none" stroke="#000" stroke-width="0.9"/>
<text x="357.50" y="410.20" font-size="11" text-anchor="middle" fill="#000" font-weight="normal" font-family="DejaVu Sans" style="font-family:DejaVu Sans,sans-serif">∗</text>
<text x="286.80" y="476.50" font-size="13.6" text-anchor="middle" fill="#000" font-weight="normal" transform="rotate(-90 286.80 476.50)" >Total AUC</text>
<text x="349.00" y="556.00" font-size="12.0" text-anchor="end" fill="#000" font-weight="normal" transform="rotate(-46 349.00 556.00)" >AngII</text>
<text x="391.00" y="550.20" font-size="12.0" text-anchor="end" fill="#000" font-weight="normal" transform="rotate(-43 391.00 550.20)" >AngII+los</text>
<text x="269.60" y="398.80" font-size="14.5" text-anchor="start" fill="#000" font-weight="bold" >H</text>
<line x1="461.00" y1="438.11" x2="490.20" y2="516.19" stroke="#000" stroke-width="1.1" />
<line x1="461.00" y1="471.32" x2="490.20" y2="509.90" stroke="#000" stroke-width="1.1" />
<line x1="461.00" y1="482.08" x2="490.20" y2="526.95" stroke="#000" stroke-width="1.1" />
<line x1="461.00" y1="485.67" x2="490.20" y2="500.93" stroke="#000" stroke-width="1.1" />
<line x1="461.00" y1="497.34" x2="490.20" y2="532.34" stroke="#000" stroke-width="1.1" />
<line x1="461.00" y1="500.93" x2="490.20" y2="504.52" stroke="#000" stroke-width="1.1" />
<line x1="461.00" y1="504.52" x2="490.20" y2="521.57" stroke="#000" stroke-width="1.1" />
<line x1="461.00" y1="509.90" x2="490.20" y2="535.03" stroke="#000" stroke-width="1.1" />
<line x1="461.00" y1="514.39" x2="490.20" y2="538.62" stroke="#000" stroke-width="1.1" />
<line x1="461.00" y1="523.37" x2="490.20" y2="541.31" stroke="#000" stroke-width="1.1" />
<line x1="461.00" y1="532.34" x2="490.20" y2="509.90" stroke="#000" stroke-width="1.1" />
<line x1="461.00" y1="533.24" x2="490.20" y2="536.83" stroke="#000" stroke-width="1.1" />
<line x1="461.00" y1="534.13" x2="490.20" y2="543.11" stroke="#000" stroke-width="1.1" />
<line x1="461.00" y1="535.03" x2="490.20" y2="533.24" stroke="#000" stroke-width="1.1" />
<line x1="461.00" y1="535.93" x2="490.20" y2="540.42" stroke="#000" stroke-width="1.1" />
<line x1="461.00" y1="536.83" x2="490.20" y2="535.03" stroke="#000" stroke-width="1.1" />
<line x1="461.00" y1="537.72" x2="490.20" y2="542.21" stroke="#000" stroke-width="1.1" />
<line x1="461.00" y1="538.62" x2="490.20" y2="537.72" stroke="#000" stroke-width="1.1" />
<line x1="461.00" y1="540.42" x2="490.20" y2="539.52" stroke="#000" stroke-width="1.1" />
<line x1="461.00" y1="541.31" x2="490.20" y2="544.01" stroke="#000" stroke-width="1.1" />
<line x1="461.00" y1="542.21" x2="490.20" y2="541.31" stroke="#000" stroke-width="1.1" />
<line x1="461.00" y1="543.11" x2="490.20" y2="543.11" stroke="#000" stroke-width="1.1" />
<line x1="461.00" y1="544.01" x2="490.20" y2="544.90" stroke="#000" stroke-width="1.1" />
<line x1="461.00" y1="533.24" x2="490.20" y2="516.19" stroke="#000" stroke-width="1.1" />
<line x1="461.00" y1="534.13" x2="490.20" y2="526.95" stroke="#000" stroke-width="1.1" />
<line x1="461.00" y1="539.52" x2="490.20" y2="532.34" stroke="#000" stroke-width="1.1" />
<circle cx="461.0" cy="438.11" r="2.5" fill="#fff" stroke="#000" stroke-width="1.15"/>
<circle cx="490.2" cy="516.19" r="2.5" fill="#fff" stroke="#000" stroke-width="1.15"/>
<circle cx="461.0" cy="471.32" r="2.5" fill="#fff" stroke="#000" stroke-width="1.15"/>
<circle cx="490.2" cy="509.90" r="2.5" fill="#fff" stroke="#000" stroke-width="1.15"/>
<circle cx="461.0" cy="482.08" r="2.5" fill="#fff" stroke="#000" stroke-width="1.15"/>
<circle cx="490.2" cy="526.95" r="2.5" fill="#fff" stroke="#000" stroke-width="1.15"/>
<circle cx="461.0" cy="485.67" r="2.5" fill="#fff" stroke="#000" stroke-width="1.15"/>
<circle cx="490.2" cy="500.93" r="2.5" fill="#fff" stroke="#000" stroke-width="1.15"/>
<circle cx="461.0" cy="497.34" r="2.5" fill="#fff" stroke="#000" stroke-width="1.15"/>
<circle cx="490.2" cy="532.34" r="2.5" fill="#fff" stroke="#000" stroke-width="1.15"/>
<circle cx="461.0" cy="500.93" r="2.5" fill="#fff" stroke="#000" stroke-width="1.15"/>
<circle cx="490.2" cy="504.52" r="2.5" fill="#fff" stroke="#000" stroke-width="1.15"/>
<circle cx="461.0" cy="504.52" r="2.5" fill="#fff" stroke="#000" stroke-width="1.15"/>
<circle cx="490.2" cy="521.57" r="2.5" fill="#fff" stroke="#000" stroke-width="1.15"/>
<circle cx="461.0" cy="509.90" r="2.5" fill="#fff" stroke="#000" stroke-width="1.15"/>
<circle cx="490.2" cy="535.03" r="2.5" fill="#fff" stroke="#000" stroke-width="1.15"/>
<circle cx="461.0" cy="514.39" r="2.5" fill="#fff" stroke="#000" stroke-width="1.15"/>
<circle cx="490.2" cy="538.62" r="2.5" fill="#fff" stroke="#000" stroke-width="1.15"/>
<circle cx="461.0" cy="523.37" r="2.5" fill="#fff" stroke="#000" stroke-width="1.15"/>
<circle cx="490.2" cy="541.31" r="2.5" fill="#fff" stroke="#000" stroke-width="1.15"/>
<circle cx="461.0" cy="532.34" r="2.5" fill="#fff" stroke="#000" stroke-width="1.15"/>
<circle cx="490.2" cy="509.90" r="2.5" fill="#fff" stroke="#000" stroke-width="1.15"/>
<circle cx="461.0" cy="533.24" r="2.5" fill="#fff" stroke="#000" stroke-width="1.15"/>
<circle cx="490.2" cy="536.83" r="2.5" fill="#fff" stroke="#000" stroke-width="1.15"/>
<circle cx="461.0" cy="534.13" r="2.5" fill="#fff" stroke="#000" stroke-width="1.15"/>
<circle cx="490.2" cy="543.11" r="2.5" fill="#fff" stroke="#000" stroke-width="1.15"/>
<circle cx="461.0" cy="535.03" r="2.5" fill="#fff" stroke="#000" stroke-width="1.15"/>
<circle cx="490.2" cy="533.24" r="2.5" fill="#fff" stroke="#000" stroke-width="1.15"/>
<circle cx="461.0" cy="535.93" r="2.5" fill="#fff" stroke="#000" stroke-width="1.15"/>
<circle cx="490.2" cy="540.42" r="2.5" fill="#fff" stroke="#000" stroke-width="1.15"/>
<circle cx="461.0" cy="536.83" r="2.5" fill="#fff" stroke="#000" stroke-width="1.15"/>
<circle cx="490.2" cy="535.03" r="2.5" fill="#fff" stroke="#000" stroke-width="1.15"/>
<circle cx="461.0" cy="537.72" r="2.5" fill="#fff" stroke="#000" stroke-width="1.15"/>
<circle cx="490.2" cy="542.21" r="2.5" fill="#fff" stroke="#000" stroke-width="1.15"/>
<circle cx="461.0" cy="538.62" r="2.5" fill="#fff" stroke="#000" stroke-width="1.15"/>
<circle cx="490.2" cy="537.72" r="2.5" fill="#fff" stroke="#000" stroke-width="1.15"/>
<circle cx="461.0" cy="540.42" r="2.5" fill="#fff" stroke="#000" stroke-width="1.15"/>
<circle cx="490.2" cy="539.52" r="2.5" fill="#fff" stroke="#000" stroke-width="1.15"/>
<circle cx="461.0" cy="541.31" r="2.5" fill="#fff" stroke="#000" stroke-width="1.15"/>
<circle cx="490.2" cy="544.01" r="2.5" fill="#fff" stroke="#000" stroke-width="1.15"/>
<circle cx="461.0" cy="542.21" r="2.5" fill="#fff" stroke="#000" stroke-width="1.15"/>
<circle cx="490.2" cy="541.31" r="2.5" fill="#fff" stroke="#000" stroke-width="1.15"/>
<circle cx="461.0" cy="543.11" r="2.5" fill="#fff" stroke="#000" stroke-width="1.15"/>
<circle cx="490.2" cy="543.11" r="2.5" fill="#fff" stroke="#000" stroke-width="1.15"/>
<circle cx="461.0" cy="544.01" r="2.5" fill="#fff" stroke="#000" stroke-width="1.15"/>
<circle cx="490.2" cy="544.90" r="2.5" fill="#fff" stroke="#000" stroke-width="1.15"/>
<circle cx="461.0" cy="533.24" r="2.5" fill="#fff" stroke="#000" stroke-width="1.15"/>
<circle cx="490.2" cy="516.19" r="2.5" fill="#fff" stroke="#000" stroke-width="1.15"/>
<circle cx="461.0" cy="534.13" r="2.5" fill="#fff" stroke="#000" stroke-width="1.15"/>
<circle cx="490.2" cy="526.95" r="2.5" fill="#fff" stroke="#000" stroke-width="1.15"/>
<circle cx="461.0" cy="539.52" r="2.5" fill="#fff" stroke="#000" stroke-width="1.15"/>
<circle cx="490.2" cy="532.34" r="2.5" fill="#fff" stroke="#000" stroke-width="1.15"/>
<line x1="442.20" y1="410.70" x2="442.20" y2="546.40" stroke="#000" stroke-width="1.25" />
<line x1="436.60" y1="545.80" x2="509.40" y2="545.80" stroke="#000" stroke-width="1.25" />
<line x1="436.60" y1="411.19" x2="442.20" y2="411.19" stroke="#000" stroke-width="1.25" />
<text x="435.70" y="415.59" font-size="12.4" text-anchor="end" fill="#000" font-weight="normal" >150</text>
<line x1="436.60" y1="456.06" x2="442.20" y2="456.06" stroke="#000" stroke-width="1.25" />
<text x="435.70" y="460.46" font-size="12.4" text-anchor="end" fill="#000" font-weight="normal" >100</text>
<line x1="436.60" y1="500.93" x2="442.20" y2="500.93" stroke="#000" stroke-width="1.25" />
<text x="435.70" y="505.33" font-size="12.4" text-anchor="end" fill="#000" font-weight="normal" >50</text>
<line x1="436.60" y1="545.80" x2="442.20" y2="545.80" stroke="#000" stroke-width="1.25" />
<text x="435.70" y="550.20" font-size="12.4" text-anchor="end" fill="#000" font-weight="normal" >0</text>
<line x1="461.00" y1="545.80" x2="461.00" y2="551.20" stroke="#000" stroke-width="1.25" />
<line x1="490.20" y1="545.80" x2="490.20" y2="551.20" stroke="#000" stroke-width="1.25" />
<polyline points="461.0,430.4 461.0,422.6 490.2,422.6 490.2,493.2" fill="none" stroke="#000" stroke-width="0.9"/>
<text x="474.30" y="420.30" font-size="11" text-anchor="middle" fill="#000" font-weight="normal" font-family="DejaVu Sans" style="font-family:DejaVu Sans,sans-serif">∗</text>
<text x="412.20" y="476.50" font-size="13.6" text-anchor="middle" fill="#000" font-weight="normal" transform="rotate(-90 412.20 476.50)" >Total AUC</text>
<text x="461.00" y="561.30" font-size="11.6" text-anchor="middle" fill="#000" font-weight="normal" >3G</text>
<text x="491.40" y="561.30" font-size="11.6" text-anchor="middle" fill="#000" font-weight="normal" >+los</text>
<text x="399.80" y="398.80" font-size="14" text-anchor="start" fill="#000" font-weight="bold" >I</text>
</svg>
</body></html>
